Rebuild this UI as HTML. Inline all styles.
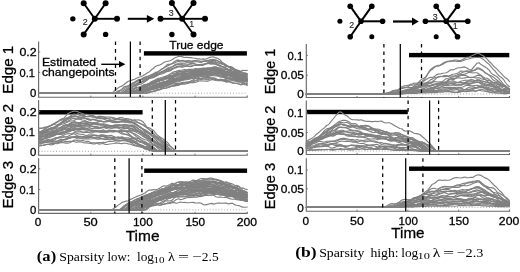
<!DOCTYPE html><html><head><meta charset="utf-8"><title>Changepoint figure</title><style>html,body{margin:0;padding:0;background:#fff;overflow:hidden}svg{display:block}</style></head><body>
<svg width="520" height="272" viewBox="0 0 520 272" font-family='"Liberation Sans", Arial, Helvetica, sans-serif' fill="#000">
<style>text{stroke:#000;stroke-width:0.28px}text.sf{stroke-width:0}</style>
<rect x="143.9" y="51.20" width="103.0" height="4.4" fill="#000"/>
<rect x="38.9" y="110.10" width="103.7" height="4.4" fill="#000"/>
<rect x="144.2" y="168.50" width="102.9" height="4.4" fill="#000"/>
<rect x="409.0" y="52.90" width="100.3" height="4.4" fill="#000"/>
<rect x="306.9" y="109.80" width="100.9" height="4.4" fill="#000"/>
<rect x="409.0" y="166.50" width="100.4" height="4.4" fill="#000"/>
<line x1="38.6" y1="93.20" x2="247.2" y2="93.20" stroke="#999" stroke-width="0.9" stroke-dasharray="1 1.9"/>
<path d="M38.60 41.5 V97.20 H247.20 v-1.6" fill="none" stroke="#6a6a6a" stroke-width="1.15"/>
<line x1="90.8" y1="97.2" x2="90.8" y2="95.6" stroke="#6a6a6a" stroke-width="0.9"/>
<line x1="142.9" y1="97.2" x2="142.9" y2="95.6" stroke="#6a6a6a" stroke-width="0.9"/>
<line x1="195.0" y1="97.2" x2="195.0" y2="95.6" stroke="#6a6a6a" stroke-width="0.9"/>
<line x1="38.6" y1="52.0" x2="40.2" y2="52.0" stroke="#6a6a6a" stroke-width="0.9"/>
<line x1="38.6" y1="72.4" x2="40.2" y2="72.4" stroke="#6a6a6a" stroke-width="0.9"/>
<line x1="38.6" y1="151.30" x2="247.2" y2="151.30" stroke="#999" stroke-width="0.9" stroke-dasharray="1 1.9"/>
<path d="M38.60 100.0 V155.20 H247.20 v-1.6" fill="none" stroke="#6a6a6a" stroke-width="1.15"/>
<line x1="90.8" y1="155.2" x2="90.8" y2="153.6" stroke="#6a6a6a" stroke-width="0.9"/>
<line x1="142.9" y1="155.2" x2="142.9" y2="153.6" stroke="#6a6a6a" stroke-width="0.9"/>
<line x1="195.0" y1="155.2" x2="195.0" y2="153.6" stroke="#6a6a6a" stroke-width="0.9"/>
<line x1="38.6" y1="111.5" x2="40.2" y2="111.5" stroke="#6a6a6a" stroke-width="0.9"/>
<line x1="38.6" y1="131.4" x2="40.2" y2="131.4" stroke="#6a6a6a" stroke-width="0.9"/>
<line x1="38.6" y1="209.90" x2="247.2" y2="209.90" stroke="#999" stroke-width="0.9" stroke-dasharray="1 1.9"/>
<path d="M38.60 158.3 V213.40 H247.20 v-1.6" fill="none" stroke="#6a6a6a" stroke-width="1.15"/>
<line x1="90.8" y1="213.4" x2="90.8" y2="211.8" stroke="#6a6a6a" stroke-width="0.9"/>
<line x1="142.9" y1="213.4" x2="142.9" y2="211.8" stroke="#6a6a6a" stroke-width="0.9"/>
<line x1="195.0" y1="213.4" x2="195.0" y2="211.8" stroke="#6a6a6a" stroke-width="0.9"/>
<line x1="38.6" y1="168.8" x2="40.2" y2="168.8" stroke="#6a6a6a" stroke-width="0.9"/>
<line x1="38.6" y1="189.5" x2="40.2" y2="189.5" stroke="#6a6a6a" stroke-width="0.9"/>
<line x1="306.3" y1="94.00" x2="509.5" y2="94.00" stroke="#999" stroke-width="0.9" stroke-dasharray="1 1.9"/>
<path d="M306.30 43.9 V97.50 H509.50 v-1.6" fill="none" stroke="#6a6a6a" stroke-width="1.15"/>
<line x1="357.1" y1="97.5" x2="357.1" y2="95.9" stroke="#6a6a6a" stroke-width="0.9"/>
<line x1="407.9" y1="97.5" x2="407.9" y2="95.9" stroke="#6a6a6a" stroke-width="0.9"/>
<line x1="458.7" y1="97.5" x2="458.7" y2="95.9" stroke="#6a6a6a" stroke-width="0.9"/>
<line x1="306.3" y1="55.4" x2="307.9" y2="55.4" stroke="#6a6a6a" stroke-width="0.9"/>
<line x1="306.3" y1="75.2" x2="307.9" y2="75.2" stroke="#6a6a6a" stroke-width="0.9"/>
<line x1="306.3" y1="151.00" x2="509.5" y2="151.00" stroke="#999" stroke-width="0.9" stroke-dasharray="1 1.9"/>
<path d="M306.30 100.5 V154.50 H509.50 v-1.6" fill="none" stroke="#6a6a6a" stroke-width="1.15"/>
<line x1="357.1" y1="154.5" x2="357.1" y2="152.9" stroke="#6a6a6a" stroke-width="0.9"/>
<line x1="407.9" y1="154.5" x2="407.9" y2="152.9" stroke="#6a6a6a" stroke-width="0.9"/>
<line x1="458.7" y1="154.5" x2="458.7" y2="152.9" stroke="#6a6a6a" stroke-width="0.9"/>
<line x1="306.3" y1="113.2" x2="307.9" y2="113.2" stroke="#6a6a6a" stroke-width="0.9"/>
<line x1="306.3" y1="132.4" x2="307.9" y2="132.4" stroke="#6a6a6a" stroke-width="0.9"/>
<line x1="306.3" y1="207.30" x2="509.5" y2="207.30" stroke="#999" stroke-width="0.9" stroke-dasharray="1 1.9"/>
<path d="M306.30 158.2 V211.20 H509.50 v-1.6" fill="none" stroke="#6a6a6a" stroke-width="1.15"/>
<line x1="357.1" y1="211.2" x2="357.1" y2="209.6" stroke="#6a6a6a" stroke-width="0.9"/>
<line x1="407.9" y1="211.2" x2="407.9" y2="209.6" stroke="#6a6a6a" stroke-width="0.9"/>
<line x1="458.7" y1="211.2" x2="458.7" y2="209.6" stroke="#6a6a6a" stroke-width="0.9"/>
<line x1="306.3" y1="170.0" x2="307.9" y2="170.0" stroke="#6a6a6a" stroke-width="0.9"/>
<line x1="306.3" y1="188.8" x2="307.9" y2="188.8" stroke="#6a6a6a" stroke-width="0.9"/>
<g fill="none" stroke="#808080" stroke-width="1.15" stroke-linejoin="round" stroke-linecap="round">
<path d="M38.6 93.2 40.7 93.2 42.8 93.2 44.9 93.2 46.9 93.2 49.0 93.2 51.1 93.2 53.2 93.2 55.3 93.2 57.4 93.2 59.5 93.2 61.5 93.2 63.6 93.2 65.7 93.2 67.8 93.2 69.9 93.2 72.0 93.2 74.1 93.2 76.1 93.2 78.2 93.2 80.3 93.2 82.4 93.2 84.5 93.2 86.6 93.2 88.7 93.2 90.8 93.2 92.8 93.2 94.9 93.2 97.0 93.2 99.1 93.2 101.2 93.2 103.3 93.2 105.4 93.2 107.4 93.2 109.5 93.2 111.6 93.2 113.7 93.2 115.8 93.2 117.9 93.2 120.0 93.2 122.0 93.2 124.1 93.0 126.2 91.8 128.3 91.0 130.4 90.1 132.5 88.5 134.6 87.8 136.6 86.0 138.7 84.6 140.8 84.2 142.9 83.0 145.0 81.8 147.1 80.0 149.2 78.1 151.2 77.2 153.3 77.6 155.4 76.5 157.5 74.6 159.6 73.3 161.7 73.0 163.8 72.6 165.8 71.6 167.9 70.8 170.0 70.2 172.1 69.5 174.2 68.3 176.3 67.4 178.4 66.8 180.4 67.0 182.5 67.3 184.6 66.7 186.7 66.0 188.8 66.5 190.9 66.7 193.0 65.7 195.0 65.2 197.1 64.7 199.2 65.1 201.3 65.4 203.4 65.2 205.5 63.6 207.6 63.0 209.7 64.0 211.7 64.1 213.8 63.7 215.9 64.5 218.0 65.4 220.1 66.2 222.2 66.8 224.3 67.4 226.3 68.5 228.4 69.5 230.5 70.8 232.6 72.1 234.7 73.9 236.8 74.5 238.9 74.4 240.9 75.3 243.0 75.7 245.1 76.2 247.2 76.6"/>
<path d="M38.6 93.2 40.7 93.2 42.8 93.2 44.9 93.2 46.9 93.2 49.0 93.2 51.1 93.2 53.2 93.2 55.3 93.2 57.4 93.2 59.5 93.2 61.5 93.2 63.6 93.2 65.7 93.2 67.8 93.2 69.9 93.2 72.0 93.2 74.1 93.2 76.1 93.2 78.2 93.2 80.3 93.2 82.4 93.2 84.5 93.2 86.6 93.2 88.7 93.2 90.8 93.2 92.8 93.2 94.9 93.2 97.0 93.2 99.1 93.2 101.2 93.2 103.3 93.2 105.4 93.2 107.4 93.2 109.5 93.2 111.6 93.2 113.7 93.2 115.8 93.2 117.9 93.2 120.0 93.1 122.0 92.6 124.1 91.8 126.2 90.6 128.3 89.0 130.4 87.9 132.5 86.6 134.6 84.7 136.6 83.4 138.7 82.5 140.8 82.0 142.9 81.7 145.0 81.0 147.1 79.9 149.2 78.5 151.2 78.0 153.3 77.6 155.4 76.4 157.5 75.6 159.6 74.4 161.7 74.0 163.8 73.2 165.8 71.9 167.9 71.4 170.0 71.0 172.1 69.2 174.2 67.9 176.3 67.8 178.4 66.1 180.4 66.4 182.5 66.3 184.6 66.0 186.7 65.8 188.8 64.7 190.9 64.7 193.0 65.2 195.0 65.3 197.1 65.5 199.2 64.9 201.3 64.3 203.4 64.7 205.5 64.0 207.6 62.9 209.7 61.9 211.7 61.6 213.8 62.0 215.9 62.4 218.0 62.8 220.1 63.7 222.2 64.3 224.3 64.4 226.3 65.1 228.4 66.7 230.5 68.0 232.6 69.1 234.7 70.8 236.8 71.5 238.9 72.1 240.9 71.9 243.0 73.1 245.1 74.5 247.2 76.0"/>
<path d="M38.6 93.2 40.7 93.2 42.8 93.2 44.9 93.2 46.9 93.2 49.0 93.2 51.1 93.2 53.2 93.2 55.3 93.2 57.4 93.2 59.5 93.2 61.5 93.2 63.6 93.2 65.7 93.2 67.8 93.2 69.9 93.2 72.0 93.2 74.1 93.2 76.1 93.2 78.2 93.2 80.3 93.2 82.4 93.2 84.5 93.2 86.6 93.2 88.7 93.2 90.8 93.2 92.8 93.2 94.9 93.2 97.0 93.2 99.1 93.2 101.2 93.2 103.3 93.2 105.4 93.2 107.4 93.2 109.5 93.2 111.6 93.2 113.7 93.2 115.8 92.2 117.9 91.1 120.0 90.4 122.0 88.9 124.1 86.9 126.2 86.2 128.3 85.9 130.4 84.4 132.5 83.2 134.6 82.3 136.6 81.7 138.7 81.0 140.8 79.8 142.9 79.4 145.0 78.8 147.1 78.2 149.2 77.3 151.2 76.0 153.3 75.2 155.4 74.9 157.5 74.2 159.6 73.0 161.7 71.6 163.8 71.0 165.8 70.4 167.9 69.9 170.0 69.1 172.1 68.5 174.2 68.1 176.3 66.6 178.4 66.2 180.4 66.2 182.5 65.6 184.6 65.7 186.7 66.0 188.8 66.4 190.9 66.4 193.0 65.5 195.0 64.9 197.1 65.0 199.2 64.6 201.3 64.9 203.4 64.6 205.5 63.9 207.6 63.6 209.7 63.3 211.7 63.5 213.8 63.6 215.9 64.1 218.0 64.8 220.1 65.6 222.2 66.4 224.3 66.9 226.3 68.4 228.4 69.6 230.5 69.5 232.6 71.4 234.7 72.7 236.8 72.1 238.9 72.4 240.9 73.7 243.0 74.4 245.1 74.2 247.2 73.9"/>
<path d="M38.6 93.2 40.7 93.2 42.8 93.2 44.9 93.2 46.9 93.2 49.0 93.2 51.1 93.2 53.2 93.2 55.3 93.2 57.4 93.2 59.5 93.2 61.5 93.2 63.6 93.2 65.7 93.2 67.8 93.2 69.9 93.2 72.0 93.2 74.1 93.2 76.1 93.2 78.2 93.2 80.3 93.2 82.4 93.2 84.5 93.2 86.6 93.2 88.7 93.2 90.8 93.2 92.8 93.2 94.9 93.2 97.0 93.2 99.1 93.2 101.2 93.2 103.3 93.2 105.4 93.2 107.4 93.2 109.5 93.2 111.6 93.2 113.7 93.2 115.8 93.2 117.9 93.2 120.0 93.2 122.0 92.9 124.1 91.9 126.2 90.2 128.3 89.9 130.4 88.7 132.5 87.1 134.6 86.0 136.6 84.8 138.7 83.4 140.8 82.1 142.9 80.8 145.0 79.1 147.1 78.9 149.2 77.8 151.2 76.8 153.3 75.7 155.4 74.2 157.5 73.0 159.6 72.9 161.7 72.1 163.8 70.6 165.8 69.4 167.9 68.0 170.0 67.3 172.1 66.9 174.2 66.1 176.3 64.9 178.4 64.1 180.4 64.6 182.5 64.3 184.6 64.2 186.7 64.3 188.8 64.1 190.9 63.3 193.0 63.4 195.0 63.8 197.1 64.6 199.2 65.1 201.3 64.7 203.4 64.1 205.5 63.8 207.6 63.4 209.7 62.6 211.7 62.6 213.8 62.8 215.9 63.3 218.0 64.5 220.1 65.6 222.2 67.0 224.3 67.7 226.3 68.4 228.4 69.7 230.5 71.3 232.6 72.4 234.7 73.2 236.8 73.5 238.9 74.1 240.9 75.2 243.0 76.0 245.1 75.6 247.2 76.0"/>
<path d="M38.6 93.2 40.7 93.2 42.8 93.2 44.9 93.2 46.9 93.2 49.0 93.2 51.1 93.2 53.2 93.2 55.3 93.2 57.4 93.2 59.5 93.2 61.5 93.2 63.6 93.2 65.7 93.2 67.8 93.2 69.9 93.2 72.0 93.2 74.1 93.2 76.1 93.2 78.2 93.2 80.3 93.2 82.4 93.2 84.5 93.2 86.6 93.2 88.7 93.2 90.8 93.2 92.8 93.2 94.9 93.2 97.0 93.2 99.1 93.2 101.2 93.2 103.3 93.2 105.4 93.2 107.4 93.2 109.5 93.2 111.6 93.2 113.7 93.2 115.8 93.2 117.9 93.2 120.0 93.2 122.0 93.2 124.1 92.3 126.2 90.8 128.3 89.0 130.4 87.9 132.5 86.5 134.6 85.0 136.6 84.3 138.7 83.3 140.8 82.6 142.9 81.3 145.0 80.1 147.1 79.1 149.2 78.4 151.2 77.7 153.3 76.5 155.4 75.4 157.5 73.9 159.6 73.0 161.7 72.6 163.8 71.2 165.8 70.1 167.9 68.8 170.0 68.0 172.1 67.0 174.2 65.1 176.3 64.1 178.4 63.7 180.4 63.8 182.5 63.3 184.6 63.2 186.7 62.8 188.8 62.2 190.9 61.9 193.0 62.2 195.0 61.7 197.1 61.7 199.2 62.3 201.3 62.4 203.4 61.5 205.5 60.8 207.6 60.2 209.7 60.3 211.7 60.5 213.8 60.5 215.9 61.8 218.0 62.7 220.1 63.3 222.2 63.6 224.3 65.0 226.3 66.7 228.4 66.5 230.5 67.4 232.6 68.0 234.7 69.0 236.8 69.9 238.9 70.7 240.9 72.0 243.0 73.2 245.1 73.5 247.2 74.5"/>
<path d="M38.6 93.2 40.7 93.2 42.8 93.2 44.9 93.2 46.9 93.2 49.0 93.2 51.1 93.2 53.2 93.2 55.3 93.2 57.4 93.2 59.5 93.2 61.5 93.2 63.6 93.2 65.7 93.2 67.8 93.2 69.9 93.2 72.0 93.2 74.1 93.2 76.1 93.2 78.2 93.2 80.3 93.2 82.4 93.2 84.5 93.2 86.6 93.2 88.7 93.2 90.8 93.2 92.8 93.2 94.9 93.2 97.0 93.2 99.1 93.2 101.2 93.2 103.3 93.2 105.4 93.2 107.4 93.2 109.5 93.2 111.6 93.2 113.7 93.2 115.8 93.2 117.9 93.2 120.0 92.9 122.0 91.7 124.1 90.1 126.2 88.9 128.3 87.6 130.4 86.1 132.5 84.8 134.6 83.0 136.6 81.0 138.7 79.4 140.8 79.6 142.9 78.7 145.0 77.9 147.1 77.2 149.2 76.0 151.2 75.1 153.3 73.7 155.4 72.4 157.5 72.1 159.6 70.4 161.7 69.1 163.8 68.3 165.8 66.9 167.9 65.8 170.0 64.8 172.1 63.7 174.2 63.3 176.3 62.0 178.4 61.4 180.4 61.9 182.5 61.7 184.6 61.6 186.7 61.4 188.8 62.0 190.9 61.7 193.0 61.1 195.0 60.5 197.1 61.0 199.2 61.0 201.3 61.7 203.4 61.2 205.5 61.0 207.6 61.0 209.7 61.4 211.7 61.8 213.8 60.9 215.9 59.9 218.0 60.9 220.1 62.0 222.2 62.5 224.3 63.9 226.3 65.3 228.4 66.3 230.5 66.5 232.6 67.4 234.7 69.5 236.8 70.3 238.9 70.7 240.9 71.7 243.0 73.9 245.1 74.2 247.2 74.8"/>
<path d="M38.6 93.2 40.7 93.2 42.8 93.2 44.9 93.2 46.9 93.2 49.0 93.2 51.1 93.2 53.2 93.2 55.3 93.2 57.4 93.2 59.5 93.2 61.5 93.2 63.6 93.2 65.7 93.2 67.8 93.2 69.9 93.2 72.0 93.2 74.1 93.2 76.1 93.2 78.2 93.2 80.3 93.2 82.4 93.2 84.5 93.2 86.6 93.2 88.7 93.2 90.8 93.2 92.8 93.2 94.9 93.2 97.0 93.2 99.1 93.2 101.2 93.2 103.3 93.2 105.4 93.2 107.4 93.2 109.5 93.2 111.6 93.2 113.7 93.2 115.8 93.1 117.9 91.9 120.0 91.1 122.0 90.1 124.1 88.4 126.2 87.3 128.3 86.0 130.4 84.4 132.5 83.2 134.6 82.2 136.6 80.7 138.7 80.4 140.8 79.5 142.9 78.0 145.0 77.0 147.1 76.3 149.2 75.7 151.2 74.9 153.3 74.4 155.4 73.7 157.5 72.0 159.6 71.0 161.7 69.4 163.8 67.6 165.8 66.0 167.9 64.3 170.0 64.4 172.1 63.5 174.2 61.8 176.3 60.4 178.4 60.1 180.4 60.7 182.5 60.2 184.6 60.8 186.7 60.8 188.8 60.5 190.9 61.1 193.0 61.1 195.0 60.7 197.1 60.8 199.2 61.0 201.3 61.3 203.4 61.1 205.5 61.4 207.6 61.2 209.7 59.9 211.7 59.6 213.8 59.4 215.9 60.2 218.0 61.0 220.1 62.0 222.2 63.2 224.3 63.8 226.3 65.3 228.4 66.8 230.5 68.4 232.6 68.9 234.7 70.0 236.8 70.7 238.9 71.3 240.9 71.1 243.0 70.4 245.1 70.5 247.2 70.4"/>
<path d="M38.6 93.2 40.7 93.2 42.8 93.2 44.9 93.2 46.9 93.2 49.0 93.2 51.1 93.2 53.2 93.2 55.3 93.2 57.4 93.2 59.5 93.2 61.5 93.2 63.6 93.2 65.7 93.2 67.8 93.2 69.9 93.2 72.0 93.2 74.1 93.2 76.1 93.2 78.2 93.2 80.3 93.2 82.4 93.2 84.5 93.2 86.6 93.2 88.7 93.2 90.8 93.2 92.8 93.2 94.9 93.2 97.0 93.2 99.1 93.2 101.2 93.2 103.3 93.2 105.4 93.2 107.4 93.2 109.5 93.2 111.6 93.1 113.7 91.6 115.8 89.7 117.9 88.1 120.0 86.8 122.0 86.1 124.1 84.5 126.2 82.8 128.3 81.3 130.4 80.7 132.5 79.9 134.6 79.3 136.6 78.2 138.7 77.3 140.8 76.8 142.9 75.8 145.0 74.4 147.1 73.0 149.2 71.9 151.2 70.0 153.3 68.5 155.4 66.4 157.5 65.4 159.6 65.1 161.7 64.1 163.8 62.3 165.8 61.8 167.9 61.3 170.0 60.8 172.1 59.7 174.2 58.2 176.3 57.3 178.4 56.5 180.4 56.3 182.5 56.9 184.6 57.5 186.7 57.3 188.8 57.6 190.9 57.6 193.0 58.0 195.0 58.3 197.1 58.9 199.2 58.9 201.3 59.2 203.4 58.9 205.5 59.2 207.6 58.2 209.7 57.4 211.7 57.0 213.8 56.9 215.9 57.9 218.0 58.5 220.1 59.9 222.2 62.4 224.3 64.1 226.3 65.4 228.4 66.5 230.5 68.0 232.6 69.7 234.7 70.1 236.8 70.9 238.9 71.7 240.9 71.9 243.0 72.5 245.1 72.9 247.2 73.8"/>
<path d="M38.6 93.2 40.7 93.2 42.8 93.2 44.9 93.2 46.9 93.2 49.0 93.2 51.1 93.2 53.2 93.2 55.3 93.2 57.4 93.2 59.5 93.2 61.5 93.2 63.6 93.2 65.7 93.2 67.8 93.2 69.9 93.2 72.0 93.2 74.1 93.2 76.1 93.2 78.2 93.2 80.3 93.2 82.4 93.2 84.5 93.2 86.6 93.2 88.7 93.2 90.8 93.2 92.8 93.2 94.9 93.2 97.0 93.2 99.1 93.2 101.2 93.2 103.3 93.2 105.4 93.2 107.4 93.2 109.5 93.2 111.6 93.2 113.7 93.2 115.8 93.2 117.9 93.2 120.0 93.2 122.0 93.2 124.1 93.2 126.2 93.2 128.3 93.2 130.4 93.2 132.5 93.2 134.6 93.2 136.6 93.2 138.7 93.2 140.8 92.5 142.9 91.9 145.0 90.5 147.1 88.7 149.2 89.1 151.2 89.0 153.3 88.9 155.4 87.9 157.5 87.2 159.6 86.3 161.7 86.0 163.8 85.6 165.8 84.3 167.9 84.0 170.0 83.6 172.1 82.7 174.2 82.0 176.3 80.8 178.4 80.1 180.4 79.5 182.5 78.8 184.6 78.6 186.7 77.7 188.8 77.6 190.9 76.1 193.0 75.7 195.0 75.7 197.1 75.3 199.2 74.4 201.3 74.3 203.4 74.3 205.5 74.1 207.6 74.7 209.7 74.8 211.7 74.4 213.8 74.2 215.9 74.8 218.0 75.4 220.1 75.8 222.2 75.9 224.3 76.4 226.3 77.9 228.4 78.5 230.5 78.7 232.6 78.7 234.7 78.8 236.8 79.3 238.9 79.2 240.9 79.2 243.0 80.1 245.1 80.4 247.2 80.4"/>
<path d="M38.6 93.2 40.7 93.2 42.8 93.2 44.9 93.2 46.9 93.2 49.0 93.2 51.1 93.2 53.2 93.2 55.3 93.2 57.4 93.2 59.5 93.2 61.5 93.2 63.6 93.2 65.7 93.2 67.8 93.2 69.9 93.2 72.0 93.2 74.1 93.2 76.1 93.2 78.2 93.2 80.3 93.2 82.4 93.2 84.5 93.2 86.6 93.2 88.7 93.2 90.8 93.2 92.8 93.2 94.9 93.2 97.0 93.2 99.1 93.2 101.2 93.2 103.3 93.2 105.4 93.2 107.4 93.2 109.5 93.2 111.6 93.2 113.7 93.2 115.8 93.2 117.9 93.2 120.0 93.2 122.0 93.2 124.1 93.2 126.2 93.2 128.3 93.2 130.4 93.2 132.5 93.2 134.6 93.2 136.6 93.2 138.7 93.2 140.8 92.7 142.9 92.0 145.0 91.0 147.1 89.8 149.2 89.4 151.2 89.4 153.3 88.7 155.4 87.9 157.5 87.5 159.6 87.5 161.7 86.5 163.8 85.8 165.8 84.8 167.9 83.9 170.0 83.6 172.1 82.8 174.2 81.6 176.3 80.6 178.4 80.6 180.4 80.7 182.5 80.1 184.6 79.1 186.7 78.7 188.8 79.0 190.9 78.8 193.0 78.5 195.0 78.2 197.1 78.0 199.2 77.3 201.3 76.5 203.4 76.1 205.5 76.1 207.6 76.2 209.7 76.0 211.7 75.5 213.8 74.5 215.9 74.4 218.0 75.0 220.1 75.5 222.2 76.6 224.3 77.7 226.3 78.6 228.4 78.9 230.5 79.5 232.6 79.9 234.7 80.2 236.8 80.8 238.9 81.2 240.9 81.0 243.0 81.0 245.1 81.1 247.2 81.2"/>
<path d="M38.6 93.2 40.7 93.2 42.8 93.2 44.9 93.2 46.9 93.2 49.0 93.2 51.1 93.2 53.2 93.2 55.3 93.2 57.4 93.2 59.5 93.2 61.5 93.2 63.6 93.2 65.7 93.2 67.8 93.2 69.9 93.2 72.0 93.2 74.1 93.2 76.1 93.2 78.2 93.2 80.3 93.2 82.4 93.2 84.5 93.2 86.6 93.2 88.7 93.2 90.8 93.2 92.8 93.2 94.9 93.2 97.0 93.2 99.1 93.2 101.2 93.2 103.3 93.2 105.4 93.2 107.4 93.2 109.5 93.2 111.6 93.2 113.7 93.2 115.8 93.2 117.9 93.2 120.0 93.2 122.0 93.2 124.1 93.2 126.2 93.2 128.3 93.2 130.4 93.2 132.5 93.2 134.6 93.2 136.6 93.2 138.7 93.1 140.8 92.8 142.9 92.4 145.0 91.4 147.1 90.3 149.2 89.6 151.2 89.2 153.3 88.7 155.4 87.5 157.5 87.0 159.6 86.5 161.7 86.0 163.8 85.7 165.8 85.2 167.9 84.7 170.0 84.2 172.1 83.2 174.2 82.4 176.3 81.9 178.4 81.9 180.4 80.8 182.5 80.3 184.6 80.0 186.7 79.7 188.8 79.2 190.9 78.6 193.0 77.5 195.0 77.0 197.1 76.3 199.2 75.9 201.3 76.1 203.4 76.1 205.5 75.9 207.6 75.6 209.7 75.7 211.7 75.8 213.8 75.7 215.9 75.9 218.0 76.1 220.1 77.1 222.2 77.1 224.3 77.6 226.3 78.7 228.4 78.7 230.5 78.8 232.6 79.0 234.7 79.6 236.8 79.5 238.9 79.9 240.9 79.9 243.0 79.8 245.1 81.1 247.2 82.8"/>
<path d="M38.6 93.2 40.7 93.2 42.8 93.2 44.9 93.2 46.9 93.2 49.0 93.2 51.1 93.2 53.2 93.2 55.3 93.2 57.4 93.2 59.5 93.2 61.5 93.2 63.6 93.2 65.7 93.2 67.8 93.2 69.9 93.2 72.0 93.2 74.1 93.2 76.1 93.2 78.2 93.2 80.3 93.2 82.4 93.2 84.5 93.2 86.6 93.2 88.7 93.2 90.8 93.2 92.8 93.2 94.9 93.2 97.0 93.2 99.1 93.2 101.2 93.2 103.3 93.2 105.4 93.2 107.4 93.2 109.5 93.2 111.6 93.2 113.7 93.2 115.8 93.2 117.9 93.2 120.0 93.2 122.0 93.2 124.1 93.2 126.2 93.2 128.3 93.2 130.4 93.2 132.5 93.2 134.6 93.2 136.6 93.2 138.7 93.2 140.8 92.6 142.9 91.6 145.0 91.3 147.1 90.8 149.2 89.7 151.2 89.0 153.3 88.8 155.4 88.9 157.5 87.9 159.6 86.4 161.7 85.5 163.8 85.1 165.8 84.0 167.9 83.0 170.0 82.3 172.1 82.1 174.2 81.2 176.3 80.8 178.4 79.9 180.4 79.7 182.5 79.9 184.6 79.3 186.7 78.3 188.8 77.7 190.9 77.8 193.0 77.1 195.0 76.0 197.1 75.5 199.2 75.5 201.3 75.0 203.4 74.4 205.5 74.3 207.6 73.7 209.7 73.2 211.7 73.7 213.8 74.2 215.9 73.2 218.0 73.0 220.1 73.2 222.2 74.0 224.3 74.8 226.3 74.3 228.4 74.5 230.5 74.8 232.6 75.6 234.7 76.2 236.8 76.7 238.9 76.9 240.9 78.0 243.0 79.2 245.1 80.2 247.2 80.3"/>
<path d="M38.6 93.2 40.7 93.2 42.8 93.2 44.9 93.2 46.9 93.2 49.0 93.2 51.1 93.2 53.2 93.2 55.3 93.2 57.4 93.2 59.5 93.2 61.5 93.2 63.6 93.2 65.7 93.2 67.8 93.2 69.9 93.2 72.0 93.2 74.1 93.2 76.1 93.2 78.2 93.2 80.3 93.2 82.4 93.2 84.5 93.2 86.6 93.2 88.7 93.2 90.8 93.2 92.8 93.2 94.9 93.2 97.0 93.2 99.1 93.2 101.2 93.2 103.3 93.2 105.4 93.2 107.4 93.2 109.5 93.2 111.6 93.2 113.7 93.2 115.8 93.2 117.9 93.2 120.0 93.2 122.0 93.2 124.1 93.2 126.2 93.2 128.3 93.2 130.4 93.2 132.5 93.2 134.6 93.2 136.6 93.2 138.7 93.2 140.8 92.5 142.9 91.4 145.0 90.4 147.1 89.2 149.2 88.5 151.2 88.3 153.3 87.2 155.4 86.4 157.5 86.0 159.6 85.4 161.7 85.0 163.8 84.0 165.8 83.7 167.9 82.9 170.0 81.6 172.1 81.0 174.2 81.2 176.3 80.8 178.4 80.2 180.4 80.9 182.5 79.2 184.6 78.6 186.7 79.0 188.8 78.0 190.9 77.4 193.0 77.3 195.0 77.7 197.1 76.7 199.2 75.9 201.3 75.7 203.4 75.8 205.5 76.1 207.6 76.8 209.7 75.8 211.7 75.1 213.8 74.6 215.9 74.7 218.0 74.9 220.1 74.9 222.2 75.0 224.3 76.1 226.3 76.2 228.4 77.3 230.5 78.6 232.6 79.1 234.7 79.0 236.8 79.8 238.9 79.5 240.9 79.8 243.0 80.6 245.1 80.8 247.2 80.4"/>
<path d="M38.6 93.2 40.7 93.2 42.8 93.2 44.9 93.2 46.9 93.2 49.0 93.2 51.1 93.2 53.2 93.2 55.3 93.2 57.4 93.2 59.5 93.2 61.5 93.2 63.6 93.2 65.7 93.2 67.8 93.2 69.9 93.2 72.0 93.2 74.1 93.2 76.1 93.2 78.2 93.2 80.3 93.2 82.4 93.2 84.5 93.2 86.6 93.2 88.7 93.2 90.8 93.2 92.8 93.2 94.9 93.2 97.0 93.2 99.1 93.2 101.2 93.2 103.3 93.2 105.4 93.2 107.4 93.2 109.5 93.2 111.6 93.2 113.7 93.2 115.8 93.2 117.9 93.2 120.0 93.2 122.0 93.2 124.1 93.2 126.2 93.2 128.3 93.2 130.4 93.2 132.5 93.2 134.6 93.2 136.6 93.2 138.7 92.9 140.8 92.0 142.9 91.6 145.0 91.2 147.1 90.8 149.2 89.7 151.2 88.7 153.3 87.8 155.4 87.2 157.5 86.2 159.6 85.6 161.7 84.9 163.8 83.8 165.8 83.5 167.9 82.5 170.0 81.1 172.1 81.0 174.2 81.1 176.3 80.3 178.4 79.6 180.4 79.2 182.5 78.9 184.6 78.0 186.7 77.6 188.8 76.4 190.9 75.5 193.0 74.6 195.0 74.1 197.1 75.1 199.2 75.2 201.3 74.9 203.4 74.4 205.5 73.9 207.6 74.2 209.7 74.5 211.7 74.6 213.8 74.3 215.9 74.3 218.0 74.8 220.1 75.7 222.2 75.7 224.3 75.9 226.3 76.7 228.4 77.7 230.5 77.7 232.6 78.1 234.7 79.1 236.8 80.2 238.9 80.7 240.9 80.6 243.0 81.2 245.1 81.4 247.2 80.8"/>
<path d="M38.6 93.2 40.7 93.2 42.8 93.2 44.9 93.2 46.9 93.2 49.0 93.2 51.1 93.2 53.2 93.2 55.3 93.2 57.4 93.2 59.5 93.2 61.5 93.2 63.6 93.2 65.7 93.2 67.8 93.2 69.9 93.2 72.0 93.2 74.1 93.2 76.1 93.2 78.2 93.2 80.3 93.2 82.4 93.2 84.5 93.2 86.6 93.2 88.7 93.2 90.8 93.2 92.8 93.2 94.9 93.2 97.0 93.2 99.1 93.2 101.2 93.2 103.3 93.2 105.4 93.2 107.4 93.2 109.5 93.2 111.6 93.2 113.7 93.2 115.8 93.2 117.9 93.2 120.0 93.2 122.0 93.2 124.1 93.2 126.2 93.2 128.3 93.2 130.4 93.2 132.5 93.2 134.6 93.2 136.6 93.2 138.7 92.8 140.8 91.7 142.9 90.7 145.0 90.5 147.1 89.6 149.2 89.2 151.2 88.6 153.3 88.0 155.4 86.9 157.5 85.2 159.6 84.4 161.7 84.0 163.8 83.4 165.8 83.3 167.9 83.1 170.0 82.5 172.1 81.0 174.2 79.9 176.3 79.2 178.4 79.2 180.4 78.9 182.5 78.6 184.6 77.5 186.7 77.1 188.8 77.0 190.9 77.0 193.0 76.7 195.0 76.0 197.1 74.9 199.2 74.4 201.3 73.5 203.4 73.3 205.5 73.7 207.6 73.6 209.7 73.1 211.7 72.6 213.8 72.5 215.9 71.9 218.0 72.1 220.1 73.2 222.2 75.1 224.3 76.0 226.3 75.4 228.4 75.6 230.5 76.7 232.6 77.1 234.7 77.7 236.8 78.2 238.9 78.4 240.9 79.2 243.0 79.5 245.1 79.9 247.2 80.9"/>
<path d="M38.6 93.2 40.7 93.2 42.8 93.2 44.9 93.2 46.9 93.2 49.0 93.2 51.1 93.2 53.2 93.2 55.3 93.2 57.4 93.2 59.5 93.2 61.5 93.2 63.6 93.2 65.7 93.2 67.8 93.2 69.9 93.2 72.0 93.2 74.1 93.2 76.1 93.2 78.2 93.2 80.3 93.2 82.4 93.2 84.5 93.2 86.6 93.2 88.7 93.2 90.8 93.2 92.8 93.2 94.9 93.2 97.0 93.2 99.1 93.2 101.2 93.2 103.3 93.2 105.4 93.2 107.4 93.2 109.5 93.2 111.6 93.2 113.7 93.2 115.8 93.2 117.9 93.2 120.0 93.2 122.0 93.2 124.1 93.2 126.2 93.2 128.3 93.2 130.4 93.2 132.5 93.2 134.6 92.4 136.6 91.4 138.7 89.9 140.8 88.4 142.9 87.6 145.0 87.4 147.1 86.6 149.2 85.6 151.2 85.0 153.3 84.4 155.4 83.8 157.5 83.3 159.6 82.9 161.7 82.6 163.8 82.7 165.8 82.3 167.9 81.9 170.0 81.2 172.1 80.6 174.2 79.5 176.3 78.8 178.4 78.9 180.4 78.4 182.5 77.2 184.6 76.2 186.7 75.9 188.8 75.8 190.9 75.6 193.0 75.2 195.0 74.4 197.1 73.7 199.2 73.3 201.3 73.3 203.4 73.4 205.5 73.1 207.6 72.8 209.7 72.9 211.7 72.8 213.8 73.2 215.9 73.2 218.0 73.4 220.1 73.7 222.2 74.1 224.3 74.4 226.3 75.2 228.4 75.5 230.5 75.2 232.6 75.8 234.7 76.3 236.8 76.8 238.9 76.6 240.9 77.2 243.0 78.7 245.1 79.7 247.2 79.6"/>
<path d="M38.6 93.2 40.7 93.2 42.8 93.2 44.9 93.2 46.9 93.2 49.0 93.2 51.1 93.2 53.2 93.2 55.3 93.2 57.4 93.2 59.5 93.2 61.5 93.2 63.6 93.2 65.7 93.2 67.8 93.2 69.9 93.2 72.0 93.2 74.1 93.2 76.1 93.2 78.2 93.2 80.3 93.2 82.4 93.2 84.5 93.2 86.6 93.2 88.7 93.2 90.8 93.2 92.8 93.2 94.9 93.2 97.0 93.2 99.1 93.2 101.2 93.2 103.3 93.2 105.4 93.2 107.4 93.2 109.5 93.2 111.6 93.2 113.7 93.2 115.8 93.2 117.9 93.2 120.0 93.2 122.0 93.2 124.1 93.2 126.2 93.2 128.3 93.2 130.4 93.2 132.5 93.2 134.6 93.1 136.6 92.0 138.7 91.4 140.8 91.4 142.9 90.7 145.0 90.0 147.1 89.5 149.2 88.2 151.2 86.9 153.3 85.7 155.4 85.0 157.5 84.4 159.6 83.4 161.7 82.3 163.8 81.5 165.8 81.4 167.9 80.7 170.0 78.4 172.1 77.7 174.2 77.1 176.3 76.0 178.4 76.1 180.4 76.0 182.5 75.3 184.6 74.6 186.7 74.2 188.8 73.6 190.9 73.1 193.0 72.4 195.0 72.3 197.1 72.7 199.2 72.3 201.3 72.2 203.4 72.0 205.5 71.5 207.6 71.0 209.7 71.8 211.7 72.3 213.8 71.8 215.9 71.8 218.0 71.4 220.1 71.8 222.2 72.3 224.3 73.5 226.3 74.3 228.4 74.6 230.5 75.5 232.6 76.1 234.7 76.5 236.8 77.2 238.9 78.4 240.9 79.1 243.0 78.8 245.1 79.7 247.2 80.3"/>
<path d="M38.6 93.2 40.7 93.2 42.8 93.2 44.9 93.2 46.9 93.2 49.0 93.2 51.1 93.2 53.2 93.2 55.3 93.2 57.4 93.2 59.5 93.2 61.5 93.2 63.6 93.2 65.7 93.2 67.8 93.2 69.9 93.2 72.0 93.2 74.1 93.2 76.1 93.2 78.2 93.2 80.3 93.2 82.4 93.2 84.5 93.2 86.6 93.2 88.7 93.2 90.8 93.2 92.8 93.2 94.9 93.2 97.0 93.2 99.1 93.2 101.2 93.2 103.3 93.2 105.4 93.2 107.4 93.2 109.5 93.2 111.6 93.2 113.7 93.2 115.8 93.2 117.9 93.2 120.0 93.2 122.0 93.2 124.1 93.2 126.2 93.2 128.3 93.2 130.4 93.2 132.5 93.2 134.6 93.2 136.6 92.8 138.7 91.6 140.8 90.6 142.9 89.8 145.0 89.4 147.1 89.3 149.2 88.8 151.2 86.8 153.3 85.6 155.4 84.9 157.5 84.1 159.6 83.1 161.7 82.4 163.8 82.1 165.8 81.5 167.9 80.4 170.0 79.2 172.1 78.2 174.2 78.4 176.3 77.7 178.4 77.3 180.4 76.7 182.5 75.6 184.6 76.1 186.7 76.2 188.8 75.9 190.9 75.2 193.0 75.3 195.0 75.3 197.1 74.3 199.2 73.5 201.3 73.5 203.4 73.5 205.5 73.8 207.6 73.7 209.7 73.3 211.7 73.2 213.8 72.7 215.9 72.7 218.0 72.8 220.1 72.7 222.2 73.2 224.3 73.4 226.3 74.1 228.4 75.2 230.5 76.1 232.6 76.6 234.7 77.3 236.8 77.4 238.9 78.3 240.9 79.0 243.0 79.3 245.1 79.8 247.2 79.8"/>
<path d="M38.6 93.2 40.7 93.2 42.8 93.2 44.9 93.2 46.9 93.2 49.0 93.2 51.1 93.2 53.2 93.2 55.3 93.2 57.4 93.2 59.5 93.2 61.5 93.2 63.6 93.2 65.7 93.2 67.8 93.2 69.9 93.2 72.0 93.2 74.1 93.2 76.1 93.2 78.2 93.2 80.3 93.2 82.4 93.2 84.5 93.2 86.6 93.2 88.7 93.2 90.8 93.2 92.8 93.2 94.9 93.2 97.0 93.2 99.1 93.2 101.2 93.2 103.3 93.2 105.4 93.2 107.4 93.2 109.5 93.2 111.6 93.2 113.7 93.2 115.8 93.2 117.9 93.2 120.0 93.2 122.0 93.2 124.1 93.2 126.2 93.2 128.3 93.2 130.4 93.2 132.5 93.2 134.6 93.0 136.6 92.2 138.7 91.7 140.8 91.3 142.9 90.2 145.0 89.1 147.1 88.2 149.2 86.8 151.2 86.2 153.3 86.0 155.4 85.3 157.5 84.9 159.6 84.4 161.7 83.7 163.8 82.7 165.8 83.1 167.9 82.4 170.0 81.2 172.1 80.7 174.2 80.9 176.3 80.1 178.4 79.0 180.4 78.5 182.5 77.8 184.6 77.0 186.7 76.2 188.8 75.5 190.9 75.3 193.0 74.1 195.0 73.4 197.1 72.6 199.2 71.9 201.3 71.2 203.4 71.9 205.5 71.5 207.6 71.6 209.7 71.5 211.7 70.9 213.8 70.9 215.9 70.7 218.0 71.2 220.1 72.1 222.2 72.0 224.3 72.8 226.3 74.1 228.4 75.0 230.5 75.9 232.6 76.3 234.7 76.6 236.8 77.0 238.9 77.7 240.9 78.4 243.0 78.8 245.1 79.2 247.2 79.2"/>
<path d="M38.6 93.2 40.7 93.2 42.8 93.2 44.9 93.2 46.9 93.2 49.0 93.2 51.1 93.2 53.2 93.2 55.3 93.2 57.4 93.2 59.5 93.2 61.5 93.2 63.6 93.2 65.7 93.2 67.8 93.2 69.9 93.2 72.0 93.2 74.1 93.2 76.1 93.2 78.2 93.2 80.3 93.2 82.4 93.2 84.5 93.2 86.6 93.2 88.7 93.2 90.8 93.2 92.8 93.2 94.9 93.2 97.0 93.2 99.1 93.2 101.2 93.2 103.3 93.2 105.4 93.2 107.4 93.2 109.5 93.2 111.6 93.2 113.7 93.2 115.8 93.2 117.9 93.2 120.0 93.2 122.0 93.2 124.1 93.2 126.2 93.2 128.3 93.2 130.4 93.2 132.5 93.2 134.6 93.0 136.6 92.4 138.7 91.4 140.8 90.1 142.9 88.9 145.0 87.9 147.1 87.5 149.2 87.3 151.2 86.5 153.3 86.0 155.4 85.2 157.5 84.8 159.6 84.2 161.7 83.7 163.8 83.5 165.8 82.5 167.9 81.6 170.0 79.9 172.1 79.0 174.2 79.2 176.3 78.7 178.4 77.2 180.4 76.7 182.5 76.1 184.6 74.9 186.7 75.3 188.8 75.4 190.9 74.8 193.0 74.0 195.0 73.3 197.1 73.6 199.2 74.0 201.3 73.5 203.4 72.8 205.5 73.3 207.6 72.5 209.7 71.4 211.7 71.1 213.8 70.8 215.9 70.9 218.0 70.9 220.1 71.1 222.2 71.5 224.3 72.0 226.3 72.7 228.4 73.2 230.5 74.2 232.6 75.1 234.7 76.2 236.8 76.5 238.9 77.4 240.9 78.6 243.0 79.8 245.1 80.5 247.2 81.5"/>
<path d="M38.6 93.2 40.7 93.2 42.8 93.2 44.9 93.2 46.9 93.2 49.0 93.2 51.1 93.2 53.2 93.2 55.3 93.2 57.4 93.2 59.5 93.2 61.5 93.2 63.6 93.2 65.7 93.2 67.8 93.2 69.9 93.2 72.0 93.2 74.1 93.2 76.1 93.2 78.2 93.2 80.3 93.2 82.4 93.2 84.5 93.2 86.6 93.2 88.7 93.2 90.8 93.2 92.8 93.2 94.9 93.2 97.0 93.2 99.1 93.2 101.2 93.2 103.3 93.2 105.4 93.2 107.4 93.2 109.5 93.2 111.6 93.2 113.7 93.2 115.8 93.2 117.9 93.2 120.0 93.2 122.0 93.2 124.1 93.2 126.2 93.2 128.3 93.2 130.4 92.9 132.5 92.0 134.6 91.2 136.6 90.7 138.7 90.6 140.8 89.5 142.9 87.9 145.0 87.0 147.1 86.2 149.2 84.5 151.2 83.5 153.3 83.4 155.4 82.8 157.5 81.3 159.6 80.4 161.7 79.3 163.8 78.6 165.8 78.5 167.9 78.0 170.0 77.1 172.1 76.9 174.2 76.6 176.3 75.1 178.4 74.4 180.4 74.4 182.5 74.1 184.6 74.2 186.7 74.1 188.8 73.9 190.9 74.4 193.0 74.4 195.0 73.7 197.1 73.3 199.2 72.5 201.3 72.6 203.4 72.7 205.5 72.2 207.6 71.9 209.7 70.6 211.7 70.3 213.8 69.9 215.9 70.1 218.0 71.0 220.1 71.9 222.2 72.0 224.3 72.7 226.3 73.5 228.4 74.0 230.5 73.6 232.6 74.3 234.7 75.3 236.8 76.1 238.9 75.9 240.9 76.4 243.0 76.8 245.1 77.8 247.2 78.8"/>
<path d="M38.6 93.2 40.7 93.2 42.8 93.2 44.9 93.2 46.9 93.2 49.0 93.2 51.1 93.2 53.2 93.2 55.3 93.2 57.4 93.2 59.5 93.2 61.5 93.2 63.6 93.2 65.7 93.2 67.8 93.2 69.9 93.2 72.0 93.2 74.1 93.2 76.1 93.2 78.2 93.2 80.3 93.2 82.4 93.2 84.5 93.2 86.6 93.2 88.7 93.2 90.8 93.2 92.8 93.2 94.9 93.2 97.0 93.2 99.1 93.2 101.2 93.2 103.3 93.2 105.4 93.2 107.4 93.2 109.5 93.2 111.6 93.2 113.7 93.2 115.8 93.2 117.9 93.2 120.0 93.2 122.0 93.2 124.1 93.2 126.2 93.2 128.3 93.2 130.4 93.2 132.5 93.2 134.6 93.2 136.6 92.5 138.7 91.8 140.8 91.6 142.9 90.7 145.0 89.2 147.1 88.6 149.2 88.2 151.2 87.2 153.3 86.4 155.4 85.7 157.5 84.6 159.6 83.4 161.7 82.8 163.8 82.7 165.8 82.0 167.9 81.1 170.0 80.6 172.1 79.6 174.2 79.0 176.3 79.0 178.4 78.8 180.4 77.8 182.5 76.9 184.6 76.2 186.7 75.5 188.8 75.5 190.9 75.2 193.0 74.7 195.0 74.1 197.1 73.1 199.2 73.2 201.3 73.2 203.4 72.5 205.5 71.7 207.6 71.9 209.7 71.7 211.7 70.7 213.8 70.1 215.9 70.6 218.0 71.2 220.1 72.0 222.2 72.4 224.3 73.8 226.3 74.6 228.4 75.3 230.5 76.1 232.6 76.3 234.7 76.6 236.8 77.3 238.9 77.1 240.9 77.9 243.0 78.9 245.1 79.8 247.2 80.2"/>
<path d="M38.6 93.2 40.7 93.2 42.8 93.2 44.9 93.2 46.9 93.2 49.0 93.2 51.1 93.2 53.2 93.2 55.3 93.2 57.4 93.2 59.5 93.2 61.5 93.2 63.6 93.2 65.7 93.2 67.8 93.2 69.9 93.2 72.0 93.2 74.1 93.2 76.1 93.2 78.2 93.2 80.3 93.2 82.4 93.2 84.5 93.2 86.6 93.2 88.7 93.2 90.8 93.2 92.8 93.2 94.9 93.2 97.0 93.2 99.1 93.2 101.2 93.2 103.3 93.2 105.4 93.2 107.4 93.2 109.5 93.2 111.6 93.2 113.7 93.2 115.8 93.2 117.9 93.2 120.0 93.2 122.0 93.2 124.1 93.2 126.2 93.2 128.3 93.2 130.4 93.2 132.5 93.2 134.6 92.3 136.6 91.2 138.7 90.2 140.8 89.5 142.9 88.1 145.0 86.4 147.1 85.7 149.2 85.3 151.2 84.2 153.3 82.8 155.4 81.5 157.5 81.2 159.6 80.5 161.7 79.4 163.8 78.4 165.8 78.5 167.9 78.6 170.0 77.6 172.1 75.8 174.2 75.4 176.3 75.6 178.4 74.7 180.4 74.3 182.5 74.1 184.6 73.6 186.7 73.2 188.8 73.2 190.9 73.8 193.0 73.1 195.0 72.6 197.1 72.2 199.2 71.3 201.3 71.4 203.4 70.9 205.5 69.4 207.6 69.0 209.7 68.5 211.7 68.3 213.8 68.7 215.9 68.3 218.0 69.1 220.1 69.7 222.2 70.2 224.3 71.0 226.3 71.9 228.4 72.4 230.5 72.7 232.6 73.3 234.7 74.5 236.8 74.5 238.9 75.3 240.9 75.4 243.0 76.4 245.1 77.3 247.2 78.6"/>
<path d="M38.6 93.2 40.7 93.2 42.8 93.2 44.9 93.2 46.9 93.2 49.0 93.2 51.1 93.2 53.2 93.2 55.3 93.2 57.4 93.2 59.5 93.2 61.5 93.2 63.6 93.2 65.7 93.2 67.8 93.2 69.9 93.2 72.0 93.2 74.1 93.2 76.1 93.2 78.2 93.2 80.3 93.2 82.4 93.2 84.5 93.2 86.6 93.2 88.7 93.2 90.8 93.2 92.8 93.2 94.9 93.2 97.0 93.2 99.1 93.2 101.2 93.2 103.3 93.2 105.4 93.2 107.4 93.2 109.5 93.2 111.6 93.2 113.7 93.2 115.8 93.2 117.9 93.2 120.0 93.2 122.0 93.2 124.1 93.2 126.2 93.2 128.3 93.1 130.4 92.0 132.5 91.1 134.6 90.8 136.6 90.3 138.7 89.5 140.8 88.2 142.9 87.0 145.0 86.4 147.1 85.8 149.2 84.5 151.2 83.5 153.3 82.5 155.4 81.7 157.5 81.0 159.6 80.6 161.7 80.4 163.8 80.2 165.8 79.1 167.9 78.6 170.0 78.3 172.1 77.1 174.2 76.2 176.3 75.5 178.4 75.2 180.4 74.6 182.5 73.5 184.6 72.3 186.7 71.7 188.8 72.0 190.9 71.8 193.0 71.8 195.0 70.9 197.1 70.0 199.2 69.4 201.3 68.9 203.4 69.5 205.5 70.2 207.6 70.3 209.7 69.8 211.7 69.4 213.8 70.0 215.9 70.3 218.0 70.6 220.1 71.2 222.2 71.7 224.3 72.8 226.3 73.7 228.4 74.5 230.5 75.2 232.6 75.9 234.7 77.6 236.8 78.3 238.9 78.3 240.9 78.0 243.0 77.9 245.1 78.0 247.2 78.3"/>
<path d="M38.6 93.2 40.7 93.2 42.8 93.2 44.9 93.2 46.9 93.2 49.0 93.2 51.1 93.2 53.2 93.2 55.3 93.2 57.4 93.2 59.5 93.2 61.5 93.2 63.6 93.2 65.7 93.2 67.8 93.2 69.9 93.2 72.0 93.2 74.1 93.2 76.1 93.2 78.2 93.2 80.3 93.2 82.4 93.2 84.5 93.2 86.6 93.2 88.7 93.2 90.8 93.2 92.8 93.2 94.9 93.2 97.0 93.2 99.1 93.2 101.2 93.2 103.3 93.2 105.4 93.2 107.4 93.2 109.5 93.2 111.6 93.2 113.7 93.2 115.8 93.2 117.9 93.2 120.0 93.2 122.0 93.2 124.1 93.2 126.2 93.2 128.3 93.1 130.4 92.4 132.5 91.7 134.6 91.3 136.6 90.6 138.7 89.0 140.8 87.8 142.9 87.4 145.0 86.0 147.1 84.9 149.2 83.7 151.2 82.4 153.3 81.6 155.4 81.2 157.5 80.3 159.6 80.3 161.7 80.1 163.8 78.3 165.8 77.9 167.9 77.4 170.0 76.3 172.1 75.9 174.2 75.7 176.3 75.0 178.4 74.4 180.4 74.6 182.5 75.0 184.6 74.2 186.7 73.9 188.8 73.5 190.9 72.3 193.0 71.3 195.0 71.6 197.1 71.3 199.2 71.4 201.3 71.2 203.4 70.4 205.5 69.7 207.6 69.5 209.7 69.2 211.7 68.7 213.8 68.7 215.9 69.3 218.0 70.1 220.1 70.4 222.2 70.8 224.3 71.6 226.3 72.4 228.4 73.1 230.5 73.8 232.6 74.4 234.7 74.5 236.8 74.0 238.9 74.5 240.9 75.3 243.0 76.5 245.1 77.4 247.2 78.0"/>
<path d="M38.6 93.2 40.7 93.2 42.8 93.2 44.9 93.2 46.9 93.2 49.0 93.2 51.1 93.2 53.2 93.2 55.3 93.2 57.4 93.2 59.5 93.2 61.5 93.2 63.6 93.2 65.7 93.2 67.8 93.2 69.9 93.2 72.0 93.2 74.1 93.2 76.1 93.2 78.2 93.2 80.3 93.2 82.4 93.2 84.5 93.2 86.6 93.2 88.7 93.2 90.8 93.2 92.8 93.2 94.9 93.2 97.0 93.2 99.1 93.2 101.2 93.2 103.3 93.2 105.4 93.2 107.4 93.2 109.5 93.2 111.6 93.2 113.7 93.2 115.8 93.2 117.9 93.2 120.0 93.2 122.0 93.2 124.1 93.1 126.2 92.6 128.3 91.9 130.4 91.5 132.5 90.6 134.6 89.0 136.6 88.3 138.7 87.3 140.8 86.4 142.9 85.4 145.0 84.5 147.1 84.0 149.2 83.3 151.2 83.0 153.3 82.3 155.4 81.4 157.5 81.4 159.6 81.4 161.7 79.9 163.8 78.7 165.8 78.5 167.9 77.7 170.0 77.3 172.1 77.0 174.2 76.2 176.3 75.6 178.4 74.1 180.4 73.8 182.5 73.5 184.6 73.5 186.7 73.6 188.8 72.7 190.9 71.5 193.0 71.1 195.0 71.1 197.1 70.9 199.2 70.5 201.3 70.4 203.4 69.9 205.5 70.1 207.6 69.7 209.7 68.8 211.7 68.8 213.8 68.8 215.9 68.9 218.0 69.5 220.1 69.9 222.2 70.3 224.3 71.5 226.3 72.6 228.4 72.8 230.5 73.5 232.6 73.7 234.7 74.5 236.8 75.6 238.9 76.6 240.9 78.1 243.0 79.0 245.1 79.1 247.2 79.2"/>
<path d="M38.6 93.2 40.7 93.2 42.8 93.2 44.9 93.2 46.9 93.2 49.0 93.2 51.1 93.2 53.2 93.2 55.3 93.2 57.4 93.2 59.5 93.2 61.5 93.2 63.6 93.2 65.7 93.2 67.8 93.2 69.9 93.2 72.0 93.2 74.1 93.2 76.1 93.2 78.2 93.2 80.3 93.2 82.4 93.2 84.5 93.2 86.6 93.2 88.7 93.2 90.8 93.2 92.8 93.2 94.9 93.2 97.0 93.2 99.1 93.2 101.2 93.2 103.3 93.2 105.4 93.2 107.4 93.2 109.5 93.2 111.6 93.2 113.7 93.2 115.8 93.2 117.9 93.2 120.0 93.2 122.0 93.2 124.1 93.2 126.2 93.2 128.3 93.2 130.4 93.2 132.5 92.6 134.6 91.6 136.6 90.2 138.7 89.2 140.8 88.1 142.9 87.4 145.0 86.8 147.1 86.3 149.2 85.0 151.2 83.2 153.3 82.2 155.4 81.0 157.5 79.9 159.6 79.2 161.7 78.4 163.8 78.1 165.8 77.4 167.9 77.1 170.0 77.1 172.1 76.7 174.2 75.3 176.3 73.8 178.4 73.1 180.4 72.9 182.5 72.5 184.6 72.1 186.7 71.7 188.8 71.0 190.9 70.7 193.0 70.1 195.0 68.6 197.1 68.7 199.2 68.9 201.3 68.6 203.4 69.0 205.5 68.7 207.6 67.8 209.7 67.9 211.7 68.6 213.8 68.6 215.9 68.5 218.0 69.2 220.1 69.6 222.2 70.9 224.3 71.3 226.3 72.6 228.4 73.6 230.5 74.2 232.6 75.1 234.7 75.8 236.8 76.5 238.9 77.6 240.9 77.9 243.0 78.2 245.1 79.5 247.2 80.4"/>
<path d="M38.6 93.2 40.7 93.2 42.8 93.2 44.9 93.2 46.9 93.2 49.0 93.2 51.1 93.2 53.2 93.2 55.3 93.2 57.4 93.2 59.5 93.2 61.5 93.2 63.6 93.2 65.7 93.2 67.8 93.2 69.9 93.2 72.0 93.2 74.1 93.2 76.1 93.2 78.2 93.2 80.3 93.2 82.4 93.2 84.5 93.2 86.6 93.2 88.7 93.2 90.8 93.2 92.8 93.2 94.9 93.2 97.0 93.2 99.1 93.2 101.2 93.2 103.3 93.2 105.4 93.2 107.4 93.2 109.5 93.2 111.6 93.2 113.7 93.2 115.8 93.2 117.9 93.2 120.0 93.2 122.0 93.2 124.1 93.2 126.2 93.2 128.3 93.2 130.4 93.2 132.5 92.6 134.6 91.0 136.6 89.8 138.7 89.2 140.8 88.0 142.9 86.6 145.0 85.9 147.1 85.3 149.2 84.1 151.2 84.1 153.3 83.7 155.4 82.6 157.5 81.8 159.6 80.4 161.7 79.3 163.8 78.7 165.8 78.1 167.9 77.2 170.0 76.0 172.1 75.6 174.2 74.0 176.3 72.9 178.4 72.1 180.4 71.8 182.5 71.8 184.6 70.7 186.7 70.2 188.8 70.3 190.9 71.2 193.0 70.7 195.0 70.9 197.1 71.6 199.2 71.0 201.3 70.5 203.4 70.3 205.5 69.5 207.6 69.0 209.7 69.0 211.7 68.5 213.8 67.8 215.9 68.1 218.0 67.9 220.1 67.9 222.2 68.7 224.3 69.2 226.3 69.8 228.4 70.6 230.5 72.4 232.6 73.6 234.7 74.2 236.8 75.1 238.9 75.6 240.9 76.6 243.0 77.9 245.1 79.1 247.2 80.6"/>
<path d="M38.6 93.2 40.7 93.2 42.8 93.2 44.9 93.2 46.9 93.2 49.0 93.2 51.1 93.2 53.2 93.2 55.3 93.2 57.4 93.2 59.5 93.2 61.5 93.2 63.6 93.2 65.7 93.2 67.8 93.2 69.9 93.2 72.0 93.2 74.1 93.2 76.1 93.2 78.2 93.2 80.3 93.2 82.4 93.2 84.5 93.2 86.6 93.2 88.7 93.2 90.8 93.2 92.8 93.2 94.9 93.2 97.0 93.2 99.1 93.2 101.2 93.2 103.3 93.2 105.4 93.2 107.4 93.2 109.5 93.2 111.6 93.2 113.7 93.2 115.8 93.2 117.9 93.2 120.0 93.2 122.0 93.2 124.1 93.2 126.2 93.2 128.3 93.0 130.4 91.4 132.5 89.9 134.6 88.6 136.6 87.5 138.7 87.3 140.8 86.7 142.9 85.5 145.0 84.5 147.1 84.4 149.2 83.5 151.2 81.7 153.3 80.7 155.4 80.2 157.5 79.8 159.6 79.2 161.7 79.0 163.8 77.9 165.8 76.2 167.9 75.4 170.0 74.1 172.1 72.6 174.2 71.8 176.3 71.4 178.4 70.6 180.4 70.2 182.5 70.1 184.6 69.6 186.7 69.7 188.8 69.3 190.9 69.4 193.0 69.2 195.0 69.3 197.1 69.5 199.2 69.6 201.3 69.0 203.4 68.6 205.5 68.4 207.6 68.4 209.7 68.2 211.7 67.8 213.8 67.0 215.9 66.8 218.0 67.9 220.1 69.0 222.2 69.8 224.3 70.6 226.3 71.4 228.4 71.8 230.5 72.4 232.6 72.8 234.7 72.9 236.8 73.6 238.9 74.4 240.9 75.6 243.0 76.6 245.1 77.7 247.2 78.6"/>
<path d="M38.6 93.2 40.7 93.2 42.8 93.2 44.9 93.2 46.9 93.2 49.0 93.2 51.1 93.2 53.2 93.2 55.3 93.2 57.4 93.2 59.5 93.2 61.5 93.2 63.6 93.2 65.7 93.2 67.8 93.2 69.9 93.2 72.0 93.2 74.1 93.2 76.1 93.2 78.2 93.2 80.3 93.2 82.4 93.2 84.5 93.2 86.6 93.2 88.7 93.2 90.8 93.2 92.8 93.2 94.9 93.2 97.0 93.2 99.1 93.2 101.2 93.2 103.3 93.2 105.4 93.2 107.4 93.2 109.5 93.2 111.6 93.2 113.7 93.2 115.8 93.2 117.9 93.2 120.0 93.2 122.0 93.2 124.1 93.2 126.2 93.2 128.3 93.2 130.4 92.3 132.5 91.3 134.6 90.3 136.6 90.0 138.7 88.9 140.8 87.7 142.9 86.7 145.0 85.6 147.1 85.0 149.2 83.9 151.2 82.7 153.3 81.7 155.4 79.7 157.5 78.6 159.6 78.1 161.7 77.5 163.8 76.8 165.8 76.4 167.9 75.8 170.0 75.1 172.1 73.6 174.2 73.0 176.3 72.8 178.4 71.7 180.4 71.3 182.5 71.6 184.6 71.6 186.7 71.6 188.8 71.0 190.9 70.6 193.0 70.9 195.0 70.1 197.1 69.4 199.2 69.1 201.3 68.4 203.4 68.1 205.5 68.2 207.6 68.7 209.7 68.3 211.7 67.5 213.8 67.0 215.9 67.3 218.0 68.0 220.1 68.7 222.2 69.0 224.3 69.1 226.3 69.2 228.4 69.9 230.5 70.5 232.6 71.2 234.7 71.6 236.8 72.4 238.9 73.6 240.9 74.1 243.0 74.9 245.1 75.9 247.2 77.2"/>
<path d="M38.6 93.2 40.7 93.2 42.8 93.2 44.9 93.2 46.9 93.2 49.0 93.2 51.1 93.2 53.2 93.2 55.3 93.2 57.4 93.2 59.5 93.2 61.5 93.2 63.6 93.2 65.7 93.2 67.8 93.2 69.9 93.2 72.0 93.2 74.1 93.2 76.1 93.2 78.2 93.2 80.3 93.2 82.4 93.2 84.5 93.2 86.6 93.2 88.7 93.2 90.8 93.2 92.8 93.2 94.9 93.2 97.0 93.2 99.1 93.2 101.2 93.2 103.3 93.2 105.4 93.2 107.4 93.2 109.5 93.2 111.6 93.2 113.7 93.2 115.8 93.2 117.9 93.2 120.0 93.2 122.0 93.2 124.1 93.2 126.2 93.2 128.3 93.2 130.4 93.2 132.5 93.2 134.6 93.2 136.6 93.2 138.7 93.2 140.8 93.2 142.9 93.2 145.0 93.2 147.1 93.2 149.2 92.6 151.2 91.8 153.3 91.5 155.4 91.1 157.5 90.2 159.6 90.0 161.7 88.9 163.8 88.3 165.8 88.1 167.9 87.7 170.0 87.0 172.1 86.0 174.2 85.2 176.3 85.4 178.4 85.4 180.4 84.4 182.5 84.1 184.6 84.1 186.7 83.6 188.8 83.2 190.9 82.5 193.0 82.6 195.0 82.5 197.1 81.8 199.2 81.0 201.3 80.8 203.4 81.0 205.5 81.1 207.6 81.2 209.7 80.5 211.7 79.6 213.8 79.9 215.9 80.5 218.0 80.7 220.1 80.7 222.2 80.6 224.3 80.6 226.3 80.2 228.4 80.8 230.5 80.8 232.6 80.5 234.7 81.1 236.8 81.4 238.9 82.1 240.9 82.1 243.0 82.3 245.1 83.5 247.2 84.1"/>
<path d="M38.6 93.2 40.7 93.2 42.8 93.2 44.9 93.2 46.9 93.2 49.0 93.2 51.1 93.2 53.2 93.2 55.3 93.2 57.4 93.2 59.5 93.2 61.5 93.2 63.6 93.2 65.7 93.2 67.8 93.2 69.9 93.2 72.0 93.2 74.1 93.2 76.1 93.2 78.2 93.2 80.3 93.2 82.4 93.2 84.5 93.2 86.6 93.2 88.7 93.2 90.8 93.2 92.8 93.2 94.9 93.2 97.0 93.2 99.1 93.2 101.2 93.2 103.3 93.2 105.4 93.2 107.4 93.2 109.5 93.2 111.6 93.2 113.7 93.2 115.8 93.2 117.9 93.2 120.0 93.2 122.0 93.2 124.1 93.2 126.2 93.2 128.3 93.2 130.4 93.2 132.5 93.2 134.6 93.2 136.6 93.2 138.7 93.2 140.8 93.2 142.9 93.2 145.0 93.2 147.1 92.6 149.2 92.1 151.2 91.7 153.3 91.6 155.4 90.8 157.5 90.1 159.6 89.2 161.7 88.8 163.8 88.4 165.8 88.0 167.9 87.5 170.0 86.8 172.1 86.0 174.2 86.2 176.3 85.7 178.4 84.3 180.4 83.3 182.5 83.2 184.6 82.9 186.7 82.0 188.8 82.3 190.9 82.5 193.0 81.8 195.0 81.0 197.1 80.7 199.2 79.8 201.3 79.5 203.4 79.2 205.5 79.3 207.6 79.9 209.7 79.0 211.7 78.9 213.8 79.3 215.9 79.8 218.0 80.3 220.1 80.2 222.2 80.7 224.3 81.2 226.3 81.9 228.4 81.3 230.5 81.8 232.6 82.5 234.7 83.2 236.8 83.5 238.9 83.8 240.9 84.9 243.0 84.2 245.1 84.8 247.2 85.3"/>
<path d="M38.6 93.2 40.7 93.2 42.8 93.2 44.9 93.2 46.9 93.2 49.0 93.2 51.1 93.2 53.2 93.2 55.3 93.2 57.4 93.2 59.5 93.2 61.5 93.2 63.6 93.2 65.7 93.2 67.8 93.2 69.9 93.2 72.0 93.2 74.1 93.2 76.1 93.2 78.2 93.2 80.3 93.2 82.4 93.2 84.5 93.2 86.6 93.2 88.7 93.2 90.8 93.2 92.8 93.2 94.9 93.2 97.0 93.2 99.1 93.2 101.2 93.2 103.3 93.2 105.4 93.2 107.4 93.2 109.5 93.2 111.6 93.2 113.7 93.2 115.8 93.2 117.9 93.2 120.0 93.2 122.0 93.2 124.1 93.2 126.2 93.2 128.3 93.2 130.4 93.2 132.5 93.2 134.6 93.2 136.6 93.2 138.7 93.2 140.8 93.2 142.9 93.2 145.0 93.2 147.1 92.8 149.2 92.1 151.2 91.7 153.3 91.0 155.4 90.5 157.5 89.6 159.6 89.2 161.7 88.4 163.8 87.3 165.8 86.7 167.9 86.0 170.0 86.1 172.1 85.8 174.2 84.7 176.3 84.3 178.4 84.3 180.4 84.1 182.5 83.4 184.6 82.6 186.7 82.2 188.8 81.9 190.9 81.2 193.0 79.9 195.0 78.8 197.1 78.3 199.2 78.6 201.3 78.4 203.4 77.8 205.5 77.8 207.6 77.5 209.7 77.6 211.7 78.2 213.8 78.6 215.9 79.5 218.0 79.9 220.1 79.3 222.2 79.4 224.3 81.1 226.3 82.0 228.4 82.0 230.5 82.3 232.6 83.3 234.7 83.2 236.8 83.1 238.9 84.2 240.9 84.1 243.0 83.3 245.1 83.2 247.2 83.9"/>
<path d="M38.6 93.2 40.7 93.2 42.8 93.2 44.9 93.2 46.9 93.2 49.0 93.2 51.1 93.2 53.2 93.2 55.3 93.2 57.4 93.2 59.5 93.2 61.5 93.2 63.6 93.2 65.7 93.2 67.8 93.2 69.9 93.2 72.0 93.2 74.1 93.2 76.1 93.2 78.2 93.2 80.3 93.2 82.4 93.2 84.5 93.2 86.6 93.2 88.7 93.2 90.8 93.2 92.8 93.2 94.9 93.2 97.0 93.2 99.1 93.2 101.2 93.2 103.3 93.2 105.4 93.2 107.4 93.2 109.5 93.2 111.6 93.2 113.7 93.2 115.8 93.2 117.9 93.2 120.0 93.2 122.0 93.2 124.1 93.2 126.2 93.2 128.3 93.2 130.4 93.2 132.5 93.2 134.6 93.2 136.6 93.2 138.7 92.9 140.8 92.4 142.9 92.2 145.0 91.9 147.1 91.5 149.2 91.0 151.2 90.1 153.3 89.2 155.4 88.7 157.5 88.4 159.6 87.5 161.7 87.6 163.8 86.8 165.8 86.0 167.9 85.3 170.0 84.6 172.1 83.9 174.2 83.8 176.3 83.4 178.4 83.5 180.4 83.0 182.5 82.4 184.6 82.2 186.7 82.7 188.8 82.4 190.9 81.0 193.0 80.9 195.0 80.5 197.1 79.7 199.2 78.7 201.3 78.4 203.4 78.1 205.5 77.9 207.6 78.2 209.7 78.3 211.7 77.8 213.8 77.8 215.9 78.6 218.0 79.7 220.1 79.7 222.2 79.6 224.3 79.7 226.3 79.1 228.4 78.5 230.5 79.1 232.6 79.2 234.7 78.9 236.8 79.5 238.9 81.3 240.9 81.8 243.0 82.1 245.1 83.6 247.2 85.1"/>
<path d="M38.6 140.4 40.7 139.2 42.8 139.1 44.9 137.6 46.9 136.2 49.0 136.1 51.1 135.3 53.2 134.6 55.3 134.2 57.4 134.0 59.5 134.2 61.5 133.2 63.6 132.0 65.7 130.9 67.8 129.8 69.9 129.2 72.0 129.7 74.1 130.8 76.1 131.9 78.2 131.9 80.3 131.7 82.4 132.1 84.5 132.0 86.6 131.6 88.7 132.1 90.8 131.7 92.8 130.7 94.9 130.7 97.0 131.0 99.1 131.6 101.2 132.2 103.3 131.9 105.4 132.2 107.4 132.0 109.5 131.7 111.6 131.8 113.7 131.9 115.8 131.5 117.9 131.6 120.0 131.1 122.0 131.0 124.1 130.8 126.2 131.8 128.3 133.3 130.4 135.1 132.5 137.3 134.6 138.4 136.6 139.5 138.7 140.8 140.8 141.8 142.9 142.7 145.0 143.9 147.1 145.2 149.2 146.4 151.2 148.1 153.3 150.1 155.4 151.3 157.5 151.3 159.6 151.3 161.7 151.3 163.8 151.3 165.8 151.3 167.9 151.3 170.0 151.3 172.1 151.3 174.2 151.3 176.3 151.3 178.4 151.3 180.4 151.3 182.5 151.3 184.6 151.3 186.7 151.3 188.8 151.3 190.9 151.3 193.0 151.3 195.0 151.3 197.1 151.3 199.2 151.3 201.3 151.3 203.4 151.3 205.5 151.3 207.6 151.3 209.7 151.3 211.7 151.3 213.8 151.3 215.9 151.3 218.0 151.3 220.1 151.3 222.2 151.3 224.3 151.3 226.3 151.3 228.4 151.3 230.5 151.3 232.6 151.3 234.7 151.3 236.8 151.3 238.9 151.3 240.9 151.3 243.0 151.3 245.1 151.3 247.2 151.3"/>
<path d="M38.6 136.0 40.7 136.3 42.8 136.5 44.9 136.1 46.9 136.4 49.0 136.0 51.1 135.9 53.2 135.9 55.3 135.1 57.4 134.2 59.5 134.0 61.5 134.5 63.6 133.9 65.7 132.6 67.8 132.0 69.9 131.6 72.0 130.3 74.1 129.8 76.1 130.0 78.2 130.5 80.3 130.9 82.4 132.2 84.5 132.6 86.6 132.3 88.7 132.5 90.8 133.1 92.8 132.6 94.9 131.8 97.0 131.8 99.1 132.2 101.2 132.1 103.3 131.9 105.4 131.7 107.4 131.2 109.5 131.1 111.6 131.2 113.7 130.6 115.8 131.3 117.9 131.8 120.0 131.6 122.0 132.7 124.1 133.7 126.2 134.2 128.3 134.8 130.4 135.7 132.5 137.0 134.6 137.7 136.6 138.3 138.7 138.6 140.8 140.1 142.9 141.8 145.0 142.7 147.1 144.5 149.2 146.4 151.2 146.7 153.3 147.0 155.4 148.8 157.5 150.5 159.6 151.3 161.7 151.3 163.8 151.3 165.8 151.3 167.9 151.3 170.0 151.3 172.1 151.3 174.2 151.3 176.3 151.3 178.4 151.3 180.4 151.3 182.5 151.3 184.6 151.3 186.7 151.3 188.8 151.3 190.9 151.3 193.0 151.3 195.0 151.3 197.1 151.3 199.2 151.3 201.3 151.3 203.4 151.3 205.5 151.3 207.6 151.3 209.7 151.3 211.7 151.3 213.8 151.3 215.9 151.3 218.0 151.3 220.1 151.3 222.2 151.3 224.3 151.3 226.3 151.3 228.4 151.3 230.5 151.3 232.6 151.3 234.7 151.3 236.8 151.3 238.9 151.3 240.9 151.3 243.0 151.3 245.1 151.3 247.2 151.3"/>
<path d="M38.6 138.9 40.7 139.0 42.8 138.5 44.9 137.8 46.9 138.1 49.0 137.5 51.1 137.0 53.2 136.1 55.3 134.8 57.4 134.2 59.5 133.8 61.5 133.4 63.6 133.0 65.7 132.3 67.8 131.6 69.9 131.3 72.0 130.4 74.1 129.8 76.1 129.2 78.2 128.9 80.3 129.1 82.4 129.3 84.5 130.0 86.6 130.2 88.7 130.1 90.8 130.2 92.8 130.1 94.9 130.7 97.0 131.4 99.1 131.4 101.2 130.6 103.3 129.8 105.4 130.7 107.4 131.5 109.5 131.2 111.6 131.6 113.7 131.7 115.8 130.7 117.9 131.3 120.0 133.0 122.0 133.9 124.1 134.2 126.2 134.6 128.3 135.2 130.4 136.4 132.5 138.4 134.6 139.3 136.6 139.8 138.7 141.0 140.8 142.3 142.9 142.3 145.0 142.7 147.1 143.9 149.2 143.7 151.2 144.5 153.3 145.0 155.4 146.1 157.5 147.8 159.6 149.8 161.7 151.3 163.8 151.3 165.8 151.3 167.9 151.3 170.0 151.3 172.1 151.3 174.2 151.3 176.3 151.3 178.4 151.3 180.4 151.3 182.5 151.3 184.6 151.3 186.7 151.3 188.8 151.3 190.9 151.3 193.0 151.3 195.0 151.3 197.1 151.3 199.2 151.3 201.3 151.3 203.4 151.3 205.5 151.3 207.6 151.3 209.7 151.3 211.7 151.3 213.8 151.3 215.9 151.3 218.0 151.3 220.1 151.3 222.2 151.3 224.3 151.3 226.3 151.3 228.4 151.3 230.5 151.3 232.6 151.3 234.7 151.3 236.8 151.3 238.9 151.3 240.9 151.3 243.0 151.3 245.1 151.3 247.2 151.3"/>
<path d="M38.6 139.3 40.7 139.9 42.8 139.6 44.9 138.6 46.9 137.9 49.0 137.2 51.1 136.2 53.2 135.2 55.3 133.9 57.4 133.6 59.5 133.6 61.5 132.6 63.6 131.9 65.7 131.3 67.8 130.3 69.9 130.3 72.0 130.2 74.1 129.3 76.1 128.6 78.2 128.8 80.3 128.6 82.4 128.6 84.5 128.4 86.6 128.7 88.7 129.5 90.8 130.9 92.8 131.3 94.9 131.4 97.0 131.3 99.1 131.0 101.2 131.1 103.3 131.6 105.4 132.3 107.4 132.1 109.5 131.4 111.6 130.9 113.7 130.9 115.8 131.2 117.9 131.1 120.0 130.6 122.0 131.1 124.1 131.3 126.2 131.3 128.3 131.6 130.4 132.2 132.5 133.1 134.6 133.8 136.6 135.0 138.7 136.2 140.8 137.8 142.9 138.9 145.0 139.7 147.1 140.0 149.2 141.9 151.2 142.9 153.3 143.9 155.4 145.4 157.5 146.9 159.6 148.0 161.7 148.5 163.8 149.3 165.8 151.2 167.9 151.3 170.0 151.3 172.1 151.3 174.2 151.3 176.3 151.3 178.4 151.3 180.4 151.3 182.5 151.3 184.6 151.3 186.7 151.3 188.8 151.3 190.9 151.3 193.0 151.3 195.0 151.3 197.1 151.3 199.2 151.3 201.3 151.3 203.4 151.3 205.5 151.3 207.6 151.3 209.7 151.3 211.7 151.3 213.8 151.3 215.9 151.3 218.0 151.3 220.1 151.3 222.2 151.3 224.3 151.3 226.3 151.3 228.4 151.3 230.5 151.3 232.6 151.3 234.7 151.3 236.8 151.3 238.9 151.3 240.9 151.3 243.0 151.3 245.1 151.3 247.2 151.3"/>
<path d="M38.6 137.4 40.7 136.9 42.8 137.0 44.9 136.5 46.9 135.8 49.0 134.5 51.1 133.4 53.2 132.6 55.3 131.5 57.4 130.8 59.5 130.0 61.5 129.0 63.6 129.0 65.7 129.4 67.8 129.0 69.9 128.2 72.0 128.3 74.1 128.6 76.1 128.8 78.2 129.4 80.3 129.4 82.4 129.7 84.5 129.4 86.6 128.9 88.7 129.8 90.8 130.8 92.8 131.0 94.9 130.4 97.0 130.6 99.1 131.1 101.2 131.0 103.3 130.9 105.4 131.2 107.4 130.8 109.5 130.5 111.6 130.6 113.7 130.3 115.8 131.1 117.9 131.2 120.0 130.5 122.0 130.9 124.1 131.3 126.2 131.3 128.3 131.0 130.4 131.4 132.5 133.0 134.6 135.0 136.6 136.7 138.7 138.0 140.8 139.7 142.9 140.7 145.0 141.5 147.1 142.9 149.2 144.5 151.2 146.5 153.3 147.9 155.4 150.0 157.5 151.3 159.6 151.3 161.7 151.3 163.8 151.3 165.8 151.3 167.9 151.3 170.0 151.3 172.1 151.3 174.2 151.3 176.3 151.3 178.4 151.3 180.4 151.3 182.5 151.3 184.6 151.3 186.7 151.3 188.8 151.3 190.9 151.3 193.0 151.3 195.0 151.3 197.1 151.3 199.2 151.3 201.3 151.3 203.4 151.3 205.5 151.3 207.6 151.3 209.7 151.3 211.7 151.3 213.8 151.3 215.9 151.3 218.0 151.3 220.1 151.3 222.2 151.3 224.3 151.3 226.3 151.3 228.4 151.3 230.5 151.3 232.6 151.3 234.7 151.3 236.8 151.3 238.9 151.3 240.9 151.3 243.0 151.3 245.1 151.3 247.2 151.3"/>
<path d="M38.6 139.0 40.7 138.1 42.8 136.8 44.9 135.8 46.9 135.5 49.0 134.7 51.1 133.8 53.2 133.1 55.3 131.9 57.4 131.0 59.5 130.9 61.5 130.9 63.6 129.8 65.7 129.1 67.8 128.6 69.9 128.0 72.0 126.8 74.1 126.2 76.1 126.3 78.2 126.3 80.3 126.4 82.4 126.9 84.5 126.7 86.6 126.8 88.7 127.1 90.8 128.3 92.8 128.3 94.9 127.9 97.0 127.8 99.1 127.9 101.2 127.5 103.3 127.7 105.4 127.4 107.4 127.5 109.5 127.6 111.6 127.8 113.7 127.8 115.8 127.8 117.9 128.0 120.0 129.0 122.0 129.8 124.1 130.0 126.2 130.5 128.3 130.8 130.4 130.9 132.5 130.4 134.6 131.4 136.6 132.4 138.7 133.6 140.8 134.8 142.9 136.2 145.0 137.6 147.1 139.0 149.2 140.1 151.2 142.5 153.3 144.9 155.4 145.2 157.5 146.2 159.6 147.5 161.7 149.0 163.8 150.9 165.8 151.3 167.9 151.3 170.0 151.3 172.1 151.3 174.2 151.3 176.3 151.3 178.4 151.3 180.4 151.3 182.5 151.3 184.6 151.3 186.7 151.3 188.8 151.3 190.9 151.3 193.0 151.3 195.0 151.3 197.1 151.3 199.2 151.3 201.3 151.3 203.4 151.3 205.5 151.3 207.6 151.3 209.7 151.3 211.7 151.3 213.8 151.3 215.9 151.3 218.0 151.3 220.1 151.3 222.2 151.3 224.3 151.3 226.3 151.3 228.4 151.3 230.5 151.3 232.6 151.3 234.7 151.3 236.8 151.3 238.9 151.3 240.9 151.3 243.0 151.3 245.1 151.3 247.2 151.3"/>
<path d="M38.6 135.9 40.7 135.1 42.8 134.1 44.9 133.7 46.9 133.9 49.0 133.3 51.1 133.4 53.2 133.4 55.3 133.2 57.4 132.7 59.5 132.5 61.5 132.0 63.6 131.8 65.7 131.3 67.8 130.0 69.9 128.4 72.0 127.3 74.1 127.2 76.1 127.9 78.2 128.1 80.3 127.8 82.4 127.6 84.5 127.8 86.6 128.3 88.7 128.7 90.8 129.0 92.8 128.5 94.9 127.9 97.0 128.4 99.1 128.7 101.2 128.0 103.3 127.1 105.4 128.1 107.4 128.7 109.5 129.0 111.6 128.6 113.7 127.5 115.8 127.3 117.9 127.7 120.0 127.5 122.0 127.7 124.1 128.4 126.2 128.3 128.3 128.5 130.4 129.3 132.5 129.2 134.6 130.1 136.6 131.2 138.7 131.3 140.8 132.5 142.9 134.3 145.0 136.9 147.1 138.1 149.2 139.2 151.2 140.8 153.3 141.9 155.4 144.1 157.5 145.6 159.6 147.3 161.7 149.5 163.8 151.3 165.8 151.3 167.9 151.3 170.0 151.3 172.1 151.3 174.2 151.3 176.3 151.3 178.4 151.3 180.4 151.3 182.5 151.3 184.6 151.3 186.7 151.3 188.8 151.3 190.9 151.3 193.0 151.3 195.0 151.3 197.1 151.3 199.2 151.3 201.3 151.3 203.4 151.3 205.5 151.3 207.6 151.3 209.7 151.3 211.7 151.3 213.8 151.3 215.9 151.3 218.0 151.3 220.1 151.3 222.2 151.3 224.3 151.3 226.3 151.3 228.4 151.3 230.5 151.3 232.6 151.3 234.7 151.3 236.8 151.3 238.9 151.3 240.9 151.3 243.0 151.3 245.1 151.3 247.2 151.3"/>
<path d="M38.6 137.4 40.7 136.8 42.8 135.2 44.9 134.6 46.9 134.3 49.0 134.5 51.1 134.5 53.2 133.9 55.3 132.7 57.4 132.1 59.5 130.7 61.5 128.7 63.6 127.8 65.7 127.6 67.8 126.9 69.9 126.4 72.0 126.0 74.1 126.1 76.1 125.7 78.2 125.4 80.3 125.4 82.4 125.5 84.5 125.6 86.6 125.7 88.7 126.1 90.8 125.9 92.8 126.2 94.9 126.2 97.0 126.7 99.1 127.2 101.2 127.6 103.3 127.5 105.4 127.2 107.4 127.3 109.5 126.8 111.6 126.0 113.7 125.2 115.8 125.7 117.9 126.9 120.0 127.3 122.0 127.2 124.1 127.5 126.2 128.3 128.3 128.8 130.4 130.4 132.5 131.0 134.6 130.9 136.6 130.9 138.7 131.7 140.8 133.0 142.9 133.7 145.0 135.0 147.1 136.4 149.2 137.2 151.2 139.1 153.3 141.1 155.4 142.6 157.5 144.3 159.6 145.3 161.7 147.3 163.8 149.4 165.8 151.0 167.9 151.3 170.0 151.3 172.1 151.3 174.2 151.3 176.3 151.3 178.4 151.3 180.4 151.3 182.5 151.3 184.6 151.3 186.7 151.3 188.8 151.3 190.9 151.3 193.0 151.3 195.0 151.3 197.1 151.3 199.2 151.3 201.3 151.3 203.4 151.3 205.5 151.3 207.6 151.3 209.7 151.3 211.7 151.3 213.8 151.3 215.9 151.3 218.0 151.3 220.1 151.3 222.2 151.3 224.3 151.3 226.3 151.3 228.4 151.3 230.5 151.3 232.6 151.3 234.7 151.3 236.8 151.3 238.9 151.3 240.9 151.3 243.0 151.3 245.1 151.3 247.2 151.3"/>
<path d="M38.6 137.8 40.7 137.0 42.8 136.2 44.9 135.8 46.9 135.0 49.0 134.1 51.1 133.0 53.2 132.2 55.3 131.7 57.4 130.8 59.5 130.7 61.5 130.3 63.6 129.3 65.7 127.9 67.8 126.1 69.9 125.1 72.0 124.5 74.1 124.3 76.1 124.6 78.2 124.7 80.3 123.6 82.4 123.9 84.5 124.1 86.6 124.4 88.7 125.2 90.8 125.9 92.8 126.5 94.9 126.5 97.0 127.0 99.1 127.5 101.2 127.1 103.3 127.2 105.4 126.4 107.4 125.1 109.5 125.3 111.6 126.5 113.7 126.2 115.8 125.7 117.9 125.1 120.0 125.0 122.0 126.0 124.1 126.6 126.2 126.7 128.3 127.3 130.4 128.5 132.5 128.5 134.6 129.3 136.6 129.7 138.7 131.1 140.8 132.6 142.9 133.7 145.0 135.2 147.1 136.4 149.2 138.0 151.2 140.0 153.3 140.8 155.4 142.1 157.5 143.7 159.6 145.5 161.7 147.7 163.8 148.9 165.8 150.1 167.9 151.2 170.0 151.3 172.1 151.3 174.2 151.3 176.3 151.3 178.4 151.3 180.4 151.3 182.5 151.3 184.6 151.3 186.7 151.3 188.8 151.3 190.9 151.3 193.0 151.3 195.0 151.3 197.1 151.3 199.2 151.3 201.3 151.3 203.4 151.3 205.5 151.3 207.6 151.3 209.7 151.3 211.7 151.3 213.8 151.3 215.9 151.3 218.0 151.3 220.1 151.3 222.2 151.3 224.3 151.3 226.3 151.3 228.4 151.3 230.5 151.3 232.6 151.3 234.7 151.3 236.8 151.3 238.9 151.3 240.9 151.3 243.0 151.3 245.1 151.3 247.2 151.3"/>
<path d="M38.6 133.0 40.7 132.2 42.8 132.1 44.9 132.2 46.9 132.9 49.0 132.8 51.1 132.4 53.2 131.6 55.3 131.8 57.4 131.6 59.5 130.2 61.5 129.0 63.6 128.7 65.7 127.4 67.8 126.7 69.9 126.0 72.0 125.1 74.1 125.2 76.1 125.6 78.2 125.7 80.3 125.2 82.4 125.5 84.5 125.3 86.6 124.8 88.7 124.3 90.8 124.9 92.8 124.2 94.9 123.5 97.0 123.5 99.1 123.8 101.2 124.0 103.3 124.9 105.4 125.6 107.4 125.7 109.5 125.7 111.6 125.7 113.7 125.4 115.8 124.9 117.9 125.0 120.0 125.8 122.0 125.5 124.1 124.4 126.2 125.2 128.3 126.2 130.4 126.0 132.5 126.7 134.6 127.9 136.6 129.9 138.7 131.8 140.8 133.4 142.9 134.8 145.0 137.0 147.1 138.0 149.2 139.1 151.2 140.3 153.3 141.5 155.4 143.0 157.5 143.3 159.6 144.2 161.7 145.8 163.8 146.7 165.8 148.7 167.9 151.2 170.0 151.3 172.1 151.3 174.2 151.3 176.3 151.3 178.4 151.3 180.4 151.3 182.5 151.3 184.6 151.3 186.7 151.3 188.8 151.3 190.9 151.3 193.0 151.3 195.0 151.3 197.1 151.3 199.2 151.3 201.3 151.3 203.4 151.3 205.5 151.3 207.6 151.3 209.7 151.3 211.7 151.3 213.8 151.3 215.9 151.3 218.0 151.3 220.1 151.3 222.2 151.3 224.3 151.3 226.3 151.3 228.4 151.3 230.5 151.3 232.6 151.3 234.7 151.3 236.8 151.3 238.9 151.3 240.9 151.3 243.0 151.3 245.1 151.3 247.2 151.3"/>
<path d="M38.6 135.9 40.7 135.6 42.8 134.0 44.9 132.9 46.9 131.4 49.0 129.9 51.1 129.2 53.2 129.0 55.3 128.6 57.4 127.9 59.5 128.0 61.5 127.0 63.6 125.7 65.7 125.0 67.8 125.2 69.9 124.0 72.0 123.2 74.1 122.8 76.1 122.5 78.2 123.3 80.3 124.4 82.4 123.5 84.5 123.6 86.6 123.3 88.7 123.7 90.8 124.1 92.8 123.9 94.9 124.1 97.0 124.8 99.1 124.8 101.2 125.8 103.3 125.9 105.4 125.9 107.4 126.9 109.5 126.9 111.6 126.2 113.7 125.6 115.8 125.2 117.9 125.3 120.0 125.3 122.0 125.2 124.1 125.7 126.2 126.2 128.3 125.4 130.4 125.3 132.5 125.4 134.6 127.8 136.6 130.0 138.7 131.3 140.8 132.3 142.9 133.4 145.0 134.9 147.1 136.3 149.2 138.1 151.2 139.6 153.3 140.8 155.4 142.5 157.5 144.4 159.6 145.4 161.7 146.5 163.8 147.3 165.8 149.4 167.9 151.1 170.0 151.3 172.1 151.3 174.2 151.3 176.3 151.3 178.4 151.3 180.4 151.3 182.5 151.3 184.6 151.3 186.7 151.3 188.8 151.3 190.9 151.3 193.0 151.3 195.0 151.3 197.1 151.3 199.2 151.3 201.3 151.3 203.4 151.3 205.5 151.3 207.6 151.3 209.7 151.3 211.7 151.3 213.8 151.3 215.9 151.3 218.0 151.3 220.1 151.3 222.2 151.3 224.3 151.3 226.3 151.3 228.4 151.3 230.5 151.3 232.6 151.3 234.7 151.3 236.8 151.3 238.9 151.3 240.9 151.3 243.0 151.3 245.1 151.3 247.2 151.3"/>
<path d="M38.6 134.3 40.7 133.0 42.8 132.1 44.9 131.6 46.9 132.1 49.0 131.3 51.1 130.7 53.2 130.1 55.3 130.3 57.4 129.3 59.5 128.0 61.5 126.8 63.6 125.6 65.7 124.8 67.8 124.8 69.9 124.5 72.0 122.7 74.1 121.5 76.1 122.0 78.2 123.2 80.3 122.9 82.4 122.0 84.5 121.8 86.6 122.1 88.7 122.5 90.8 123.0 92.8 122.7 94.9 122.5 97.0 123.5 99.1 124.5 101.2 124.2 103.3 123.7 105.4 124.0 107.4 125.0 109.5 125.6 111.6 125.8 113.7 126.3 115.8 126.8 117.9 127.1 120.0 127.4 122.0 127.9 124.1 128.4 126.2 128.0 128.3 127.3 130.4 126.8 132.5 126.8 134.6 126.0 136.6 127.7 138.7 129.2 140.8 130.2 142.9 131.6 145.0 133.3 147.1 135.2 149.2 137.2 151.2 139.1 153.3 140.2 155.4 141.4 157.5 142.7 159.6 143.8 161.7 145.5 163.8 146.6 165.8 147.6 167.9 149.2 170.0 151.3 172.1 151.3 174.2 151.3 176.3 151.3 178.4 151.3 180.4 151.3 182.5 151.3 184.6 151.3 186.7 151.3 188.8 151.3 190.9 151.3 193.0 151.3 195.0 151.3 197.1 151.3 199.2 151.3 201.3 151.3 203.4 151.3 205.5 151.3 207.6 151.3 209.7 151.3 211.7 151.3 213.8 151.3 215.9 151.3 218.0 151.3 220.1 151.3 222.2 151.3 224.3 151.3 226.3 151.3 228.4 151.3 230.5 151.3 232.6 151.3 234.7 151.3 236.8 151.3 238.9 151.3 240.9 151.3 243.0 151.3 245.1 151.3 247.2 151.3"/>
<path d="M38.6 132.9 40.7 132.1 42.8 132.5 44.9 132.1 46.9 131.6 49.0 131.5 51.1 131.8 53.2 131.3 55.3 130.4 57.4 129.4 59.5 128.3 61.5 127.9 63.6 126.9 65.7 125.7 67.8 124.9 69.9 123.3 72.0 122.3 74.1 123.0 76.1 123.3 78.2 122.9 80.3 122.4 82.4 121.8 84.5 121.7 86.6 122.7 88.7 122.8 90.8 122.6 92.8 123.1 94.9 123.4 97.0 124.1 99.1 124.0 101.2 124.2 103.3 124.5 105.4 125.3 107.4 125.5 109.5 125.5 111.6 126.0 113.7 126.4 115.8 125.9 117.9 125.2 120.0 125.1 122.0 125.1 124.1 124.9 126.2 124.5 128.3 125.1 130.4 125.3 132.5 125.1 134.6 126.0 136.6 127.2 138.7 128.8 140.8 131.1 142.9 133.0 145.0 134.1 147.1 134.7 149.2 135.9 151.2 138.4 153.3 140.2 155.4 142.2 157.5 143.2 159.6 144.3 161.7 146.2 163.8 148.4 165.8 149.7 167.9 151.3 170.0 151.3 172.1 151.3 174.2 151.3 176.3 151.3 178.4 151.3 180.4 151.3 182.5 151.3 184.6 151.3 186.7 151.3 188.8 151.3 190.9 151.3 193.0 151.3 195.0 151.3 197.1 151.3 199.2 151.3 201.3 151.3 203.4 151.3 205.5 151.3 207.6 151.3 209.7 151.3 211.7 151.3 213.8 151.3 215.9 151.3 218.0 151.3 220.1 151.3 222.2 151.3 224.3 151.3 226.3 151.3 228.4 151.3 230.5 151.3 232.6 151.3 234.7 151.3 236.8 151.3 238.9 151.3 240.9 151.3 243.0 151.3 245.1 151.3 247.2 151.3"/>
<path d="M38.6 133.6 40.7 134.3 42.8 133.0 44.9 132.0 46.9 130.6 49.0 129.5 51.1 129.3 53.2 128.9 55.3 127.7 57.4 126.3 59.5 125.1 61.5 124.3 63.6 123.9 65.7 123.0 67.8 121.9 69.9 120.9 72.0 121.0 74.1 120.5 76.1 119.2 78.2 118.9 80.3 119.4 82.4 120.0 84.5 120.2 86.6 121.2 88.7 122.1 90.8 122.4 92.8 123.0 94.9 122.7 97.0 122.5 99.1 121.8 101.2 121.2 103.3 121.9 105.4 121.3 107.4 120.7 109.5 120.8 111.6 121.5 113.7 121.9 115.8 121.4 117.9 121.7 120.0 121.2 122.0 121.6 124.1 121.5 126.2 121.8 128.3 122.7 130.4 122.9 132.5 122.9 134.6 124.4 136.6 125.3 138.7 126.7 140.8 127.8 142.9 128.9 145.0 129.8 147.1 130.8 149.2 133.0 151.2 135.1 153.3 136.4 155.4 136.5 157.5 139.0 159.6 140.8 161.7 143.0 163.8 145.0 165.8 146.2 167.9 147.3 170.0 150.4 172.1 151.3 174.2 151.3 176.3 151.3 178.4 151.3 180.4 151.3 182.5 151.3 184.6 151.3 186.7 151.3 188.8 151.3 190.9 151.3 193.0 151.3 195.0 151.3 197.1 151.3 199.2 151.3 201.3 151.3 203.4 151.3 205.5 151.3 207.6 151.3 209.7 151.3 211.7 151.3 213.8 151.3 215.9 151.3 218.0 151.3 220.1 151.3 222.2 151.3 224.3 151.3 226.3 151.3 228.4 151.3 230.5 151.3 232.6 151.3 234.7 151.3 236.8 151.3 238.9 151.3 240.9 151.3 243.0 151.3 245.1 151.3 247.2 151.3"/>
<path d="M38.6 133.1 40.7 133.1 42.8 132.4 44.9 130.9 46.9 130.4 49.0 128.9 51.1 127.7 53.2 127.8 55.3 127.0 57.4 125.1 59.5 123.7 61.5 122.7 63.6 122.4 65.7 121.8 67.8 121.3 69.9 120.1 72.0 118.8 74.1 118.4 76.1 118.9 78.2 118.7 80.3 118.2 82.4 118.0 84.5 118.4 86.6 118.5 88.7 118.7 90.8 119.6 92.8 119.2 94.9 120.0 97.0 121.1 99.1 120.9 101.2 121.1 103.3 121.7 105.4 121.5 107.4 121.4 109.5 121.3 111.6 122.1 113.7 122.5 115.8 122.6 117.9 122.4 120.0 121.5 122.0 120.8 124.1 121.7 126.2 122.2 128.3 122.1 130.4 122.3 132.5 122.2 134.6 123.0 136.6 124.5 138.7 125.9 140.8 127.3 142.9 128.9 145.0 131.2 147.1 132.0 149.2 133.6 151.2 135.1 153.3 137.0 155.4 139.2 157.5 141.6 159.6 143.3 161.7 144.4 163.8 145.8 165.8 147.9 167.9 150.7 170.0 151.3 172.1 151.3 174.2 151.3 176.3 151.3 178.4 151.3 180.4 151.3 182.5 151.3 184.6 151.3 186.7 151.3 188.8 151.3 190.9 151.3 193.0 151.3 195.0 151.3 197.1 151.3 199.2 151.3 201.3 151.3 203.4 151.3 205.5 151.3 207.6 151.3 209.7 151.3 211.7 151.3 213.8 151.3 215.9 151.3 218.0 151.3 220.1 151.3 222.2 151.3 224.3 151.3 226.3 151.3 228.4 151.3 230.5 151.3 232.6 151.3 234.7 151.3 236.8 151.3 238.9 151.3 240.9 151.3 243.0 151.3 245.1 151.3 247.2 151.3"/>
<path d="M38.6 128.0 40.7 128.1 42.8 127.7 44.9 127.1 46.9 127.1 49.0 126.9 51.1 125.2 53.2 123.9 55.3 124.7 57.4 125.4 59.5 124.2 61.5 122.8 63.6 121.3 65.7 120.4 67.8 119.6 69.9 118.6 72.0 117.2 74.1 116.7 76.1 116.7 78.2 116.9 80.3 117.3 82.4 117.8 84.5 118.2 86.6 118.7 88.7 119.6 90.8 120.2 92.8 119.7 94.9 119.6 97.0 120.4 99.1 120.9 101.2 121.1 103.3 121.7 105.4 121.9 107.4 121.7 109.5 121.5 111.6 121.3 113.7 121.0 115.8 121.7 117.9 122.2 120.0 122.2 122.0 121.9 124.1 121.9 126.2 122.1 128.3 121.6 130.4 121.6 132.5 122.2 134.6 122.9 136.6 124.4 138.7 126.4 140.8 128.0 142.9 129.2 145.0 130.1 147.1 131.6 149.2 132.5 151.2 134.0 153.3 135.6 155.4 137.0 157.5 138.7 159.6 140.6 161.7 142.2 163.8 142.8 165.8 144.1 167.9 146.9 170.0 148.7 172.1 150.3 174.2 151.3 176.3 151.3 178.4 151.3 180.4 151.3 182.5 151.3 184.6 151.3 186.7 151.3 188.8 151.3 190.9 151.3 193.0 151.3 195.0 151.3 197.1 151.3 199.2 151.3 201.3 151.3 203.4 151.3 205.5 151.3 207.6 151.3 209.7 151.3 211.7 151.3 213.8 151.3 215.9 151.3 218.0 151.3 220.1 151.3 222.2 151.3 224.3 151.3 226.3 151.3 228.4 151.3 230.5 151.3 232.6 151.3 234.7 151.3 236.8 151.3 238.9 151.3 240.9 151.3 243.0 151.3 245.1 151.3 247.2 151.3"/>
<path d="M38.6 133.9 40.7 133.5 42.8 132.8 44.9 131.3 46.9 129.5 49.0 128.7 51.1 128.4 53.2 128.2 55.3 126.9 57.4 126.2 59.5 124.8 61.5 122.9 63.6 121.7 65.7 120.2 67.8 119.0 69.9 118.1 72.0 116.6 74.1 115.8 76.1 116.1 78.2 116.2 80.3 115.6 82.4 116.1 84.5 116.6 86.6 116.6 88.7 116.3 90.8 116.2 92.8 116.2 94.9 117.1 97.0 116.8 99.1 116.3 101.2 116.4 103.3 116.9 105.4 117.0 107.4 117.0 109.5 117.1 111.6 117.3 113.7 117.7 115.8 118.3 117.9 118.5 120.0 117.5 122.0 117.5 124.1 118.3 126.2 118.5 128.3 118.8 130.4 119.4 132.5 120.1 134.6 120.2 136.6 121.5 138.7 123.0 140.8 124.1 142.9 125.1 145.0 126.6 147.1 128.0 149.2 129.6 151.2 131.3 153.3 133.1 155.4 135.4 157.5 136.9 159.6 137.7 161.7 139.7 163.8 141.5 165.8 143.6 167.9 144.9 170.0 145.9 172.1 147.7 174.2 149.4 176.3 151.1 178.4 151.3 180.4 151.3 182.5 151.3 184.6 151.3 186.7 151.3 188.8 151.3 190.9 151.3 193.0 151.3 195.0 151.3 197.1 151.3 199.2 151.3 201.3 151.3 203.4 151.3 205.5 151.3 207.6 151.3 209.7 151.3 211.7 151.3 213.8 151.3 215.9 151.3 218.0 151.3 220.1 151.3 222.2 151.3 224.3 151.3 226.3 151.3 228.4 151.3 230.5 151.3 232.6 151.3 234.7 151.3 236.8 151.3 238.9 151.3 240.9 151.3 243.0 151.3 245.1 151.3 247.2 151.3"/>
<path d="M38.6 128.9 40.7 128.5 42.8 128.2 44.9 128.1 46.9 127.1 49.0 126.0 51.1 125.7 53.2 124.1 55.3 123.2 57.4 122.4 59.5 120.9 61.5 119.9 63.6 119.3 65.7 118.4 67.8 117.6 69.9 116.8 72.0 116.4 74.1 116.3 76.1 116.2 78.2 117.5 80.3 118.3 82.4 118.1 84.5 117.6 86.6 119.2 88.7 119.8 90.8 119.8 92.8 119.3 94.9 119.3 97.0 118.7 99.1 118.7 101.2 118.4 103.3 118.9 105.4 119.7 107.4 120.5 109.5 120.5 111.6 120.3 113.7 120.0 115.8 119.6 117.9 119.7 120.0 119.6 122.0 120.2 124.1 120.5 126.2 120.5 128.3 121.0 130.4 121.5 132.5 122.4 134.6 123.5 136.6 124.8 138.7 126.0 140.8 127.7 142.9 129.4 145.0 132.0 147.1 132.9 149.2 134.0 151.2 135.4 153.3 137.5 155.4 139.2 157.5 141.5 159.6 143.8 161.7 145.1 163.8 146.2 165.8 148.7 167.9 150.4 170.0 151.2 172.1 151.3 174.2 151.3 176.3 151.3 178.4 151.3 180.4 151.3 182.5 151.3 184.6 151.3 186.7 151.3 188.8 151.3 190.9 151.3 193.0 151.3 195.0 151.3 197.1 151.3 199.2 151.3 201.3 151.3 203.4 151.3 205.5 151.3 207.6 151.3 209.7 151.3 211.7 151.3 213.8 151.3 215.9 151.3 218.0 151.3 220.1 151.3 222.2 151.3 224.3 151.3 226.3 151.3 228.4 151.3 230.5 151.3 232.6 151.3 234.7 151.3 236.8 151.3 238.9 151.3 240.9 151.3 243.0 151.3 245.1 151.3 247.2 151.3"/>
<path d="M38.6 132.1 40.7 131.5 42.8 130.6 44.9 130.0 46.9 129.6 49.0 129.1 51.1 128.2 53.2 127.3 55.3 126.5 57.4 125.3 59.5 123.6 61.5 122.1 63.6 120.2 65.7 118.8 67.8 118.1 69.9 116.5 72.0 114.8 74.1 114.1 76.1 114.2 78.2 113.8 80.3 115.4 82.4 115.6 84.5 115.6 86.6 116.7 88.7 116.7 90.8 116.7 92.8 117.1 94.9 117.1 97.0 118.1 99.1 117.8 101.2 116.6 103.3 116.9 105.4 117.6 107.4 118.5 109.5 118.2 111.6 117.8 113.7 118.6 115.8 118.7 117.9 118.3 120.0 119.1 122.0 119.2 124.1 119.6 126.2 120.2 128.3 119.8 130.4 120.0 132.5 120.5 134.6 119.7 136.6 120.0 138.7 119.9 140.8 120.5 142.9 121.7 145.0 124.3 147.1 127.6 149.2 129.4 151.2 131.1 153.3 133.9 155.4 136.2 157.5 137.7 159.6 139.0 161.7 140.8 163.8 143.1 165.8 145.9 167.9 150.2 170.0 151.3 172.1 151.3 174.2 151.3 176.3 151.3 178.4 151.3 180.4 151.3 182.5 151.3 184.6 151.3 186.7 151.3 188.8 151.3 190.9 151.3 193.0 151.3 195.0 151.3 197.1 151.3 199.2 151.3 201.3 151.3 203.4 151.3 205.5 151.3 207.6 151.3 209.7 151.3 211.7 151.3 213.8 151.3 215.9 151.3 218.0 151.3 220.1 151.3 222.2 151.3 224.3 151.3 226.3 151.3 228.4 151.3 230.5 151.3 232.6 151.3 234.7 151.3 236.8 151.3 238.9 151.3 240.9 151.3 243.0 151.3 245.1 151.3 247.2 151.3"/>
<path d="M38.6 146.4 40.7 145.7 42.8 145.4 44.9 144.9 46.9 144.5 49.0 144.1 51.1 143.6 53.2 143.5 55.3 143.5 57.4 143.8 59.5 143.0 61.5 142.5 63.6 142.8 65.7 143.1 67.8 143.1 69.9 142.8 72.0 141.4 74.1 140.1 76.1 140.1 78.2 140.8 80.3 140.7 82.4 140.2 84.5 141.0 86.6 141.4 88.7 141.4 90.8 142.7 92.8 142.9 94.9 142.8 97.0 143.2 99.1 144.1 101.2 143.8 103.3 143.5 105.4 144.5 107.4 144.5 109.5 144.0 111.6 143.8 113.7 143.5 115.8 142.9 117.9 143.1 120.0 143.4 122.0 143.6 124.1 143.0 126.2 143.2 128.3 143.9 130.4 144.1 132.5 145.1 134.6 145.7 136.6 146.3 138.7 146.8 140.8 147.0 142.9 146.9 145.0 148.1 147.1 148.6 149.2 148.8 151.2 149.7 153.3 150.9 155.4 151.3 157.5 151.3 159.6 151.3 161.7 151.3 163.8 151.3 165.8 151.3 167.9 151.3 170.0 151.3 172.1 151.3 174.2 151.3 176.3 151.3 178.4 151.3 180.4 151.3 182.5 151.3 184.6 151.3 186.7 151.3 188.8 151.3 190.9 151.3 193.0 151.3 195.0 151.3 197.1 151.3 199.2 151.3 201.3 151.3 203.4 151.3 205.5 151.3 207.6 151.3 209.7 151.3 211.7 151.3 213.8 151.3 215.9 151.3 218.0 151.3 220.1 151.3 222.2 151.3 224.3 151.3 226.3 151.3 228.4 151.3 230.5 151.3 232.6 151.3 234.7 151.3 236.8 151.3 238.9 151.3 240.9 151.3 243.0 151.3 245.1 151.3 247.2 151.3"/>
<path d="M38.6 145.2 40.7 144.9 42.8 145.5 44.9 144.9 46.9 144.2 49.0 144.4 51.1 145.0 53.2 144.4 55.3 143.4 57.4 142.7 59.5 142.4 61.5 142.2 63.6 141.9 65.7 141.5 67.8 141.6 69.9 141.3 72.0 141.3 74.1 141.5 76.1 142.3 78.2 141.9 80.3 141.9 82.4 142.1 84.5 143.0 86.6 142.9 88.7 143.3 90.8 143.4 92.8 143.9 94.9 144.0 97.0 142.7 99.1 142.6 101.2 142.6 103.3 142.2 105.4 142.6 107.4 141.8 109.5 141.1 111.6 141.4 113.7 141.1 115.8 140.6 117.9 140.9 120.0 140.9 122.0 140.7 124.1 140.6 126.2 140.9 128.3 141.7 130.4 142.0 132.5 143.5 134.6 144.9 136.6 145.5 138.7 145.8 140.8 146.7 142.9 147.7 145.0 149.1 147.1 149.1 149.2 149.8 151.2 150.8 153.3 151.3 155.4 151.3 157.5 151.3 159.6 151.3 161.7 151.3 163.8 151.3 165.8 151.3 167.9 151.3 170.0 151.3 172.1 151.3 174.2 151.3 176.3 151.3 178.4 151.3 180.4 151.3 182.5 151.3 184.6 151.3 186.7 151.3 188.8 151.3 190.9 151.3 193.0 151.3 195.0 151.3 197.1 151.3 199.2 151.3 201.3 151.3 203.4 151.3 205.5 151.3 207.6 151.3 209.7 151.3 211.7 151.3 213.8 151.3 215.9 151.3 218.0 151.3 220.1 151.3 222.2 151.3 224.3 151.3 226.3 151.3 228.4 151.3 230.5 151.3 232.6 151.3 234.7 151.3 236.8 151.3 238.9 151.3 240.9 151.3 243.0 151.3 245.1 151.3 247.2 151.3"/>
<path d="M38.6 143.3 40.7 142.9 42.8 142.8 44.9 142.3 46.9 142.1 49.0 141.9 51.1 142.3 53.2 142.1 55.3 142.0 57.4 140.9 59.5 139.8 61.5 139.4 63.6 140.0 65.7 139.9 67.8 138.5 69.9 137.9 72.0 137.8 74.1 137.0 76.1 137.0 78.2 137.1 80.3 138.1 82.4 138.8 84.5 138.8 86.6 138.9 88.7 138.8 90.8 139.0 92.8 138.8 94.9 138.6 97.0 139.1 99.1 139.2 101.2 138.7 103.3 139.3 105.4 139.6 107.4 139.4 109.5 139.2 111.6 139.0 113.7 139.9 115.8 139.7 117.9 139.8 120.0 140.4 122.0 140.2 124.1 139.9 126.2 140.3 128.3 141.3 130.4 142.2 132.5 142.1 134.6 142.8 136.6 143.4 138.7 144.1 140.8 144.8 142.9 145.6 145.0 146.7 147.1 146.6 149.2 147.4 151.2 149.0 153.3 150.6 155.4 151.3 157.5 151.3 159.6 151.3 161.7 151.3 163.8 151.3 165.8 151.3 167.9 151.3 170.0 151.3 172.1 151.3 174.2 151.3 176.3 151.3 178.4 151.3 180.4 151.3 182.5 151.3 184.6 151.3 186.7 151.3 188.8 151.3 190.9 151.3 193.0 151.3 195.0 151.3 197.1 151.3 199.2 151.3 201.3 151.3 203.4 151.3 205.5 151.3 207.6 151.3 209.7 151.3 211.7 151.3 213.8 151.3 215.9 151.3 218.0 151.3 220.1 151.3 222.2 151.3 224.3 151.3 226.3 151.3 228.4 151.3 230.5 151.3 232.6 151.3 234.7 151.3 236.8 151.3 238.9 151.3 240.9 151.3 243.0 151.3 245.1 151.3 247.2 151.3"/>
<path d="M38.6 143.8 40.7 143.1 42.8 142.5 44.9 141.9 46.9 142.0 49.0 141.5 51.1 140.9 53.2 140.3 55.3 139.5 57.4 137.8 59.5 136.8 61.5 137.3 63.6 137.0 65.7 137.0 67.8 137.1 69.9 137.5 72.0 137.3 74.1 137.4 76.1 138.0 78.2 139.0 80.3 138.6 82.4 137.8 84.5 137.6 86.6 138.0 88.7 137.8 90.8 137.0 92.8 137.5 94.9 137.7 97.0 137.7 99.1 138.3 101.2 138.6 103.3 138.2 105.4 138.1 107.4 137.9 109.5 137.4 111.6 137.2 113.7 136.9 115.8 137.4 117.9 138.3 120.0 138.3 122.0 138.7 124.1 138.7 126.2 140.0 128.3 140.8 130.4 141.6 132.5 141.8 134.6 142.8 136.6 144.1 138.7 145.4 140.8 146.6 142.9 147.5 145.0 148.2 147.1 148.6 149.2 149.1 151.2 149.7 153.3 150.9 155.4 151.3 157.5 151.3 159.6 151.3 161.7 151.3 163.8 151.3 165.8 151.3 167.9 151.3 170.0 151.3 172.1 151.3 174.2 151.3 176.3 151.3 178.4 151.3 180.4 151.3 182.5 151.3 184.6 151.3 186.7 151.3 188.8 151.3 190.9 151.3 193.0 151.3 195.0 151.3 197.1 151.3 199.2 151.3 201.3 151.3 203.4 151.3 205.5 151.3 207.6 151.3 209.7 151.3 211.7 151.3 213.8 151.3 215.9 151.3 218.0 151.3 220.1 151.3 222.2 151.3 224.3 151.3 226.3 151.3 228.4 151.3 230.5 151.3 232.6 151.3 234.7 151.3 236.8 151.3 238.9 151.3 240.9 151.3 243.0 151.3 245.1 151.3 247.2 151.3"/>
<path d="M38.6 142.5 40.7 142.0 42.8 141.5 44.9 141.3 46.9 140.6 49.0 140.7 51.1 140.8 53.2 140.7 55.3 141.0 57.4 141.3 59.5 140.7 61.5 140.0 63.6 139.8 65.7 139.5 67.8 138.9 69.9 138.3 72.0 137.2 74.1 136.8 76.1 136.4 78.2 136.3 80.3 136.3 82.4 136.5 84.5 136.9 86.6 137.5 88.7 137.1 90.8 137.4 92.8 137.8 94.9 137.7 97.0 137.4 99.1 137.8 101.2 136.8 103.3 136.3 105.4 137.5 107.4 138.6 109.5 139.2 111.6 138.7 113.7 139.2 115.8 140.2 117.9 140.7 120.0 140.9 122.0 140.1 124.1 140.3 126.2 139.7 128.3 139.0 130.4 139.3 132.5 140.5 134.6 142.0 136.6 143.0 138.7 144.6 140.8 146.0 142.9 147.1 145.0 147.5 147.1 148.2 149.2 148.3 151.2 148.8 153.3 149.8 155.4 150.4 157.5 151.2 159.6 151.3 161.7 151.3 163.8 151.3 165.8 151.3 167.9 151.3 170.0 151.3 172.1 151.3 174.2 151.3 176.3 151.3 178.4 151.3 180.4 151.3 182.5 151.3 184.6 151.3 186.7 151.3 188.8 151.3 190.9 151.3 193.0 151.3 195.0 151.3 197.1 151.3 199.2 151.3 201.3 151.3 203.4 151.3 205.5 151.3 207.6 151.3 209.7 151.3 211.7 151.3 213.8 151.3 215.9 151.3 218.0 151.3 220.1 151.3 222.2 151.3 224.3 151.3 226.3 151.3 228.4 151.3 230.5 151.3 232.6 151.3 234.7 151.3 236.8 151.3 238.9 151.3 240.9 151.3 243.0 151.3 245.1 151.3 247.2 151.3"/>
<path d="M38.6 140.9 40.7 140.6 42.8 139.9 44.9 140.3 46.9 139.9 49.0 140.2 51.1 141.1 53.2 141.7 55.3 141.9 57.4 141.9 59.5 141.8 61.5 141.4 63.6 139.7 65.7 138.9 67.8 138.1 69.9 136.9 72.0 136.8 74.1 137.0 76.1 137.4 78.2 137.1 80.3 136.6 82.4 136.6 84.5 136.9 86.6 136.8 88.7 137.0 90.8 136.4 92.8 135.6 94.9 135.6 97.0 135.9 99.1 135.9 101.2 135.6 103.3 135.9 105.4 136.4 107.4 137.2 109.5 137.3 111.6 137.8 113.7 137.6 115.8 137.6 117.9 137.1 120.0 137.5 122.0 138.3 124.1 138.5 126.2 138.8 128.3 139.6 130.4 140.5 132.5 141.4 134.6 141.9 136.6 143.5 138.7 144.3 140.8 145.3 142.9 145.9 145.0 146.9 147.1 147.5 149.2 147.9 151.2 149.0 153.3 149.9 155.4 151.1 157.5 151.3 159.6 151.3 161.7 151.3 163.8 151.3 165.8 151.3 167.9 151.3 170.0 151.3 172.1 151.3 174.2 151.3 176.3 151.3 178.4 151.3 180.4 151.3 182.5 151.3 184.6 151.3 186.7 151.3 188.8 151.3 190.9 151.3 193.0 151.3 195.0 151.3 197.1 151.3 199.2 151.3 201.3 151.3 203.4 151.3 205.5 151.3 207.6 151.3 209.7 151.3 211.7 151.3 213.8 151.3 215.9 151.3 218.0 151.3 220.1 151.3 222.2 151.3 224.3 151.3 226.3 151.3 228.4 151.3 230.5 151.3 232.6 151.3 234.7 151.3 236.8 151.3 238.9 151.3 240.9 151.3 243.0 151.3 245.1 151.3 247.2 151.3"/>
<path d="M38.6 141.5 40.7 141.9 42.8 142.1 44.9 141.2 46.9 140.0 49.0 139.2 51.1 139.2 53.2 139.0 55.3 138.7 57.4 138.3 59.5 138.0 61.5 137.7 63.6 136.9 65.7 136.8 67.8 136.5 69.9 135.2 72.0 134.2 74.1 133.8 76.1 134.9 78.2 136.3 80.3 136.6 82.4 136.7 84.5 137.2 86.6 137.1 88.7 136.4 90.8 136.3 92.8 135.6 94.9 135.3 97.0 135.4 99.1 136.0 101.2 136.4 103.3 136.4 105.4 137.0 107.4 137.1 109.5 137.4 111.6 138.1 113.7 138.6 115.8 137.8 117.9 137.4 120.0 137.5 122.0 137.1 124.1 137.6 126.2 137.7 128.3 137.7 130.4 138.6 132.5 138.6 134.6 138.8 136.6 140.2 138.7 141.6 140.8 142.1 142.9 142.9 145.0 144.2 147.1 145.0 149.2 145.5 151.2 146.3 153.3 147.7 155.4 149.1 157.5 150.8 159.6 151.3 161.7 151.3 163.8 151.3 165.8 151.3 167.9 151.3 170.0 151.3 172.1 151.3 174.2 151.3 176.3 151.3 178.4 151.3 180.4 151.3 182.5 151.3 184.6 151.3 186.7 151.3 188.8 151.3 190.9 151.3 193.0 151.3 195.0 151.3 197.1 151.3 199.2 151.3 201.3 151.3 203.4 151.3 205.5 151.3 207.6 151.3 209.7 151.3 211.7 151.3 213.8 151.3 215.9 151.3 218.0 151.3 220.1 151.3 222.2 151.3 224.3 151.3 226.3 151.3 228.4 151.3 230.5 151.3 232.6 151.3 234.7 151.3 236.8 151.3 238.9 151.3 240.9 151.3 243.0 151.3 245.1 151.3 247.2 151.3"/>
<path d="M38.6 143.7 40.7 143.0 42.8 143.1 44.9 142.6 46.9 142.1 49.0 141.5 51.1 140.3 53.2 138.7 55.3 137.7 57.4 137.8 59.5 137.2 61.5 136.3 63.6 135.3 65.7 134.3 67.8 133.6 69.9 133.7 72.0 133.7 74.1 132.6 76.1 133.0 78.2 133.9 80.3 134.2 82.4 134.4 84.5 135.0 86.6 135.7 88.7 134.9 90.8 135.1 92.8 134.9 94.9 135.1 97.0 135.6 99.1 135.3 101.2 134.9 103.3 134.9 105.4 135.4 107.4 135.9 109.5 135.6 111.6 135.4 113.7 136.4 115.8 137.7 117.9 137.4 120.0 137.3 122.0 137.1 124.1 138.2 126.2 139.4 128.3 139.4 130.4 139.3 132.5 140.2 134.6 141.1 136.6 141.9 138.7 144.3 140.8 146.2 142.9 147.4 145.0 148.2 147.1 149.6 149.2 150.6 151.2 150.6 153.3 151.3 155.4 151.3 157.5 151.3 159.6 151.3 161.7 151.3 163.8 151.3 165.8 151.3 167.9 151.3 170.0 151.3 172.1 151.3 174.2 151.3 176.3 151.3 178.4 151.3 180.4 151.3 182.5 151.3 184.6 151.3 186.7 151.3 188.8 151.3 190.9 151.3 193.0 151.3 195.0 151.3 197.1 151.3 199.2 151.3 201.3 151.3 203.4 151.3 205.5 151.3 207.6 151.3 209.7 151.3 211.7 151.3 213.8 151.3 215.9 151.3 218.0 151.3 220.1 151.3 222.2 151.3 224.3 151.3 226.3 151.3 228.4 151.3 230.5 151.3 232.6 151.3 234.7 151.3 236.8 151.3 238.9 151.3 240.9 151.3 243.0 151.3 245.1 151.3 247.2 151.3"/>
<path d="M38.6 133.1 40.7 132.0 42.8 130.2 44.9 128.9 46.9 127.9 49.0 126.2 51.1 125.4 53.2 124.7 55.3 122.8 57.4 121.6 59.5 120.1 61.5 118.9 63.6 118.3 65.7 116.2 67.8 113.7 69.9 112.5 72.0 111.7 74.1 111.1 76.1 111.3 78.2 111.9 80.3 112.9 82.4 113.5 84.5 114.3 86.6 114.2 88.7 115.0 90.8 115.6 92.8 115.5 94.9 116.4 97.0 117.5 99.1 117.5 101.2 117.8 103.3 118.6 105.4 118.3 107.4 118.7 109.5 119.3 111.6 120.3 113.7 120.1 115.8 119.0 117.9 119.0 120.0 119.2 122.0 119.2 124.1 119.3 126.2 119.6 128.3 120.8 130.4 121.7 132.5 122.4 134.6 121.8 136.6 122.2 138.7 122.6 140.8 123.7 142.9 124.5 145.0 125.7 147.1 127.4 149.2 127.7 151.2 128.9 153.3 130.2 155.4 132.8 157.5 135.2 159.6 136.7 161.7 137.9 163.8 139.5 165.8 141.2 167.9 142.8 170.0 145.8 172.1 148.4 174.2 149.9 176.3 151.2 178.4 151.3 180.4 151.3 182.5 151.3 184.6 151.3 186.7 151.3 188.8 151.3 190.9 151.3 193.0 151.3 195.0 151.3 197.1 151.3 199.2 151.3 201.3 151.3 203.4 151.3 205.5 151.3 207.6 151.3 209.7 151.3 211.7 151.3 213.8 151.3 215.9 151.3 218.0 151.3 220.1 151.3 222.2 151.3 224.3 151.3 226.3 151.3 228.4 151.3 230.5 151.3 232.6 151.3 234.7 151.3 236.8 151.3 238.9 151.3 240.9 151.3 243.0 151.3 245.1 151.3 247.2 151.3"/>
<path d="M38.6 209.9 40.7 209.9 42.8 209.9 44.9 209.9 46.9 209.9 49.0 209.9 51.1 209.9 53.2 209.9 55.3 209.9 57.4 209.9 59.5 209.9 61.5 209.9 63.6 209.9 65.7 209.9 67.8 209.9 69.9 209.9 72.0 209.9 74.1 209.9 76.1 209.9 78.2 209.9 80.3 209.9 82.4 209.9 84.5 209.9 86.6 209.9 88.7 209.9 90.8 209.9 92.8 209.9 94.9 209.9 97.0 209.9 99.1 209.9 101.2 209.9 103.3 209.9 105.4 209.9 107.4 209.9 109.5 209.9 111.6 209.9 113.7 209.9 115.8 209.9 117.9 209.9 120.0 209.9 122.0 209.9 124.1 209.9 126.2 209.9 128.3 209.9 130.4 209.9 132.5 209.9 134.6 209.9 136.6 209.9 138.7 209.9 140.8 209.9 142.9 209.9 145.0 209.7 147.1 207.7 149.2 206.5 151.2 205.6 153.3 204.2 155.4 204.0 157.5 203.7 159.6 203.5 161.7 203.8 163.8 202.1 165.8 200.8 167.9 200.8 170.0 201.0 172.1 200.1 174.2 198.1 176.3 196.5 178.4 196.4 180.4 196.1 182.5 196.2 184.6 196.7 186.7 196.8 188.8 197.6 190.9 197.5 193.0 197.2 195.0 197.2 197.1 197.3 199.2 196.1 201.3 195.2 203.4 195.0 205.5 194.4 207.6 194.7 209.7 195.0 211.7 195.3 213.8 194.4 215.9 194.3 218.0 194.5 220.1 195.3 222.2 195.2 224.3 194.9 226.3 195.5 228.4 196.1 230.5 196.4 232.6 195.9 234.7 196.4 236.8 197.6 238.9 197.5 240.9 197.7 243.0 198.5 245.1 199.5 247.2 200.6"/>
<path d="M38.6 209.9 40.7 209.9 42.8 209.9 44.9 209.9 46.9 209.9 49.0 209.9 51.1 209.9 53.2 209.9 55.3 209.9 57.4 209.9 59.5 209.9 61.5 209.9 63.6 209.9 65.7 209.9 67.8 209.9 69.9 209.9 72.0 209.9 74.1 209.9 76.1 209.9 78.2 209.9 80.3 209.9 82.4 209.9 84.5 209.9 86.6 209.9 88.7 209.9 90.8 209.9 92.8 209.9 94.9 209.9 97.0 209.9 99.1 209.9 101.2 209.9 103.3 209.9 105.4 209.9 107.4 209.9 109.5 209.9 111.6 209.9 113.7 209.9 115.8 209.9 117.9 209.9 120.0 209.9 122.0 209.9 124.1 209.9 126.2 209.9 128.3 209.9 130.4 209.9 132.5 209.9 134.6 209.9 136.6 209.9 138.7 209.9 140.8 209.9 142.9 209.7 145.0 207.7 147.1 205.8 149.2 205.0 151.2 203.8 153.3 202.5 155.4 202.0 157.5 201.1 159.6 199.7 161.7 198.9 163.8 198.4 165.8 198.0 167.9 198.1 170.0 197.4 172.1 196.9 174.2 196.6 176.3 197.0 178.4 197.3 180.4 196.7 182.5 197.0 184.6 196.8 186.7 196.3 188.8 195.4 190.9 195.2 193.0 195.6 195.0 195.2 197.1 195.1 199.2 195.0 201.3 194.2 203.4 193.8 205.5 193.2 207.6 193.2 209.7 193.3 211.7 193.3 213.8 193.4 215.9 193.7 218.0 194.1 220.1 194.3 222.2 194.7 224.3 195.6 226.3 196.6 228.4 196.9 230.5 196.8 232.6 196.7 234.7 197.9 236.8 199.3 238.9 199.9 240.9 200.3 243.0 200.4 245.1 201.1 247.2 201.5"/>
<path d="M38.6 209.9 40.7 209.9 42.8 209.9 44.9 209.9 46.9 209.9 49.0 209.9 51.1 209.9 53.2 209.9 55.3 209.9 57.4 209.9 59.5 209.9 61.5 209.9 63.6 209.9 65.7 209.9 67.8 209.9 69.9 209.9 72.0 209.9 74.1 209.9 76.1 209.9 78.2 209.9 80.3 209.9 82.4 209.9 84.5 209.9 86.6 209.9 88.7 209.9 90.8 209.9 92.8 209.9 94.9 209.9 97.0 209.9 99.1 209.9 101.2 209.9 103.3 209.9 105.4 209.9 107.4 209.9 109.5 209.9 111.6 209.9 113.7 209.9 115.8 209.9 117.9 209.9 120.0 209.9 122.0 209.9 124.1 209.9 126.2 209.9 128.3 209.9 130.4 209.9 132.5 209.9 134.6 209.9 136.6 209.9 138.7 209.9 140.8 209.9 142.9 209.9 145.0 209.9 147.1 208.7 149.2 206.9 151.2 206.0 153.3 204.7 155.4 203.7 157.5 203.4 159.6 203.3 161.7 202.1 163.8 200.9 165.8 200.0 167.9 199.0 170.0 198.3 172.1 197.4 174.2 195.8 176.3 196.3 178.4 195.9 180.4 194.4 182.5 193.9 184.6 193.8 186.7 194.5 188.8 195.8 190.9 195.7 193.0 194.6 195.0 194.7 197.1 195.3 199.2 195.3 201.3 195.4 203.4 195.0 205.5 193.9 207.6 192.9 209.7 192.7 211.7 193.4 213.8 192.3 215.9 192.1 218.0 192.6 220.1 192.7 222.2 193.0 224.3 193.7 226.3 194.6 228.4 194.3 230.5 195.1 232.6 196.1 234.7 196.7 236.8 197.0 238.9 198.1 240.9 199.4 243.0 200.4 245.1 200.8 247.2 201.2"/>
<path d="M38.6 209.9 40.7 209.9 42.8 209.9 44.9 209.9 46.9 209.9 49.0 209.9 51.1 209.9 53.2 209.9 55.3 209.9 57.4 209.9 59.5 209.9 61.5 209.9 63.6 209.9 65.7 209.9 67.8 209.9 69.9 209.9 72.0 209.9 74.1 209.9 76.1 209.9 78.2 209.9 80.3 209.9 82.4 209.9 84.5 209.9 86.6 209.9 88.7 209.9 90.8 209.9 92.8 209.9 94.9 209.9 97.0 209.9 99.1 209.9 101.2 209.9 103.3 209.9 105.4 209.9 107.4 209.9 109.5 209.9 111.6 209.9 113.7 209.9 115.8 209.9 117.9 209.9 120.0 209.9 122.0 209.9 124.1 209.9 126.2 209.9 128.3 209.9 130.4 209.9 132.5 209.9 134.6 209.9 136.6 209.9 138.7 209.9 140.8 209.6 142.9 208.2 145.0 207.0 147.1 207.0 149.2 206.4 151.2 204.5 153.3 203.0 155.4 201.5 157.5 200.6 159.6 200.0 161.7 199.9 163.8 198.8 165.8 198.1 167.9 197.4 170.0 197.4 172.1 197.5 174.2 197.3 176.3 195.8 178.4 194.6 180.4 194.7 182.5 195.1 184.6 194.8 186.7 195.1 188.8 194.8 190.9 194.8 193.0 194.3 195.0 194.0 197.1 193.9 199.2 193.5 201.3 193.5 203.4 192.8 205.5 192.5 207.6 191.9 209.7 191.4 211.7 191.9 213.8 191.7 215.9 192.2 218.0 192.9 220.1 193.9 222.2 194.2 224.3 194.8 226.3 196.1 228.4 196.6 230.5 196.3 232.6 196.3 234.7 197.2 236.8 198.0 238.9 199.3 240.9 200.1 243.0 200.1 245.1 199.2 247.2 199.4"/>
<path d="M38.6 209.9 40.7 209.9 42.8 209.9 44.9 209.9 46.9 209.9 49.0 209.9 51.1 209.9 53.2 209.9 55.3 209.9 57.4 209.9 59.5 209.9 61.5 209.9 63.6 209.9 65.7 209.9 67.8 209.9 69.9 209.9 72.0 209.9 74.1 209.9 76.1 209.9 78.2 209.9 80.3 209.9 82.4 209.9 84.5 209.9 86.6 209.9 88.7 209.9 90.8 209.9 92.8 209.9 94.9 209.9 97.0 209.9 99.1 209.9 101.2 209.9 103.3 209.9 105.4 209.9 107.4 209.9 109.5 209.9 111.6 209.9 113.7 209.9 115.8 209.9 117.9 209.9 120.0 209.9 122.0 209.9 124.1 209.9 126.2 209.9 128.3 209.9 130.4 209.9 132.5 209.9 134.6 209.9 136.6 209.9 138.7 209.8 140.8 208.2 142.9 206.4 145.0 205.7 147.1 204.6 149.2 203.8 151.2 202.7 153.3 202.0 155.4 202.0 157.5 201.0 159.6 199.7 161.7 199.2 163.8 198.4 165.8 197.3 167.9 195.7 170.0 194.9 172.1 194.5 174.2 194.0 176.3 194.5 178.4 194.7 180.4 194.1 182.5 194.4 184.6 194.4 186.7 194.3 188.8 193.7 190.9 193.8 193.0 195.0 195.0 194.3 197.1 193.1 199.2 192.6 201.3 193.1 203.4 193.1 205.5 192.2 207.6 192.4 209.7 192.4 211.7 192.4 213.8 192.9 215.9 192.6 218.0 193.0 220.1 192.9 222.2 193.9 224.3 194.2 226.3 194.8 228.4 194.6 230.5 194.8 232.6 193.9 234.7 194.6 236.8 196.1 238.9 197.0 240.9 198.3 243.0 199.5 245.1 200.9 247.2 200.9"/>
<path d="M38.6 209.9 40.7 209.9 42.8 209.9 44.9 209.9 46.9 209.9 49.0 209.9 51.1 209.9 53.2 209.9 55.3 209.9 57.4 209.9 59.5 209.9 61.5 209.9 63.6 209.9 65.7 209.9 67.8 209.9 69.9 209.9 72.0 209.9 74.1 209.9 76.1 209.9 78.2 209.9 80.3 209.9 82.4 209.9 84.5 209.9 86.6 209.9 88.7 209.9 90.8 209.9 92.8 209.9 94.9 209.9 97.0 209.9 99.1 209.9 101.2 209.9 103.3 209.9 105.4 209.9 107.4 209.9 109.5 209.9 111.6 209.9 113.7 209.9 115.8 209.9 117.9 209.9 120.0 209.9 122.0 209.9 124.1 209.9 126.2 209.9 128.3 209.9 130.4 209.9 132.5 209.9 134.6 209.9 136.6 209.9 138.7 209.9 140.8 209.5 142.9 206.7 145.0 204.7 147.1 203.9 149.2 203.0 151.2 201.1 153.3 199.8 155.4 199.2 157.5 198.9 159.6 198.4 161.7 197.9 163.8 197.3 165.8 196.0 167.9 196.1 170.0 196.1 172.1 195.4 174.2 194.9 176.3 193.7 178.4 193.2 180.4 194.1 182.5 194.4 184.6 193.6 186.7 194.2 188.8 194.4 190.9 193.7 193.0 193.8 195.0 194.2 197.1 193.9 199.2 193.5 201.3 193.3 203.4 192.4 205.5 191.5 207.6 191.2 209.7 190.9 211.7 190.8 213.8 190.9 215.9 191.3 218.0 192.1 220.1 192.1 222.2 192.8 224.3 193.7 226.3 194.4 228.4 195.4 230.5 195.5 232.6 195.6 234.7 196.0 236.8 196.8 238.9 197.6 240.9 197.6 243.0 197.9 245.1 198.7 247.2 200.1"/>
<path d="M38.6 209.9 40.7 209.9 42.8 209.9 44.9 209.9 46.9 209.9 49.0 209.9 51.1 209.9 53.2 209.9 55.3 209.9 57.4 209.9 59.5 209.9 61.5 209.9 63.6 209.9 65.7 209.9 67.8 209.9 69.9 209.9 72.0 209.9 74.1 209.9 76.1 209.9 78.2 209.9 80.3 209.9 82.4 209.9 84.5 209.9 86.6 209.9 88.7 209.9 90.8 209.9 92.8 209.9 94.9 209.9 97.0 209.9 99.1 209.9 101.2 209.9 103.3 209.9 105.4 209.9 107.4 209.9 109.5 209.9 111.6 209.9 113.7 209.9 115.8 209.9 117.9 209.9 120.0 209.9 122.0 209.9 124.1 209.9 126.2 209.9 128.3 209.9 130.4 209.9 132.5 209.9 134.6 209.9 136.6 209.9 138.7 209.9 140.8 209.9 142.9 208.9 145.0 206.0 147.1 204.6 149.2 204.5 151.2 203.8 153.3 203.0 155.4 202.1 157.5 201.3 159.6 200.5 161.7 200.1 163.8 199.3 165.8 198.2 167.9 197.9 170.0 198.0 172.1 197.3 174.2 195.8 176.3 194.4 178.4 194.3 180.4 193.9 182.5 194.3 184.6 193.1 186.7 191.6 188.8 190.5 190.9 190.3 193.0 190.3 195.0 189.4 197.1 189.6 199.2 189.5 201.3 189.6 203.4 189.0 205.5 189.2 207.6 189.5 209.7 189.6 211.7 189.9 213.8 189.5 215.9 190.3 218.0 190.6 220.1 190.6 222.2 191.8 224.3 193.1 226.3 193.7 228.4 193.8 230.5 194.6 232.6 195.1 234.7 195.4 236.8 196.2 238.9 196.8 240.9 197.5 243.0 198.3 245.1 199.9 247.2 200.9"/>
<path d="M38.6 209.9 40.7 209.9 42.8 209.9 44.9 209.9 46.9 209.9 49.0 209.9 51.1 209.9 53.2 209.9 55.3 209.9 57.4 209.9 59.5 209.9 61.5 209.9 63.6 209.9 65.7 209.9 67.8 209.9 69.9 209.9 72.0 209.9 74.1 209.9 76.1 209.9 78.2 209.9 80.3 209.9 82.4 209.9 84.5 209.9 86.6 209.9 88.7 209.9 90.8 209.9 92.8 209.9 94.9 209.9 97.0 209.9 99.1 209.9 101.2 209.9 103.3 209.9 105.4 209.9 107.4 209.9 109.5 209.9 111.6 209.9 113.7 209.9 115.8 209.9 117.9 209.9 120.0 209.9 122.0 209.9 124.1 209.9 126.2 209.9 128.3 209.9 130.4 209.9 132.5 209.9 134.6 209.9 136.6 209.9 138.7 209.9 140.8 209.9 142.9 208.3 145.0 206.5 147.1 205.4 149.2 204.1 151.2 202.7 153.3 201.1 155.4 201.0 157.5 200.4 159.6 199.2 161.7 199.0 163.8 198.1 165.8 197.5 167.9 196.8 170.0 196.3 172.1 196.7 174.2 196.6 176.3 195.7 178.4 194.6 180.4 194.3 182.5 194.6 184.6 194.4 186.7 193.6 188.8 193.0 190.9 192.4 193.0 192.3 195.0 192.8 197.1 191.6 199.2 190.7 201.3 191.1 203.4 191.4 205.5 191.0 207.6 191.5 209.7 190.3 211.7 189.8 213.8 190.5 215.9 191.2 218.0 191.7 220.1 192.8 222.2 192.9 224.3 193.4 226.3 193.4 228.4 194.8 230.5 194.5 232.6 194.5 234.7 195.0 236.8 196.0 238.9 197.5 240.9 198.8 243.0 199.1 245.1 199.9 247.2 200.3"/>
<path d="M38.6 209.9 40.7 209.9 42.8 209.9 44.9 209.9 46.9 209.9 49.0 209.9 51.1 209.9 53.2 209.9 55.3 209.9 57.4 209.9 59.5 209.9 61.5 209.9 63.6 209.9 65.7 209.9 67.8 209.9 69.9 209.9 72.0 209.9 74.1 209.9 76.1 209.9 78.2 209.9 80.3 209.9 82.4 209.9 84.5 209.9 86.6 209.9 88.7 209.9 90.8 209.9 92.8 209.9 94.9 209.9 97.0 209.9 99.1 209.9 101.2 209.9 103.3 209.9 105.4 209.9 107.4 209.9 109.5 209.9 111.6 209.9 113.7 209.9 115.8 209.9 117.9 209.9 120.0 209.9 122.0 209.9 124.1 209.9 126.2 209.9 128.3 209.9 130.4 209.9 132.5 209.9 134.6 209.9 136.6 209.9 138.7 209.9 140.8 209.9 142.9 209.9 145.0 209.9 147.1 209.5 149.2 207.0 151.2 205.5 153.3 203.5 155.4 202.2 157.5 201.4 159.6 200.1 161.7 199.5 163.8 198.4 165.8 197.6 167.9 196.7 170.0 195.9 172.1 194.4 174.2 194.1 176.3 193.1 178.4 192.3 180.4 192.3 182.5 192.2 184.6 191.7 186.7 191.8 188.8 191.8 190.9 191.8 193.0 191.3 195.0 190.9 197.1 190.4 199.2 190.4 201.3 191.0 203.4 191.1 205.5 190.9 207.6 190.7 209.7 190.7 211.7 190.5 213.8 189.6 215.9 189.7 218.0 190.4 220.1 191.1 222.2 191.5 224.3 192.0 226.3 193.1 228.4 194.1 230.5 194.8 232.6 194.6 234.7 194.5 236.8 194.7 238.9 196.1 240.9 197.1 243.0 198.0 245.1 199.4 247.2 200.8"/>
<path d="M38.6 209.9 40.7 209.9 42.8 209.9 44.9 209.9 46.9 209.9 49.0 209.9 51.1 209.9 53.2 209.9 55.3 209.9 57.4 209.9 59.5 209.9 61.5 209.9 63.6 209.9 65.7 209.9 67.8 209.9 69.9 209.9 72.0 209.9 74.1 209.9 76.1 209.9 78.2 209.9 80.3 209.9 82.4 209.9 84.5 209.9 86.6 209.9 88.7 209.9 90.8 209.9 92.8 209.9 94.9 209.9 97.0 209.9 99.1 209.9 101.2 209.9 103.3 209.9 105.4 209.9 107.4 209.9 109.5 209.9 111.6 209.9 113.7 209.9 115.8 209.9 117.9 209.9 120.0 209.9 122.0 209.9 124.1 209.9 126.2 209.9 128.3 209.9 130.4 209.9 132.5 209.9 134.6 208.9 136.6 207.5 138.7 206.2 140.8 205.5 142.9 204.5 145.0 203.7 147.1 202.9 149.2 202.3 151.2 201.2 153.3 200.4 155.4 199.6 157.5 199.1 159.6 198.0 161.7 197.3 163.8 197.6 165.8 197.1 167.9 196.5 170.0 195.6 172.1 194.5 174.2 194.0 176.3 194.0 178.4 194.1 180.4 192.9 182.5 192.8 184.6 192.1 186.7 191.2 188.8 190.9 190.9 190.6 193.0 190.7 195.0 191.3 197.1 191.1 199.2 191.1 201.3 190.9 203.4 190.8 205.5 190.9 207.6 190.8 209.7 190.7 211.7 190.2 213.8 190.2 215.9 190.0 218.0 190.1 220.1 191.5 222.2 192.8 224.3 193.2 226.3 193.2 228.4 193.6 230.5 193.6 232.6 194.4 234.7 195.3 236.8 195.7 238.9 196.1 240.9 197.8 243.0 197.9 245.1 197.7 247.2 197.9"/>
<path d="M38.6 209.9 40.7 209.9 42.8 209.9 44.9 209.9 46.9 209.9 49.0 209.9 51.1 209.9 53.2 209.9 55.3 209.9 57.4 209.9 59.5 209.9 61.5 209.9 63.6 209.9 65.7 209.9 67.8 209.9 69.9 209.9 72.0 209.9 74.1 209.9 76.1 209.9 78.2 209.9 80.3 209.9 82.4 209.9 84.5 209.9 86.6 209.9 88.7 209.9 90.8 209.9 92.8 209.9 94.9 209.9 97.0 209.9 99.1 209.9 101.2 209.9 103.3 209.9 105.4 209.9 107.4 209.9 109.5 209.9 111.6 209.9 113.7 209.9 115.8 209.9 117.9 209.9 120.0 209.9 122.0 209.9 124.1 209.9 126.2 209.9 128.3 209.9 130.4 209.9 132.5 209.9 134.6 209.9 136.6 209.9 138.7 208.9 140.8 207.2 142.9 205.4 145.0 205.4 147.1 204.6 149.2 203.6 151.2 202.5 153.3 201.5 155.4 201.7 157.5 200.8 159.6 200.0 161.7 199.0 163.8 198.2 165.8 197.2 167.9 196.2 170.0 195.5 172.1 195.3 174.2 194.8 176.3 194.0 178.4 193.3 180.4 193.3 182.5 192.3 184.6 191.2 186.7 192.2 188.8 192.7 190.9 191.5 193.0 190.9 195.0 191.9 197.1 191.3 199.2 191.0 201.3 191.7 203.4 192.1 205.5 192.3 207.6 192.2 209.7 191.8 211.7 191.7 213.8 191.4 215.9 191.9 218.0 192.1 220.1 193.0 222.2 193.2 224.3 193.2 226.3 193.7 228.4 194.0 230.5 194.5 232.6 195.2 234.7 196.8 236.8 197.4 238.9 197.4 240.9 197.5 243.0 198.1 245.1 198.3 247.2 199.5"/>
<path d="M38.6 209.9 40.7 209.9 42.8 209.9 44.9 209.9 46.9 209.9 49.0 209.9 51.1 209.9 53.2 209.9 55.3 209.9 57.4 209.9 59.5 209.9 61.5 209.9 63.6 209.9 65.7 209.9 67.8 209.9 69.9 209.9 72.0 209.9 74.1 209.9 76.1 209.9 78.2 209.9 80.3 209.9 82.4 209.9 84.5 209.9 86.6 209.9 88.7 209.9 90.8 209.9 92.8 209.9 94.9 209.9 97.0 209.9 99.1 209.9 101.2 209.9 103.3 209.9 105.4 209.9 107.4 209.9 109.5 209.9 111.6 209.9 113.7 209.9 115.8 209.9 117.9 209.9 120.0 209.9 122.0 209.9 124.1 209.9 126.2 209.9 128.3 209.9 130.4 209.9 132.5 208.9 134.6 207.7 136.6 205.2 138.7 204.4 140.8 203.9 142.9 203.8 145.0 203.8 147.1 202.8 149.2 202.0 151.2 200.4 153.3 200.1 155.4 200.0 157.5 199.8 159.6 198.4 161.7 197.5 163.8 197.5 165.8 197.2 167.9 196.9 170.0 196.2 172.1 195.6 174.2 194.9 176.3 194.2 178.4 193.1 180.4 192.3 182.5 192.6 184.6 192.5 186.7 191.1 188.8 190.2 190.9 190.3 193.0 190.4 195.0 190.6 197.1 189.9 199.2 190.1 201.3 190.9 203.4 190.9 205.5 190.8 207.6 190.0 209.7 189.2 211.7 188.4 213.8 188.1 215.9 188.3 218.0 188.6 220.1 189.3 222.2 189.8 224.3 190.4 226.3 190.6 228.4 191.5 230.5 192.5 232.6 192.6 234.7 192.8 236.8 193.5 238.9 194.6 240.9 195.3 243.0 195.7 245.1 196.3 247.2 196.9"/>
<path d="M38.6 209.9 40.7 209.9 42.8 209.9 44.9 209.9 46.9 209.9 49.0 209.9 51.1 209.9 53.2 209.9 55.3 209.9 57.4 209.9 59.5 209.9 61.5 209.9 63.6 209.9 65.7 209.9 67.8 209.9 69.9 209.9 72.0 209.9 74.1 209.9 76.1 209.9 78.2 209.9 80.3 209.9 82.4 209.9 84.5 209.9 86.6 209.9 88.7 209.9 90.8 209.9 92.8 209.9 94.9 209.9 97.0 209.9 99.1 209.9 101.2 209.9 103.3 209.9 105.4 209.9 107.4 209.9 109.5 209.9 111.6 209.9 113.7 209.9 115.8 209.9 117.9 209.9 120.0 209.9 122.0 209.9 124.1 209.9 126.2 209.9 128.3 209.9 130.4 209.9 132.5 209.9 134.6 209.9 136.6 209.5 138.7 207.8 140.8 207.0 142.9 205.9 145.0 204.3 147.1 203.8 149.2 203.4 151.2 202.1 153.3 199.8 155.4 198.4 157.5 197.7 159.6 196.6 161.7 196.1 163.8 195.8 165.8 195.2 167.9 194.3 170.0 194.1 172.1 193.7 174.2 192.8 176.3 192.5 178.4 192.9 180.4 191.8 182.5 191.1 184.6 191.0 186.7 191.3 188.8 190.2 190.9 189.5 193.0 188.4 195.0 187.7 197.1 187.9 199.2 187.7 201.3 187.9 203.4 187.5 205.5 187.6 207.6 188.1 209.7 188.4 211.7 188.9 213.8 188.9 215.9 189.7 218.0 189.2 220.1 189.8 222.2 191.2 224.3 191.5 226.3 191.4 228.4 191.2 230.5 192.1 232.6 192.8 234.7 193.8 236.8 195.2 238.9 195.5 240.9 195.9 243.0 197.3 245.1 199.3 247.2 200.1"/>
<path d="M38.6 209.9 40.7 209.9 42.8 209.9 44.9 209.9 46.9 209.9 49.0 209.9 51.1 209.9 53.2 209.9 55.3 209.9 57.4 209.9 59.5 209.9 61.5 209.9 63.6 209.9 65.7 209.9 67.8 209.9 69.9 209.9 72.0 209.9 74.1 209.9 76.1 209.9 78.2 209.9 80.3 209.9 82.4 209.9 84.5 209.9 86.6 209.9 88.7 209.9 90.8 209.9 92.8 209.9 94.9 209.9 97.0 209.9 99.1 209.9 101.2 209.9 103.3 209.9 105.4 209.9 107.4 209.9 109.5 209.9 111.6 209.9 113.7 209.9 115.8 209.9 117.9 209.9 120.0 209.9 122.0 209.9 124.1 209.9 126.2 209.9 128.3 209.9 130.4 209.0 132.5 207.1 134.6 205.3 136.6 204.2 138.7 203.6 140.8 203.1 142.9 202.8 145.0 202.0 147.1 201.6 149.2 201.1 151.2 200.7 153.3 200.4 155.4 200.0 157.5 198.8 159.6 197.7 161.7 196.9 163.8 196.2 165.8 195.5 167.9 194.9 170.0 194.6 172.1 193.7 174.2 192.7 176.3 192.3 178.4 192.1 180.4 190.7 182.5 190.4 184.6 190.8 186.7 190.1 188.8 189.4 190.9 189.4 193.0 189.0 195.0 189.0 197.1 188.8 199.2 189.0 201.3 189.4 203.4 189.4 205.5 189.0 207.6 189.1 209.7 188.7 211.7 188.5 213.8 187.6 215.9 187.4 218.0 188.1 220.1 188.1 222.2 189.3 224.3 190.6 226.3 191.8 228.4 192.8 230.5 193.4 232.6 193.6 234.7 194.4 236.8 195.4 238.9 195.8 240.9 195.5 243.0 195.3 245.1 195.7 247.2 197.7"/>
<path d="M38.6 209.9 40.7 209.9 42.8 209.9 44.9 209.9 46.9 209.9 49.0 209.9 51.1 209.9 53.2 209.9 55.3 209.9 57.4 209.9 59.5 209.9 61.5 209.9 63.6 209.9 65.7 209.9 67.8 209.9 69.9 209.9 72.0 209.9 74.1 209.9 76.1 209.9 78.2 209.9 80.3 209.9 82.4 209.9 84.5 209.9 86.6 209.9 88.7 209.9 90.8 209.9 92.8 209.9 94.9 209.9 97.0 209.9 99.1 209.9 101.2 209.9 103.3 209.9 105.4 209.9 107.4 209.9 109.5 209.9 111.6 209.9 113.7 209.9 115.8 209.9 117.9 209.9 120.0 209.9 122.0 209.9 124.1 209.9 126.2 209.9 128.3 209.9 130.4 209.9 132.5 209.9 134.6 209.9 136.6 208.8 138.7 206.2 140.8 203.6 142.9 201.9 145.0 200.6 147.1 200.3 149.2 199.6 151.2 199.1 153.3 198.2 155.4 197.1 157.5 197.0 159.6 196.6 161.7 196.0 163.8 195.8 165.8 194.7 167.9 193.8 170.0 192.9 172.1 192.8 174.2 192.4 176.3 191.3 178.4 190.0 180.4 189.2 182.5 190.0 184.6 189.2 186.7 189.0 188.8 190.1 190.9 190.5 193.0 189.9 195.0 189.1 197.1 189.1 199.2 188.9 201.3 188.7 203.4 188.5 205.5 188.6 207.6 188.7 209.7 188.8 211.7 188.0 213.8 187.6 215.9 188.8 218.0 189.5 220.1 190.0 222.2 191.0 224.3 191.5 226.3 192.3 228.4 192.9 230.5 192.3 232.6 192.2 234.7 193.2 236.8 194.2 238.9 195.5 240.9 195.8 243.0 196.4 245.1 197.5 247.2 197.6"/>
<path d="M38.6 209.9 40.7 209.9 42.8 209.9 44.9 209.9 46.9 209.9 49.0 209.9 51.1 209.9 53.2 209.9 55.3 209.9 57.4 209.9 59.5 209.9 61.5 209.9 63.6 209.9 65.7 209.9 67.8 209.9 69.9 209.9 72.0 209.9 74.1 209.9 76.1 209.9 78.2 209.9 80.3 209.9 82.4 209.9 84.5 209.9 86.6 209.9 88.7 209.9 90.8 209.9 92.8 209.9 94.9 209.9 97.0 209.9 99.1 209.9 101.2 209.9 103.3 209.9 105.4 209.9 107.4 209.9 109.5 209.9 111.6 209.9 113.7 209.9 115.8 209.9 117.9 209.9 120.0 209.9 122.0 209.9 124.1 209.9 126.2 209.9 128.3 209.9 130.4 209.9 132.5 208.8 134.6 207.8 136.6 206.0 138.7 204.8 140.8 204.3 142.9 203.6 145.0 202.0 147.1 201.0 149.2 199.9 151.2 198.1 153.3 196.8 155.4 196.0 157.5 195.1 159.6 194.4 161.7 194.2 163.8 193.6 165.8 192.9 167.9 191.6 170.0 190.5 172.1 189.8 174.2 189.8 176.3 189.4 178.4 188.5 180.4 187.7 182.5 188.1 184.6 187.9 186.7 187.6 188.8 188.5 190.9 189.0 193.0 188.3 195.0 187.6 197.1 187.7 199.2 187.0 201.3 186.1 203.4 186.5 205.5 186.7 207.6 186.8 209.7 187.0 211.7 186.5 213.8 186.0 215.9 186.8 218.0 187.7 220.1 188.9 222.2 189.6 224.3 190.1 226.3 191.0 228.4 191.3 230.5 191.5 232.6 191.3 234.7 191.8 236.8 192.8 238.9 194.0 240.9 195.5 243.0 196.7 245.1 197.8 247.2 199.3"/>
<path d="M38.6 209.9 40.7 209.9 42.8 209.9 44.9 209.9 46.9 209.9 49.0 209.9 51.1 209.9 53.2 209.9 55.3 209.9 57.4 209.9 59.5 209.9 61.5 209.9 63.6 209.9 65.7 209.9 67.8 209.9 69.9 209.9 72.0 209.9 74.1 209.9 76.1 209.9 78.2 209.9 80.3 209.9 82.4 209.9 84.5 209.9 86.6 209.9 88.7 209.9 90.8 209.9 92.8 209.9 94.9 209.9 97.0 209.9 99.1 209.9 101.2 209.9 103.3 209.9 105.4 209.9 107.4 209.9 109.5 209.9 111.6 209.9 113.7 209.9 115.8 209.9 117.9 209.9 120.0 209.9 122.0 209.9 124.1 209.9 126.2 209.9 128.3 209.9 130.4 209.9 132.5 209.9 134.6 209.9 136.6 208.8 138.7 207.0 140.8 204.6 142.9 203.6 145.0 202.4 147.1 201.3 149.2 200.6 151.2 200.5 153.3 199.9 155.4 198.7 157.5 198.1 159.6 197.6 161.7 196.5 163.8 195.8 165.8 194.5 167.9 193.7 170.0 193.0 172.1 192.6 174.2 192.2 176.3 191.4 178.4 190.3 180.4 189.0 182.5 188.5 184.6 188.9 186.7 188.0 188.8 187.4 190.9 188.0 193.0 187.3 195.0 186.6 197.1 186.6 199.2 186.3 201.3 186.1 203.4 186.1 205.5 186.6 207.6 186.3 209.7 186.6 211.7 186.7 213.8 185.9 215.9 185.7 218.0 186.3 220.1 187.5 222.2 188.7 224.3 188.8 226.3 189.3 228.4 189.9 230.5 190.4 232.6 190.7 234.7 191.1 236.8 192.0 238.9 192.6 240.9 192.9 243.0 193.6 245.1 194.3 247.2 195.0"/>
<path d="M38.6 209.9 40.7 209.9 42.8 209.9 44.9 209.9 46.9 209.9 49.0 209.9 51.1 209.9 53.2 209.9 55.3 209.9 57.4 209.9 59.5 209.9 61.5 209.9 63.6 209.9 65.7 209.9 67.8 209.9 69.9 209.9 72.0 209.9 74.1 209.9 76.1 209.9 78.2 209.9 80.3 209.9 82.4 209.9 84.5 209.9 86.6 209.9 88.7 209.9 90.8 209.9 92.8 209.9 94.9 209.9 97.0 209.9 99.1 209.9 101.2 209.9 103.3 209.9 105.4 209.9 107.4 209.9 109.5 209.9 111.6 209.9 113.7 209.9 115.8 209.9 117.9 209.9 120.0 209.9 122.0 209.9 124.1 209.9 126.2 209.9 128.3 209.8 130.4 207.9 132.5 205.2 134.6 204.4 136.6 203.6 138.7 201.5 140.8 200.1 142.9 199.9 145.0 198.8 147.1 197.3 149.2 196.5 151.2 195.9 153.3 195.7 155.4 196.1 157.5 194.8 159.6 193.6 161.7 194.3 163.8 194.1 165.8 192.6 167.9 191.0 170.0 190.5 172.1 189.8 174.2 187.6 176.3 185.8 178.4 185.5 180.4 185.6 182.5 185.6 184.6 185.3 186.7 186.0 188.8 186.1 190.9 186.2 193.0 186.6 195.0 187.2 197.1 187.2 199.2 187.4 201.3 187.1 203.4 185.7 205.5 185.4 207.6 185.6 209.7 185.7 211.7 185.6 213.8 185.4 215.9 185.9 218.0 186.1 220.1 187.2 222.2 188.2 224.3 189.7 226.3 190.4 228.4 191.3 230.5 191.6 232.6 191.8 234.7 192.8 236.8 192.6 238.9 192.6 240.9 193.9 243.0 195.0 245.1 195.6 247.2 196.1"/>
<path d="M38.6 209.9 40.7 209.9 42.8 209.9 44.9 209.9 46.9 209.9 49.0 209.9 51.1 209.9 53.2 209.9 55.3 209.9 57.4 209.9 59.5 209.9 61.5 209.9 63.6 209.9 65.7 209.9 67.8 209.9 69.9 209.9 72.0 209.9 74.1 209.9 76.1 209.9 78.2 209.9 80.3 209.9 82.4 209.9 84.5 209.9 86.6 209.9 88.7 209.9 90.8 209.9 92.8 209.9 94.9 209.9 97.0 209.9 99.1 209.9 101.2 209.9 103.3 209.9 105.4 209.9 107.4 209.9 109.5 209.9 111.6 209.9 113.7 209.9 115.8 209.9 117.9 209.9 120.0 209.9 122.0 209.9 124.1 209.9 126.2 209.9 128.3 209.9 130.4 209.9 132.5 209.3 134.6 207.4 136.6 205.5 138.7 205.1 140.8 204.4 142.9 202.0 145.0 200.8 147.1 199.4 149.2 198.6 151.2 197.8 153.3 196.8 155.4 195.8 157.5 195.4 159.6 195.3 161.7 194.1 163.8 192.2 165.8 191.5 167.9 191.8 170.0 191.3 172.1 189.9 174.2 188.3 176.3 188.2 178.4 187.7 180.4 187.3 182.5 187.3 184.6 187.2 186.7 186.3 188.8 185.3 190.9 185.5 193.0 185.8 195.0 185.8 197.1 186.3 199.2 186.5 201.3 185.8 203.4 186.2 205.5 186.4 207.6 187.2 209.7 186.7 211.7 186.5 213.8 186.3 215.9 186.9 218.0 187.1 220.1 187.0 222.2 187.9 224.3 188.7 226.3 189.2 228.4 189.9 230.5 190.9 232.6 191.8 234.7 191.9 236.8 192.1 238.9 193.4 240.9 194.5 243.0 195.3 245.1 196.5 247.2 197.3"/>
<path d="M38.6 209.9 40.7 209.9 42.8 209.9 44.9 209.9 46.9 209.9 49.0 209.9 51.1 209.9 53.2 209.9 55.3 209.9 57.4 209.9 59.5 209.9 61.5 209.9 63.6 209.9 65.7 209.9 67.8 209.9 69.9 209.9 72.0 209.9 74.1 209.9 76.1 209.9 78.2 209.9 80.3 209.9 82.4 209.9 84.5 209.9 86.6 209.9 88.7 209.9 90.8 209.9 92.8 209.9 94.9 209.9 97.0 209.9 99.1 209.9 101.2 209.9 103.3 209.9 105.4 209.9 107.4 209.9 109.5 209.9 111.6 209.9 113.7 209.9 115.8 209.9 117.9 209.9 120.0 209.9 122.0 209.9 124.1 209.9 126.2 209.9 128.3 209.2 130.4 207.3 132.5 205.8 134.6 204.7 136.6 203.7 138.7 202.3 140.8 201.2 142.9 200.7 145.0 199.6 147.1 198.8 149.2 197.7 151.2 196.8 153.3 195.7 155.4 195.8 157.5 195.2 159.6 194.0 161.7 193.7 163.8 193.6 165.8 193.2 167.9 192.1 170.0 191.6 172.1 190.1 174.2 188.9 176.3 188.7 178.4 188.9 180.4 188.5 182.5 188.7 184.6 188.4 186.7 188.0 188.8 187.6 190.9 186.9 193.0 186.3 195.0 186.4 197.1 186.5 199.2 185.3 201.3 185.9 203.4 186.0 205.5 186.0 207.6 185.9 209.7 186.1 211.7 186.9 213.8 186.5 215.9 186.7 218.0 187.5 220.1 187.8 222.2 188.2 224.3 188.6 226.3 188.8 228.4 189.6 230.5 190.0 232.6 190.4 234.7 191.5 236.8 192.3 238.9 193.9 240.9 194.4 243.0 195.4 245.1 196.1 247.2 196.7"/>
<path d="M38.6 209.9 40.7 209.9 42.8 209.9 44.9 209.9 46.9 209.9 49.0 209.9 51.1 209.9 53.2 209.9 55.3 209.9 57.4 209.9 59.5 209.9 61.5 209.9 63.6 209.9 65.7 209.9 67.8 209.9 69.9 209.9 72.0 209.9 74.1 209.9 76.1 209.9 78.2 209.9 80.3 209.9 82.4 209.9 84.5 209.9 86.6 209.9 88.7 209.9 90.8 209.9 92.8 209.9 94.9 209.9 97.0 209.9 99.1 209.9 101.2 209.9 103.3 209.9 105.4 209.9 107.4 209.9 109.5 209.9 111.6 209.9 113.7 209.9 115.8 209.9 117.9 209.9 120.0 209.9 122.0 209.9 124.1 209.9 126.2 209.8 128.3 208.8 130.4 207.9 132.5 205.7 134.6 203.6 136.6 202.9 138.7 201.8 140.8 200.2 142.9 199.7 145.0 199.3 147.1 197.1 149.2 195.7 151.2 195.5 153.3 194.9 155.4 194.5 157.5 193.6 159.6 192.9 161.7 190.9 163.8 190.1 165.8 189.1 167.9 188.6 170.0 187.7 172.1 185.8 174.2 185.1 176.3 184.9 178.4 184.6 180.4 184.5 182.5 184.6 184.6 184.2 186.7 184.3 188.8 183.8 190.9 184.5 193.0 184.8 195.0 184.6 197.1 183.6 199.2 183.2 201.3 183.3 203.4 183.2 205.5 183.6 207.6 184.3 209.7 184.4 211.7 184.2 213.8 184.0 215.9 184.0 218.0 184.9 220.1 185.2 222.2 185.8 224.3 186.4 226.3 186.3 228.4 186.6 230.5 186.5 232.6 187.6 234.7 188.6 236.8 189.0 238.9 190.4 240.9 191.9 243.0 193.6 245.1 195.1 247.2 196.5"/>
<path d="M38.6 209.9 40.7 209.9 42.8 209.9 44.9 209.9 46.9 209.9 49.0 209.9 51.1 209.9 53.2 209.9 55.3 209.9 57.4 209.9 59.5 209.9 61.5 209.9 63.6 209.9 65.7 209.9 67.8 209.9 69.9 209.9 72.0 209.9 74.1 209.9 76.1 209.9 78.2 209.9 80.3 209.9 82.4 209.9 84.5 209.9 86.6 209.9 88.7 209.9 90.8 209.9 92.8 209.9 94.9 209.9 97.0 209.9 99.1 209.9 101.2 209.9 103.3 209.9 105.4 209.9 107.4 209.9 109.5 209.9 111.6 209.9 113.7 209.9 115.8 209.9 117.9 209.9 120.0 209.9 122.0 209.9 124.1 209.9 126.2 209.9 128.3 209.9 130.4 208.6 132.5 206.6 134.6 205.2 136.6 204.6 138.7 203.6 140.8 201.9 142.9 200.9 145.0 199.5 147.1 198.5 149.2 198.1 151.2 196.6 153.3 195.9 155.4 194.7 157.5 193.7 159.6 192.7 161.7 192.2 163.8 190.6 165.8 189.4 167.9 190.0 170.0 189.5 172.1 189.0 174.2 188.5 176.3 187.8 178.4 187.4 180.4 187.1 182.5 187.6 184.6 187.2 186.7 186.6 188.8 187.9 190.9 188.0 193.0 187.0 195.0 186.7 197.1 186.7 199.2 186.1 201.3 185.4 203.4 184.6 205.5 184.2 207.6 184.0 209.7 184.4 211.7 184.5 213.8 184.0 215.9 184.1 218.0 185.0 220.1 186.0 222.2 186.3 224.3 186.8 226.3 187.4 228.4 188.1 230.5 189.4 232.6 190.5 234.7 191.3 236.8 192.2 238.9 193.0 240.9 194.2 243.0 195.3 245.1 196.3 247.2 196.7"/>
<path d="M38.6 209.9 40.7 209.9 42.8 209.9 44.9 209.9 46.9 209.9 49.0 209.9 51.1 209.9 53.2 209.9 55.3 209.9 57.4 209.9 59.5 209.9 61.5 209.9 63.6 209.9 65.7 209.9 67.8 209.9 69.9 209.9 72.0 209.9 74.1 209.9 76.1 209.9 78.2 209.9 80.3 209.9 82.4 209.9 84.5 209.9 86.6 209.9 88.7 209.9 90.8 209.9 92.8 209.9 94.9 209.9 97.0 209.9 99.1 209.9 101.2 209.9 103.3 209.9 105.4 209.9 107.4 209.9 109.5 209.9 111.6 209.9 113.7 209.9 115.8 209.9 117.9 209.9 120.0 209.9 122.0 209.9 124.1 209.9 126.2 209.0 128.3 207.2 130.4 205.7 132.5 203.8 134.6 202.7 136.6 202.1 138.7 201.9 140.8 201.0 142.9 199.9 145.0 198.6 147.1 196.8 149.2 195.8 151.2 195.2 153.3 193.1 155.4 192.8 157.5 192.3 159.6 191.9 161.7 191.6 163.8 191.9 165.8 192.1 167.9 191.9 170.0 190.6 172.1 190.0 174.2 189.0 176.3 188.6 178.4 188.0 180.4 187.1 182.5 186.2 184.6 185.3 186.7 185.2 188.8 185.8 190.9 185.8 193.0 184.6 195.0 184.8 197.1 185.7 199.2 186.4 201.3 187.1 203.4 186.6 205.5 185.7 207.6 185.6 209.7 186.7 211.7 187.0 213.8 186.1 215.9 186.5 218.0 187.0 220.1 187.1 222.2 187.4 224.3 187.8 226.3 187.4 228.4 188.1 230.5 189.1 232.6 189.8 234.7 190.6 236.8 190.6 238.9 191.4 240.9 192.6 243.0 193.4 245.1 194.8 247.2 195.8"/>
<path d="M38.6 209.9 40.7 209.9 42.8 209.9 44.9 209.9 46.9 209.9 49.0 209.9 51.1 209.9 53.2 209.9 55.3 209.9 57.4 209.9 59.5 209.9 61.5 209.9 63.6 209.9 65.7 209.9 67.8 209.9 69.9 209.9 72.0 209.9 74.1 209.9 76.1 209.9 78.2 209.9 80.3 209.9 82.4 209.9 84.5 209.9 86.6 209.9 88.7 209.9 90.8 209.9 92.8 209.9 94.9 209.9 97.0 209.9 99.1 209.9 101.2 209.9 103.3 209.9 105.4 209.9 107.4 209.9 109.5 209.9 111.6 209.9 113.7 209.9 115.8 209.9 117.9 209.9 120.0 209.9 122.0 208.2 124.1 206.6 126.2 205.2 128.3 204.6 130.4 204.4 132.5 202.8 134.6 201.6 136.6 201.0 138.7 199.5 140.8 198.2 142.9 197.8 145.0 197.2 147.1 196.5 149.2 195.3 151.2 195.6 153.3 195.2 155.4 194.4 157.5 193.7 159.6 192.4 161.7 191.9 163.8 191.8 165.8 190.6 167.9 189.7 170.0 189.5 172.1 189.7 174.2 188.8 176.3 187.9 178.4 187.9 180.4 187.5 182.5 187.1 184.6 187.6 186.7 187.2 188.8 186.4 190.9 186.0 193.0 185.0 195.0 184.7 197.1 184.5 199.2 184.3 201.3 184.6 203.4 184.1 205.5 184.1 207.6 183.6 209.7 183.6 211.7 182.9 213.8 182.1 215.9 182.7 218.0 182.3 220.1 182.3 222.2 183.4 224.3 183.8 226.3 184.0 228.4 185.6 230.5 187.0 232.6 187.6 234.7 188.6 236.8 189.8 238.9 191.0 240.9 192.4 243.0 194.2 245.1 195.1 247.2 196.2"/>
<path d="M38.6 209.9 40.7 209.9 42.8 209.9 44.9 209.9 46.9 209.9 49.0 209.9 51.1 209.9 53.2 209.9 55.3 209.9 57.4 209.9 59.5 209.9 61.5 209.9 63.6 209.9 65.7 209.9 67.8 209.9 69.9 209.9 72.0 209.9 74.1 209.9 76.1 209.9 78.2 209.9 80.3 209.9 82.4 209.9 84.5 209.9 86.6 209.9 88.7 209.9 90.8 209.9 92.8 209.9 94.9 209.9 97.0 209.9 99.1 209.9 101.2 209.9 103.3 209.9 105.4 209.9 107.4 209.9 109.5 209.9 111.6 209.9 113.7 209.9 115.8 209.9 117.9 209.9 120.0 209.9 122.0 209.9 124.1 209.7 126.2 208.1 128.3 207.2 130.4 204.8 132.5 203.7 134.6 203.0 136.6 201.4 138.7 200.4 140.8 198.3 142.9 196.9 145.0 196.0 147.1 195.1 149.2 193.9 151.2 193.3 153.3 193.0 155.4 193.3 157.5 192.9 159.6 192.0 161.7 192.2 163.8 191.6 165.8 190.1 167.9 189.4 170.0 188.6 172.1 188.3 174.2 187.5 176.3 186.3 178.4 184.7 180.4 183.9 182.5 184.5 184.6 184.3 186.7 183.2 188.8 183.1 190.9 183.1 193.0 182.9 195.0 182.1 197.1 181.0 199.2 181.3 201.3 182.3 203.4 183.0 205.5 182.7 207.6 182.5 209.7 182.5 211.7 181.8 213.8 181.5 215.9 182.7 218.0 183.1 220.1 183.6 222.2 184.5 224.3 185.0 226.3 185.8 228.4 186.7 230.5 187.8 232.6 188.5 234.7 188.6 236.8 189.2 238.9 190.2 240.9 191.4 243.0 192.3 245.1 192.8 247.2 194.6"/>
<path d="M38.6 209.9 40.7 209.9 42.8 209.9 44.9 209.9 46.9 209.9 49.0 209.9 51.1 209.9 53.2 209.9 55.3 209.9 57.4 209.9 59.5 209.9 61.5 209.9 63.6 209.9 65.7 209.9 67.8 209.9 69.9 209.9 72.0 209.9 74.1 209.9 76.1 209.9 78.2 209.9 80.3 209.9 82.4 209.9 84.5 209.9 86.6 209.9 88.7 209.9 90.8 209.9 92.8 209.9 94.9 209.9 97.0 209.9 99.1 209.9 101.2 209.9 103.3 209.9 105.4 209.9 107.4 209.9 109.5 209.9 111.6 209.9 113.7 209.9 115.8 209.9 117.9 209.9 120.0 209.9 122.0 209.9 124.1 209.9 126.2 209.9 128.3 209.9 130.4 207.4 132.5 204.5 134.6 203.0 136.6 201.4 138.7 200.4 140.8 199.5 142.9 198.7 145.0 197.8 147.1 197.3 149.2 197.1 151.2 196.7 153.3 196.7 155.4 196.2 157.5 195.3 159.6 194.3 161.7 193.6 163.8 193.9 165.8 193.0 167.9 191.1 170.0 189.9 172.1 188.8 174.2 188.3 176.3 187.3 178.4 185.9 180.4 185.1 182.5 185.3 184.6 185.4 186.7 184.5 188.8 183.4 190.9 182.5 193.0 183.2 195.0 183.5 197.1 183.5 199.2 183.3 201.3 182.9 203.4 182.9 205.5 182.7 207.6 182.6 209.7 182.7 211.7 182.7 213.8 182.8 215.9 183.4 218.0 183.4 220.1 184.1 222.2 184.8 224.3 184.7 226.3 185.7 228.4 186.6 230.5 186.5 232.6 186.7 234.7 187.6 236.8 189.0 238.9 190.3 240.9 191.8 243.0 192.6 245.1 193.5 247.2 194.6"/>
<path d="M38.6 209.9 40.7 209.9 42.8 209.9 44.9 209.9 46.9 209.9 49.0 209.9 51.1 209.9 53.2 209.9 55.3 209.9 57.4 209.9 59.5 209.9 61.5 209.9 63.6 209.9 65.7 209.9 67.8 209.9 69.9 209.9 72.0 209.9 74.1 209.9 76.1 209.9 78.2 209.9 80.3 209.9 82.4 209.9 84.5 209.9 86.6 209.9 88.7 209.9 90.8 209.9 92.8 209.9 94.9 209.9 97.0 209.9 99.1 209.9 101.2 209.9 103.3 209.9 105.4 209.9 107.4 209.9 109.5 209.9 111.6 209.9 113.7 209.9 115.8 209.9 117.9 209.9 120.0 209.3 122.0 207.7 124.1 205.8 126.2 204.4 128.3 204.0 130.4 202.8 132.5 201.2 134.6 200.0 136.6 199.0 138.7 198.3 140.8 198.2 142.9 198.1 145.0 197.1 147.1 195.8 149.2 194.7 151.2 194.5 153.3 193.3 155.4 193.0 157.5 192.6 159.6 191.3 161.7 190.2 163.8 189.5 165.8 189.8 167.9 189.7 170.0 188.8 172.1 188.1 174.2 187.5 176.3 186.1 178.4 185.1 180.4 184.3 182.5 182.7 184.6 182.8 186.7 183.3 188.8 183.4 190.9 184.3 193.0 184.7 195.0 184.7 197.1 184.8 199.2 185.2 201.3 185.1 203.4 184.5 205.5 183.9 207.6 183.4 209.7 182.7 211.7 182.3 213.8 181.8 215.9 182.7 218.0 182.8 220.1 183.1 222.2 184.1 224.3 184.4 226.3 184.6 228.4 185.3 230.5 186.5 232.6 187.6 234.7 188.4 236.8 188.4 238.9 189.4 240.9 190.9 243.0 191.9 245.1 192.4 247.2 193.8"/>
<path d="M38.6 209.9 40.7 209.9 42.8 209.9 44.9 209.9 46.9 209.9 49.0 209.9 51.1 209.9 53.2 209.9 55.3 209.9 57.4 209.9 59.5 209.9 61.5 209.9 63.6 209.9 65.7 209.9 67.8 209.9 69.9 209.9 72.0 209.9 74.1 209.9 76.1 209.9 78.2 209.9 80.3 209.9 82.4 209.9 84.5 209.9 86.6 209.9 88.7 209.9 90.8 209.9 92.8 209.9 94.9 209.9 97.0 209.9 99.1 209.9 101.2 209.9 103.3 209.9 105.4 209.9 107.4 209.9 109.5 209.9 111.6 209.9 113.7 209.9 115.8 209.9 117.9 209.9 120.0 209.9 122.0 209.3 124.1 207.0 126.2 204.6 128.3 202.8 130.4 201.9 132.5 201.9 134.6 200.4 136.6 199.4 138.7 199.0 140.8 198.9 142.9 197.8 145.0 196.7 147.1 195.4 149.2 193.9 151.2 193.3 153.3 192.1 155.4 191.0 157.5 190.6 159.6 190.0 161.7 189.0 163.8 188.5 165.8 187.6 167.9 186.7 170.0 186.0 172.1 184.5 174.2 184.8 176.3 185.0 178.4 184.5 180.4 183.2 182.5 182.8 184.6 182.8 186.7 182.7 188.8 182.2 190.9 182.3 193.0 182.9 195.0 182.4 197.1 182.2 199.2 181.9 201.3 182.1 203.4 181.3 205.5 181.4 207.6 181.5 209.7 181.6 211.7 181.4 213.8 180.8 215.9 181.6 218.0 183.0 220.1 183.3 222.2 183.0 224.3 183.5 226.3 184.5 228.4 185.6 230.5 186.1 232.6 186.3 234.7 187.2 236.8 187.6 238.9 189.1 240.9 191.2 243.0 192.8 245.1 193.1 247.2 194.2"/>
<path d="M38.6 209.9 40.7 209.9 42.8 209.9 44.9 209.9 46.9 209.9 49.0 209.9 51.1 209.9 53.2 209.9 55.3 209.9 57.4 209.9 59.5 209.9 61.5 209.9 63.6 209.9 65.7 209.9 67.8 209.9 69.9 209.9 72.0 209.9 74.1 209.9 76.1 209.9 78.2 209.9 80.3 209.9 82.4 209.9 84.5 209.9 86.6 209.9 88.7 209.9 90.8 209.9 92.8 209.9 94.9 209.9 97.0 209.9 99.1 209.9 101.2 209.9 103.3 209.9 105.4 209.9 107.4 209.9 109.5 209.9 111.6 209.9 113.7 209.9 115.8 209.9 117.9 209.9 120.0 209.9 122.0 209.9 124.1 209.7 126.2 207.9 128.3 205.8 130.4 203.8 132.5 202.9 134.6 202.2 136.6 200.9 138.7 198.4 140.8 197.3 142.9 196.3 145.0 195.3 147.1 194.5 149.2 194.1 151.2 193.2 153.3 192.3 155.4 192.3 157.5 191.8 159.6 190.1 161.7 189.1 163.8 188.7 165.8 188.4 167.9 187.6 170.0 187.5 172.1 186.2 174.2 185.4 176.3 185.4 178.4 185.5 180.4 184.6 182.5 183.8 184.6 184.1 186.7 184.5 188.8 184.2 190.9 183.4 193.0 182.5 195.0 181.7 197.1 181.2 199.2 180.8 201.3 180.3 203.4 179.7 205.5 179.6 207.6 179.0 209.7 178.8 211.7 179.2 213.8 179.5 215.9 179.8 218.0 180.3 220.1 181.2 222.2 183.2 224.3 183.6 226.3 184.5 228.4 185.8 230.5 186.7 232.6 187.4 234.7 188.4 236.8 188.8 238.9 189.3 240.9 190.1 243.0 190.5 245.1 191.3 247.2 192.3"/>
<path d="M38.6 209.9 40.7 209.9 42.8 209.9 44.9 209.9 46.9 209.9 49.0 209.9 51.1 209.9 53.2 209.9 55.3 209.9 57.4 209.9 59.5 209.9 61.5 209.9 63.6 209.9 65.7 209.9 67.8 209.9 69.9 209.9 72.0 209.9 74.1 209.9 76.1 209.9 78.2 209.9 80.3 209.9 82.4 209.9 84.5 209.9 86.6 209.9 88.7 209.9 90.8 209.9 92.8 209.9 94.9 209.9 97.0 209.9 99.1 209.9 101.2 209.9 103.3 209.9 105.4 209.9 107.4 209.9 109.5 209.9 111.6 209.9 113.7 209.9 115.8 209.9 117.9 209.9 120.0 209.9 122.0 209.7 124.1 207.9 126.2 205.9 128.3 204.8 130.4 203.7 132.5 203.3 134.6 203.4 136.6 201.7 138.7 200.0 140.8 199.0 142.9 197.7 145.0 196.4 147.1 195.6 149.2 194.7 151.2 193.1 153.3 192.7 155.4 192.1 157.5 192.0 159.6 191.5 161.7 190.2 163.8 190.1 165.8 188.9 167.9 187.4 170.0 186.3 172.1 185.6 174.2 184.6 176.3 182.6 178.4 182.1 180.4 181.9 182.5 182.1 184.6 182.2 186.7 182.6 188.8 183.3 190.9 183.1 193.0 182.0 195.0 182.0 197.1 182.4 199.2 183.4 201.3 183.6 203.4 182.8 205.5 182.1 207.6 182.2 209.7 182.2 211.7 182.5 213.8 181.8 215.9 182.1 218.0 183.2 220.1 183.4 222.2 182.9 224.3 183.2 226.3 184.1 228.4 184.2 230.5 184.7 232.6 186.4 234.7 186.9 236.8 187.2 238.9 188.4 240.9 190.6 243.0 191.8 245.1 192.2 247.2 192.7"/>
<path d="M38.6 209.9 40.7 209.9 42.8 209.9 44.9 209.9 46.9 209.9 49.0 209.9 51.1 209.9 53.2 209.9 55.3 209.9 57.4 209.9 59.5 209.9 61.5 209.9 63.6 209.9 65.7 209.9 67.8 209.9 69.9 209.9 72.0 209.9 74.1 209.9 76.1 209.9 78.2 209.9 80.3 209.9 82.4 209.9 84.5 209.9 86.6 209.9 88.7 209.9 90.8 209.9 92.8 209.9 94.9 209.9 97.0 209.9 99.1 209.9 101.2 209.9 103.3 209.9 105.4 209.9 107.4 209.9 109.5 209.9 111.6 209.9 113.7 209.9 115.8 209.9 117.9 209.9 120.0 209.9 122.0 209.9 124.1 209.6 126.2 209.5 128.3 207.1 130.4 205.3 132.5 203.4 134.6 202.4 136.6 201.7 138.7 199.8 140.8 198.8 142.9 197.7 145.0 196.7 147.1 196.3 149.2 195.2 151.2 194.1 153.3 192.6 155.4 192.4 157.5 192.0 159.6 190.3 161.7 190.2 163.8 189.9 165.8 189.3 167.9 189.7 170.0 188.7 172.1 187.7 174.2 187.1 176.3 185.5 178.4 184.9 180.4 185.0 182.5 184.6 184.6 184.0 186.7 183.2 188.8 183.2 190.9 182.7 193.0 182.0 195.0 181.6 197.1 181.0 199.2 180.9 201.3 181.0 203.4 180.1 205.5 180.2 207.6 179.9 209.7 180.1 211.7 179.9 213.8 179.2 215.9 179.8 218.0 180.6 220.1 180.4 222.2 181.2 224.3 182.2 226.3 181.9 228.4 182.7 230.5 183.4 232.6 184.0 234.7 185.2 236.8 186.2 238.9 186.8 240.9 188.4 243.0 190.6 245.1 191.3 247.2 192.4"/>
<path d="M38.6 209.9 40.7 209.9 42.8 209.9 44.9 209.9 46.9 209.9 49.0 209.9 51.1 209.9 53.2 209.9 55.3 209.9 57.4 209.9 59.5 209.9 61.5 209.9 63.6 209.9 65.7 209.9 67.8 209.9 69.9 209.9 72.0 209.9 74.1 209.9 76.1 209.9 78.2 209.9 80.3 209.9 82.4 209.9 84.5 209.9 86.6 209.9 88.7 209.9 90.8 209.9 92.8 209.9 94.9 209.9 97.0 209.9 99.1 209.9 101.2 209.9 103.3 209.9 105.4 209.9 107.4 209.9 109.5 209.9 111.6 209.9 113.7 208.5 115.8 207.0 117.9 205.4 120.0 203.9 122.0 202.4 124.1 201.7 126.2 201.1 128.3 200.7 130.4 199.4 132.5 198.6 134.6 197.5 136.6 196.6 138.7 195.8 140.8 195.0 142.9 194.1 145.0 193.0 147.1 191.3 149.2 190.0 151.2 190.1 153.3 189.6 155.4 189.7 157.5 189.2 159.6 188.4 161.7 186.8 163.8 185.8 165.8 186.1 167.9 185.5 170.0 184.4 172.1 183.3 174.2 183.9 176.3 182.9 178.4 182.2 180.4 181.8 182.5 181.7 184.6 182.1 186.7 181.9 188.8 182.1 190.9 181.3 193.0 180.1 195.0 180.6 197.1 180.5 199.2 179.2 201.3 178.5 203.4 178.6 205.5 178.8 207.6 178.9 209.7 178.1 211.7 178.1 213.8 178.9 215.9 179.1 218.0 179.9 220.1 180.8 222.2 181.5 224.3 182.7 226.3 183.0 228.4 183.3 230.5 184.8 232.6 186.3 234.7 186.1 236.8 185.4 238.9 186.3 240.9 188.1 243.0 188.1 245.1 189.0 247.2 189.6"/>
<path d="M38.6 209.9 40.7 209.9 42.8 209.9 44.9 209.9 46.9 209.9 49.0 209.9 51.1 209.9 53.2 209.9 55.3 209.9 57.4 209.9 59.5 209.9 61.5 209.9 63.6 209.9 65.7 209.9 67.8 209.9 69.9 209.9 72.0 209.9 74.1 209.9 76.1 209.9 78.2 209.9 80.3 209.9 82.4 209.9 84.5 209.9 86.6 209.9 88.7 209.9 90.8 209.9 92.8 209.9 94.9 209.9 97.0 209.9 99.1 209.9 101.2 209.9 103.3 209.9 105.4 209.9 107.4 209.9 109.5 209.9 111.6 209.9 113.7 209.9 115.8 209.9 117.9 209.9 120.0 209.9 122.0 209.9 124.1 209.9 126.2 209.9 128.3 209.9 130.4 209.9 132.5 209.9 134.6 209.9 136.6 209.9 138.7 209.7 140.8 208.8 142.9 207.4 145.0 206.8 147.1 206.4 149.2 205.8 151.2 206.1 153.3 205.8 155.4 204.8 157.5 204.8 159.6 205.5 161.7 205.1 163.8 204.1 165.8 203.6 167.9 203.7 170.0 202.6 172.1 201.7 174.2 201.0 176.3 199.5 178.4 198.8 180.4 199.6 182.5 199.3 184.6 198.4 186.7 197.8 188.8 196.8 190.9 196.7 193.0 197.0 195.0 196.0 197.1 195.9 199.2 196.6 201.3 196.5 203.4 195.9 205.5 195.2 207.6 195.5 209.7 195.2 211.7 194.8 213.8 195.3 215.9 196.7 218.0 197.3 220.1 197.0 222.2 197.3 224.3 197.5 226.3 197.2 228.4 198.3 230.5 198.9 232.6 199.2 234.7 199.1 236.8 199.8 238.9 199.7 240.9 199.0 243.0 199.5 245.1 199.9 247.2 199.7"/>
<path d="M38.6 209.9 40.7 209.9 42.8 209.9 44.9 209.9 46.9 209.9 49.0 209.9 51.1 209.9 53.2 209.9 55.3 209.9 57.4 209.9 59.5 209.9 61.5 209.9 63.6 209.9 65.7 209.9 67.8 209.9 69.9 209.9 72.0 209.9 74.1 209.9 76.1 209.9 78.2 209.9 80.3 209.9 82.4 209.9 84.5 209.9 86.6 209.9 88.7 209.9 90.8 209.9 92.8 209.9 94.9 209.9 97.0 209.9 99.1 209.9 101.2 209.9 103.3 209.9 105.4 209.9 107.4 209.9 109.5 209.9 111.6 209.9 113.7 209.9 115.8 209.9 117.9 209.9 120.0 209.9 122.0 209.9 124.1 209.9 126.2 209.9 128.3 209.9 130.4 209.9 132.5 209.9 134.6 209.9 136.6 209.9 138.7 209.9 140.8 209.9 142.9 209.1 145.0 207.4 147.1 206.4 149.2 205.8 151.2 205.2 153.3 205.8 155.4 205.4 157.5 204.4 159.6 203.7 161.7 204.5 163.8 204.4 165.8 203.8 167.9 202.8 170.0 203.4 172.1 202.6 174.2 202.6 176.3 203.2 178.4 202.8 180.4 202.0 182.5 202.5 184.6 202.4 186.7 202.7 188.8 202.7 190.9 202.5 193.0 202.4 195.0 202.9 197.1 203.0 199.2 202.9 201.3 203.3 203.4 204.8 205.5 204.9 207.6 204.4 209.7 203.8 211.7 203.4 213.8 204.1 215.9 203.5 218.0 203.0 220.1 203.1 222.2 203.3 224.3 203.1 226.3 203.0 228.4 203.9 230.5 203.4 232.6 203.2 234.7 204.9 236.8 205.3 238.9 205.6 240.9 206.6 243.0 207.1 245.1 207.3 247.2 207.0"/>
<path d="M306.3 94.0 308.3 94.0 310.4 94.0 312.4 94.0 314.4 94.0 316.5 94.0 318.5 94.0 320.5 94.0 322.6 94.0 324.6 94.0 326.6 94.0 328.7 94.0 330.7 94.0 332.7 94.0 334.7 94.0 336.8 94.0 338.8 94.0 340.8 94.0 342.9 94.0 344.9 94.0 346.9 94.0 349.0 94.0 351.0 94.0 353.0 94.0 355.1 94.0 357.1 94.0 359.1 94.0 361.2 94.0 363.2 94.0 365.2 94.0 367.3 94.0 369.3 94.0 371.3 94.0 373.4 94.0 375.4 94.0 377.4 94.0 379.5 94.0 381.5 94.0 383.5 94.0 385.5 93.2 387.6 92.6 389.6 92.3 391.6 91.2 393.7 90.5 395.7 90.6 397.7 90.2 399.8 89.2 401.8 88.6 403.8 88.0 405.9 87.8 407.9 87.5 409.9 87.4 412.0 87.6 414.0 86.2 416.0 84.4 418.1 83.1 420.1 82.3 422.1 81.2 424.2 79.5 426.2 76.6 428.2 73.3 430.3 70.6 432.3 69.4 434.3 67.4 436.3 66.3 438.4 66.2 440.4 65.2 442.4 63.5 444.5 62.3 446.5 61.6 448.5 61.0 450.6 60.7 452.6 60.6 454.6 60.0 456.7 60.0 458.7 60.6 460.7 60.4 462.8 59.6 464.8 58.3 466.8 57.3 468.9 57.1 470.9 56.2 472.9 55.3 475.0 54.2 477.0 53.3 479.0 53.5 481.1 54.8 483.1 55.7 485.1 57.3 487.1 59.2 489.2 61.5 491.2 63.3 493.2 65.7 495.3 67.6 497.3 69.4 499.3 71.7 501.4 73.7 503.4 75.9 505.4 77.7 507.5 79.1 509.5 81.7"/>
<path d="M306.3 94.0 308.3 94.0 310.4 94.0 312.4 94.0 314.4 94.0 316.5 94.0 318.5 94.0 320.5 94.0 322.6 94.0 324.6 94.0 326.6 94.0 328.7 94.0 330.7 94.0 332.7 94.0 334.7 94.0 336.8 94.0 338.8 94.0 340.8 94.0 342.9 94.0 344.9 94.0 346.9 94.0 349.0 94.0 351.0 94.0 353.0 94.0 355.1 94.0 357.1 94.0 359.1 94.0 361.2 94.0 363.2 94.0 365.2 94.0 367.3 94.0 369.3 94.0 371.3 94.0 373.4 94.0 375.4 94.0 377.4 94.0 379.5 94.0 381.5 94.0 383.5 94.0 385.5 94.0 387.6 93.2 389.6 92.5 391.6 91.8 393.7 91.1 395.7 90.7 397.7 90.7 399.8 89.2 401.8 88.1 403.8 87.6 405.9 87.5 407.9 86.8 409.9 84.6 412.0 84.1 414.0 83.1 416.0 83.2 418.1 82.9 420.1 80.6 422.1 78.9 424.2 77.9 426.2 76.5 428.2 73.0 430.3 69.8 432.3 68.3 434.3 66.8 436.3 66.0 438.4 65.3 440.4 65.1 442.4 64.5 444.5 63.2 446.5 62.0 448.5 61.8 450.6 61.5 452.6 61.2 454.6 60.9 456.7 61.5 458.7 61.4 460.7 61.5 462.8 60.8 464.8 60.0 466.8 59.3 468.9 59.0 470.9 58.2 472.9 57.6 475.0 57.4 477.0 57.5 479.0 57.3 481.1 57.9 483.1 59.2 485.1 60.9 487.1 62.7 489.2 64.4 491.2 66.9 493.2 69.4 495.3 71.3 497.3 73.8 499.3 76.1 501.4 77.5 503.4 79.2 505.4 82.5 507.5 85.0 509.5 86.7"/>
<path d="M306.3 94.0 308.3 94.0 310.4 94.0 312.4 94.0 314.4 94.0 316.5 94.0 318.5 94.0 320.5 94.0 322.6 94.0 324.6 94.0 326.6 94.0 328.7 94.0 330.7 94.0 332.7 94.0 334.7 94.0 336.8 94.0 338.8 94.0 340.8 94.0 342.9 94.0 344.9 94.0 346.9 94.0 349.0 94.0 351.0 94.0 353.0 94.0 355.1 94.0 357.1 94.0 359.1 94.0 361.2 94.0 363.2 94.0 365.2 94.0 367.3 94.0 369.3 94.0 371.3 94.0 373.4 94.0 375.4 94.0 377.4 94.0 379.5 94.0 381.5 94.0 383.5 94.0 385.5 94.0 387.6 94.0 389.6 92.9 391.6 91.5 393.7 90.5 395.7 90.1 397.7 89.7 399.8 88.7 401.8 86.8 403.8 85.9 405.9 85.9 407.9 85.3 409.9 85.1 412.0 85.1 414.0 84.7 416.0 84.7 418.1 84.4 420.1 83.5 422.1 82.5 424.2 80.7 426.2 79.5 428.2 78.3 430.3 77.3 432.3 77.6 434.3 76.6 436.3 74.9 438.4 74.1 440.4 74.0 442.4 73.2 444.5 73.0 446.5 72.7 448.5 71.5 450.6 69.7 452.6 69.9 454.6 69.2 456.7 68.2 458.7 67.7 460.7 67.8 462.8 67.1 464.8 66.9 466.8 68.0 468.9 69.3 470.9 70.3 472.9 68.0 475.0 65.6 477.0 63.2 479.0 62.7 481.1 64.6 483.1 65.7 485.1 66.9 487.1 68.2 489.2 70.1 491.2 73.1 493.2 74.6 495.3 75.8 497.3 77.0 499.3 79.2 501.4 81.7 503.4 84.3 505.4 85.7 507.5 87.7 509.5 89.7"/>
<path d="M306.3 94.0 308.3 94.0 310.4 94.0 312.4 94.0 314.4 94.0 316.5 94.0 318.5 94.0 320.5 94.0 322.6 94.0 324.6 94.0 326.6 94.0 328.7 94.0 330.7 94.0 332.7 94.0 334.7 94.0 336.8 94.0 338.8 94.0 340.8 94.0 342.9 94.0 344.9 94.0 346.9 94.0 349.0 94.0 351.0 94.0 353.0 94.0 355.1 94.0 357.1 94.0 359.1 94.0 361.2 94.0 363.2 94.0 365.2 94.0 367.3 94.0 369.3 94.0 371.3 94.0 373.4 94.0 375.4 94.0 377.4 94.0 379.5 94.0 381.5 94.0 383.5 94.0 385.5 94.0 387.6 94.0 389.6 94.0 391.6 93.9 393.7 93.8 395.7 93.6 397.7 93.3 399.8 93.1 401.8 92.6 403.8 91.1 405.9 90.1 407.9 89.8 409.9 89.5 412.0 89.2 414.0 90.0 416.0 90.0 418.1 89.9 420.1 90.1 422.1 89.8 424.2 89.3 426.2 89.8 428.2 89.3 430.3 88.5 432.3 88.1 434.3 87.7 436.3 86.8 438.4 86.1 440.4 85.8 442.4 86.0 444.5 85.5 446.5 84.8 448.5 84.1 450.6 83.5 452.6 83.9 454.6 84.8 456.7 84.7 458.7 84.7 460.7 84.7 462.8 84.5 464.8 83.8 466.8 83.2 468.9 83.4 470.9 83.1 472.9 83.1 475.0 82.5 477.0 82.1 479.0 82.4 481.1 83.1 483.1 83.8 485.1 84.7 487.1 85.2 489.2 86.2 491.2 86.1 493.2 87.1 495.3 87.7 497.3 89.1 499.3 90.4 501.4 90.9 503.4 91.3 505.4 91.2 507.5 91.9 509.5 92.7"/>
<path d="M306.3 94.0 308.3 94.0 310.4 94.0 312.4 94.0 314.4 94.0 316.5 94.0 318.5 94.0 320.5 94.0 322.6 94.0 324.6 94.0 326.6 94.0 328.7 94.0 330.7 94.0 332.7 94.0 334.7 94.0 336.8 94.0 338.8 94.0 340.8 94.0 342.9 94.0 344.9 94.0 346.9 94.0 349.0 94.0 351.0 94.0 353.0 94.0 355.1 94.0 357.1 94.0 359.1 94.0 361.2 94.0 363.2 94.0 365.2 94.0 367.3 94.0 369.3 94.0 371.3 94.0 373.4 94.0 375.4 94.0 377.4 94.0 379.5 94.0 381.5 94.0 383.5 94.0 385.5 94.0 387.6 94.0 389.6 94.0 391.6 94.0 393.7 93.5 395.7 93.1 397.7 92.3 399.8 91.6 401.8 91.4 403.8 90.8 405.9 90.7 407.9 91.3 409.9 91.4 412.0 90.5 414.0 89.9 416.0 90.2 418.1 90.7 420.1 89.8 422.1 89.4 424.2 90.3 426.2 89.6 428.2 88.3 430.3 88.1 432.3 87.8 434.3 86.8 436.3 86.1 438.4 85.1 440.4 84.5 442.4 84.5 444.5 84.3 446.5 83.4 448.5 82.8 450.6 83.2 452.6 83.4 454.6 83.6 456.7 84.0 458.7 84.3 460.7 84.1 462.8 83.5 464.8 82.6 466.8 82.4 468.9 81.7 470.9 81.7 472.9 81.7 475.0 81.1 477.0 80.2 479.0 80.6 481.1 82.0 483.1 83.0 485.1 83.7 487.1 84.6 489.2 84.5 491.2 84.8 493.2 85.4 495.3 86.6 497.3 86.7 499.3 87.8 501.4 89.3 503.4 90.3 505.4 90.9 507.5 92.2 509.5 92.3"/>
<path d="M306.3 94.0 308.3 94.0 310.4 94.0 312.4 94.0 314.4 94.0 316.5 94.0 318.5 94.0 320.5 94.0 322.6 94.0 324.6 94.0 326.6 94.0 328.7 94.0 330.7 94.0 332.7 94.0 334.7 94.0 336.8 94.0 338.8 94.0 340.8 94.0 342.9 94.0 344.9 94.0 346.9 94.0 349.0 94.0 351.0 94.0 353.0 94.0 355.1 94.0 357.1 94.0 359.1 94.0 361.2 94.0 363.2 94.0 365.2 94.0 367.3 94.0 369.3 94.0 371.3 94.0 373.4 94.0 375.4 94.0 377.4 94.0 379.5 94.0 381.5 94.0 383.5 94.0 385.5 94.0 387.6 94.0 389.6 94.0 391.6 93.8 393.7 93.5 395.7 93.2 397.7 92.6 399.8 92.2 401.8 91.0 403.8 90.2 405.9 89.9 407.9 89.0 409.9 89.0 412.0 88.6 414.0 88.2 416.0 88.1 418.1 88.2 420.1 87.5 422.1 87.0 424.2 87.0 426.2 86.1 428.2 85.5 430.3 85.7 432.3 85.4 434.3 84.3 436.3 84.3 438.4 84.2 440.4 83.8 442.4 83.3 444.5 83.0 446.5 82.2 448.5 81.2 450.6 81.2 452.6 80.9 454.6 81.4 456.7 82.5 458.7 82.6 460.7 82.2 462.8 82.9 464.8 82.7 466.8 81.5 468.9 80.8 470.9 80.7 472.9 81.0 475.0 80.6 477.0 80.5 479.0 80.8 481.1 81.0 483.1 81.2 485.1 81.8 487.1 82.5 489.2 83.1 491.2 83.7 493.2 85.3 495.3 87.2 497.3 87.8 499.3 88.4 501.4 89.4 503.4 90.1 505.4 91.0 507.5 91.1 509.5 91.7"/>
<path d="M306.3 94.0 308.3 94.0 310.4 94.0 312.4 94.0 314.4 94.0 316.5 94.0 318.5 94.0 320.5 94.0 322.6 94.0 324.6 94.0 326.6 94.0 328.7 94.0 330.7 94.0 332.7 94.0 334.7 94.0 336.8 94.0 338.8 94.0 340.8 94.0 342.9 94.0 344.9 94.0 346.9 94.0 349.0 94.0 351.0 94.0 353.0 94.0 355.1 94.0 357.1 94.0 359.1 94.0 361.2 94.0 363.2 94.0 365.2 94.0 367.3 94.0 369.3 94.0 371.3 94.0 373.4 94.0 375.4 94.0 377.4 94.0 379.5 94.0 381.5 94.0 383.5 94.0 385.5 94.0 387.6 94.0 389.6 94.0 391.6 94.0 393.7 94.0 395.7 93.8 397.7 93.4 399.8 93.2 401.8 92.5 403.8 92.3 405.9 91.5 407.9 90.3 409.9 90.0 412.0 88.7 414.0 87.7 416.0 87.8 418.1 87.3 420.1 87.5 422.1 88.2 424.2 88.4 426.2 87.4 428.2 86.4 430.3 87.1 432.3 88.0 434.3 87.3 436.3 86.4 438.4 85.2 440.4 84.4 442.4 83.9 444.5 83.8 446.5 82.9 448.5 83.0 450.6 82.9 452.6 82.7 454.6 82.7 456.7 82.4 458.7 82.2 460.7 81.2 462.8 80.8 464.8 80.3 466.8 80.2 468.9 80.3 470.9 79.6 472.9 79.8 475.0 80.7 477.0 79.8 479.0 79.7 481.1 80.7 483.1 81.2 485.1 82.0 487.1 82.6 489.2 82.8 491.2 82.8 493.2 82.7 495.3 82.8 497.3 83.3 499.3 84.4 501.4 85.7 503.4 86.2 505.4 86.8 507.5 88.1 509.5 90.4"/>
<path d="M306.3 94.0 308.3 94.0 310.4 94.0 312.4 94.0 314.4 94.0 316.5 94.0 318.5 94.0 320.5 94.0 322.6 94.0 324.6 94.0 326.6 94.0 328.7 94.0 330.7 94.0 332.7 94.0 334.7 94.0 336.8 94.0 338.8 94.0 340.8 94.0 342.9 94.0 344.9 94.0 346.9 94.0 349.0 94.0 351.0 94.0 353.0 94.0 355.1 94.0 357.1 94.0 359.1 94.0 361.2 94.0 363.2 94.0 365.2 94.0 367.3 94.0 369.3 94.0 371.3 94.0 373.4 94.0 375.4 94.0 377.4 94.0 379.5 94.0 381.5 94.0 383.5 94.0 385.5 94.0 387.6 94.0 389.6 94.0 391.6 94.0 393.7 94.0 395.7 93.6 397.7 93.3 399.8 93.1 401.8 92.4 403.8 91.8 405.9 92.1 407.9 91.6 409.9 90.6 412.0 89.4 414.0 87.5 416.0 86.4 418.1 86.4 420.1 85.8 422.1 85.0 424.2 84.8 426.2 84.8 428.2 85.3 430.3 85.9 432.3 85.7 434.3 84.9 436.3 84.1 438.4 83.9 440.4 83.0 442.4 82.5 444.5 82.3 446.5 81.5 448.5 80.5 450.6 78.9 452.6 78.3 454.6 78.6 456.7 78.0 458.7 77.7 460.7 78.1 462.8 78.2 464.8 77.9 466.8 77.5 468.9 77.3 470.9 77.4 472.9 77.3 475.0 77.8 477.0 77.8 479.0 77.8 481.1 78.8 483.1 79.3 485.1 79.3 487.1 81.2 489.2 82.7 491.2 83.5 493.2 84.2 495.3 85.0 497.3 86.1 499.3 86.5 501.4 87.0 503.4 88.2 505.4 88.7 507.5 88.9 509.5 89.3"/>
<path d="M306.3 94.0 308.3 94.0 310.4 94.0 312.4 94.0 314.4 94.0 316.5 94.0 318.5 94.0 320.5 94.0 322.6 94.0 324.6 94.0 326.6 94.0 328.7 94.0 330.7 94.0 332.7 94.0 334.7 94.0 336.8 94.0 338.8 94.0 340.8 94.0 342.9 94.0 344.9 94.0 346.9 94.0 349.0 94.0 351.0 94.0 353.0 94.0 355.1 94.0 357.1 94.0 359.1 94.0 361.2 94.0 363.2 94.0 365.2 94.0 367.3 94.0 369.3 94.0 371.3 94.0 373.4 94.0 375.4 94.0 377.4 94.0 379.5 94.0 381.5 94.0 383.5 94.0 385.5 94.0 387.6 94.0 389.6 94.0 391.6 93.9 393.7 93.6 395.7 93.3 397.7 92.8 399.8 93.1 401.8 93.4 403.8 92.8 405.9 92.2 407.9 91.9 409.9 91.0 412.0 89.5 414.0 88.7 416.0 88.7 418.1 87.7 420.1 86.5 422.1 86.4 424.2 86.2 426.2 85.2 428.2 83.7 430.3 83.8 432.3 84.4 434.3 84.2 436.3 83.6 438.4 83.0 440.4 82.7 442.4 82.4 444.5 82.4 446.5 81.7 448.5 79.5 450.6 79.0 452.6 79.7 454.6 79.1 456.7 77.5 458.7 76.3 460.7 75.7 462.8 75.3 464.8 75.3 466.8 75.9 468.9 77.3 470.9 77.7 472.9 77.2 475.0 76.6 477.0 75.4 479.0 75.1 481.1 76.0 483.1 78.0 485.1 79.3 487.1 80.4 489.2 80.4 491.2 81.1 493.2 82.7 495.3 83.7 497.3 84.4 499.3 85.1 501.4 86.3 503.4 86.1 505.4 85.9 507.5 87.7 509.5 89.3"/>
<path d="M306.3 94.0 308.3 94.0 310.4 94.0 312.4 94.0 314.4 94.0 316.5 94.0 318.5 94.0 320.5 94.0 322.6 94.0 324.6 94.0 326.6 94.0 328.7 94.0 330.7 94.0 332.7 94.0 334.7 94.0 336.8 94.0 338.8 94.0 340.8 94.0 342.9 94.0 344.9 94.0 346.9 94.0 349.0 94.0 351.0 94.0 353.0 94.0 355.1 94.0 357.1 94.0 359.1 94.0 361.2 94.0 363.2 94.0 365.2 94.0 367.3 94.0 369.3 94.0 371.3 94.0 373.4 94.0 375.4 94.0 377.4 94.0 379.5 94.0 381.5 94.0 383.5 94.0 385.5 94.0 387.6 94.0 389.6 94.0 391.6 94.0 393.7 94.0 395.7 93.5 397.7 93.1 399.8 92.1 401.8 91.3 403.8 91.0 405.9 90.5 407.9 90.8 409.9 89.9 412.0 87.5 414.0 86.9 416.0 87.0 418.1 86.6 420.1 85.5 422.1 84.9 424.2 83.9 426.2 83.1 428.2 83.2 430.3 83.1 432.3 82.4 434.3 81.6 436.3 81.8 438.4 82.0 440.4 81.9 442.4 81.8 444.5 79.9 446.5 78.5 448.5 78.2 450.6 77.5 452.6 76.9 454.6 76.8 456.7 76.7 458.7 75.4 460.7 74.6 462.8 74.4 464.8 74.1 466.8 73.3 468.9 72.4 470.9 72.5 472.9 73.0 475.0 72.7 477.0 72.7 479.0 74.0 481.1 75.2 483.1 77.1 485.1 78.0 487.1 78.3 489.2 79.6 491.2 81.7 493.2 82.4 495.3 82.9 497.3 82.6 499.3 84.1 501.4 85.1 503.4 86.1 505.4 87.3 507.5 88.1 509.5 89.7"/>
<path d="M306.3 94.0 308.3 94.0 310.4 94.0 312.4 94.0 314.4 94.0 316.5 94.0 318.5 94.0 320.5 94.0 322.6 94.0 324.6 94.0 326.6 94.0 328.7 94.0 330.7 94.0 332.7 94.0 334.7 94.0 336.8 94.0 338.8 94.0 340.8 94.0 342.9 94.0 344.9 94.0 346.9 94.0 349.0 94.0 351.0 94.0 353.0 94.0 355.1 94.0 357.1 94.0 359.1 94.0 361.2 94.0 363.2 94.0 365.2 94.0 367.3 94.0 369.3 94.0 371.3 94.0 373.4 94.0 375.4 94.0 377.4 94.0 379.5 94.0 381.5 94.0 383.5 94.0 385.5 94.0 387.6 94.0 389.6 93.5 391.6 93.2 393.7 93.1 395.7 92.9 397.7 92.6 399.8 92.3 401.8 92.2 403.8 92.3 405.9 92.0 407.9 89.9 409.9 89.0 412.0 89.0 414.0 87.6 416.0 86.0 418.1 85.8 420.1 84.6 422.1 83.7 424.2 83.0 426.2 82.7 428.2 81.9 430.3 79.9 432.3 79.1 434.3 77.9 436.3 77.3 438.4 77.2 440.4 76.3 442.4 76.8 444.5 76.6 446.5 76.5 448.5 76.4 450.6 75.9 452.6 76.0 454.6 75.8 456.7 75.2 458.7 74.3 460.7 73.4 462.8 72.3 464.8 71.7 466.8 71.2 468.9 71.2 470.9 71.0 472.9 70.4 475.0 70.2 477.0 68.9 479.0 68.8 481.1 70.1 483.1 71.1 485.1 72.9 487.1 73.7 489.2 75.0 491.2 77.7 493.2 80.1 495.3 81.2 497.3 81.2 499.3 82.5 501.4 84.1 503.4 85.3 505.4 86.6 507.5 88.5 509.5 91.0"/>
<path d="M306.3 94.0 308.3 94.0 310.4 94.0 312.4 94.0 314.4 94.0 316.5 94.0 318.5 94.0 320.5 94.0 322.6 94.0 324.6 94.0 326.6 94.0 328.7 94.0 330.7 94.0 332.7 94.0 334.7 94.0 336.8 94.0 338.8 94.0 340.8 94.0 342.9 94.0 344.9 94.0 346.9 94.0 349.0 94.0 351.0 94.0 353.0 94.0 355.1 94.0 357.1 94.0 359.1 94.0 361.2 94.0 363.2 94.0 365.2 94.0 367.3 94.0 369.3 94.0 371.3 94.0 373.4 94.0 375.4 94.0 377.4 94.0 379.5 94.0 381.5 94.0 383.5 94.0 385.5 94.0 387.6 93.9 389.6 93.2 391.6 92.6 393.7 92.5 395.7 91.7 397.7 91.5 399.8 91.3 401.8 91.7 403.8 91.9 405.9 91.4 407.9 91.3 409.9 90.2 412.0 88.9 414.0 88.5 416.0 87.3 418.1 86.4 420.1 85.6 422.1 85.3 424.2 85.1 426.2 83.8 428.2 82.6 430.3 82.4 432.3 81.4 434.3 80.3 436.3 78.2 438.4 76.6 440.4 76.7 442.4 76.2 444.5 75.6 446.5 75.5 448.5 76.0 450.6 75.3 452.6 74.3 454.6 74.0 456.7 73.6 458.7 72.7 460.7 71.0 462.8 71.2 464.8 71.3 466.8 70.9 468.9 71.2 470.9 71.4 472.9 71.0 475.0 69.8 477.0 67.9 479.0 68.0 481.1 69.3 483.1 70.6 485.1 72.4 487.1 73.9 489.2 75.4 491.2 75.7 493.2 76.9 495.3 78.7 497.3 80.2 499.3 82.0 501.4 83.9 503.4 85.4 505.4 85.9 507.5 87.6 509.5 88.7"/>
<path d="M306.3 94.0 308.3 94.0 310.4 94.0 312.4 94.0 314.4 94.0 316.5 94.0 318.5 94.0 320.5 94.0 322.6 94.0 324.6 94.0 326.6 94.0 328.7 94.0 330.7 94.0 332.7 94.0 334.7 94.0 336.8 94.0 338.8 94.0 340.8 94.0 342.9 94.0 344.9 94.0 346.9 94.0 349.0 94.0 351.0 94.0 353.0 94.0 355.1 94.0 357.1 94.0 359.1 94.0 361.2 94.0 363.2 94.0 365.2 94.0 367.3 94.0 369.3 94.0 371.3 94.0 373.4 94.0 375.4 94.0 377.4 94.0 379.5 94.0 381.5 94.0 383.5 94.0 385.5 94.0 387.6 94.0 389.6 94.0 391.6 94.0 393.7 94.0 395.7 94.0 397.7 93.9 399.8 93.8 401.8 93.7 403.8 93.7 405.9 93.6 407.9 93.5 409.9 93.4 412.0 93.3 414.0 93.3 416.0 93.4 418.1 93.1 420.1 92.9 422.1 92.8 424.2 92.9 426.2 92.9 428.2 92.8 430.3 92.6 432.3 92.6 434.3 92.5 436.3 92.6 438.4 92.3 440.4 92.2 442.4 92.2 444.5 91.7 446.5 91.5 448.5 91.6 450.6 92.0 452.6 92.3 454.6 92.3 456.7 92.4 458.7 92.5 460.7 91.9 462.8 91.2 464.8 91.2 466.8 91.6 468.9 91.2 470.9 91.2 472.9 91.0 475.0 90.8 477.0 90.5 479.0 90.1 481.1 90.7 483.1 91.0 485.1 91.3 487.1 91.6 489.2 92.1 491.2 92.7 493.2 92.7 495.3 92.9 497.3 93.1 499.3 93.3 501.4 93.4 503.4 93.4 505.4 93.6 507.5 93.5 509.5 93.2"/>
<path d="M306.3 94.0 308.3 94.0 310.4 94.0 312.4 94.0 314.4 94.0 316.5 94.0 318.5 94.0 320.5 94.0 322.6 94.0 324.6 94.0 326.6 94.0 328.7 94.0 330.7 94.0 332.7 94.0 334.7 94.0 336.8 94.0 338.8 94.0 340.8 94.0 342.9 94.0 344.9 94.0 346.9 94.0 349.0 94.0 351.0 94.0 353.0 94.0 355.1 94.0 357.1 94.0 359.1 94.0 361.2 94.0 363.2 94.0 365.2 94.0 367.3 94.0 369.3 94.0 371.3 94.0 373.4 94.0 375.4 94.0 377.4 94.0 379.5 94.0 381.5 94.0 383.5 94.0 385.5 94.0 387.6 94.0 389.6 94.0 391.6 94.0 393.7 94.0 395.7 94.0 397.7 93.9 399.8 93.8 401.8 93.7 403.8 93.5 405.9 93.1 407.9 92.6 409.9 92.4 412.0 92.3 414.0 92.2 416.0 92.0 418.1 92.3 420.1 92.0 422.1 91.5 424.2 91.4 426.2 91.2 428.2 91.1 430.3 91.4 432.3 91.8 434.3 91.7 436.3 91.8 438.4 91.0 440.4 91.1 442.4 91.0 444.5 91.0 446.5 90.9 448.5 91.3 450.6 91.5 452.6 91.9 454.6 92.2 456.7 92.2 458.7 91.6 460.7 91.1 462.8 91.5 464.8 91.7 466.8 91.1 468.9 91.1 470.9 90.3 472.9 90.5 475.0 91.4 477.0 91.1 479.0 90.0 481.1 89.5 483.1 89.8 485.1 90.1 487.1 89.6 489.2 90.1 491.2 90.8 493.2 91.5 495.3 91.7 497.3 91.6 499.3 91.4 501.4 91.8 503.4 92.3 505.4 93.0 507.5 93.3 509.5 93.5"/>
<path d="M306.3 94.0 308.3 94.0 310.4 94.0 312.4 94.0 314.4 94.0 316.5 94.0 318.5 94.0 320.5 94.0 322.6 94.0 324.6 94.0 326.6 94.0 328.7 94.0 330.7 94.0 332.7 94.0 334.7 94.0 336.8 94.0 338.8 94.0 340.8 94.0 342.9 94.0 344.9 94.0 346.9 94.0 349.0 94.0 351.0 94.0 353.0 94.0 355.1 94.0 357.1 94.0 359.1 94.0 361.2 94.0 363.2 94.0 365.2 94.0 367.3 94.0 369.3 94.0 371.3 94.0 373.4 94.0 375.4 94.0 377.4 94.0 379.5 94.0 381.5 94.0 383.5 94.0 385.5 94.0 387.6 94.0 389.6 94.0 391.6 94.0 393.7 94.0 395.7 94.0 397.7 94.0 399.8 94.0 401.8 93.8 403.8 93.4 405.9 93.1 407.9 92.4 409.9 92.1 412.0 92.5 414.0 92.2 416.0 92.0 418.1 91.4 420.1 91.5 422.1 91.8 424.2 91.2 426.2 90.9 428.2 92.3 430.3 91.9 432.3 91.2 434.3 91.1 436.3 91.2 438.4 91.2 440.4 90.7 442.4 91.0 444.5 91.4 446.5 91.0 448.5 90.5 450.6 89.5 452.6 88.7 454.6 88.3 456.7 88.6 458.7 88.1 460.7 88.1 462.8 88.9 464.8 89.8 466.8 89.8 468.9 89.9 470.9 90.2 472.9 89.6 475.0 88.4 477.0 88.3 479.0 87.8 481.1 87.6 483.1 87.9 485.1 88.4 487.1 89.9 489.2 91.9 491.2 92.0 493.2 92.1 495.3 92.4 497.3 92.0 499.3 91.8 501.4 92.7 503.4 93.8 505.4 93.7 507.5 93.3 509.5 93.4"/>
<path d="M306.3 94.0 308.3 94.0 310.4 94.0 312.4 94.0 314.4 94.0 316.5 94.0 318.5 94.0 320.5 94.0 322.6 94.0 324.6 94.0 326.6 94.0 328.7 94.0 330.7 94.0 332.7 94.0 334.7 94.0 336.8 94.0 338.8 94.0 340.8 94.0 342.9 94.0 344.9 94.0 346.9 94.0 349.0 94.0 351.0 94.0 353.0 94.0 355.1 94.0 357.1 94.0 359.1 94.0 361.2 94.0 363.2 94.0 365.2 94.0 367.3 94.0 369.3 94.0 371.3 94.0 373.4 94.0 375.4 94.0 377.4 94.0 379.5 94.0 381.5 94.0 383.5 94.0 385.5 94.0 387.6 94.0 389.6 94.0 391.6 94.0 393.7 93.8 395.7 93.7 397.7 93.6 399.8 93.3 401.8 93.1 403.8 92.8 405.9 92.5 407.9 92.5 409.9 92.1 412.0 91.8 414.0 91.1 416.0 90.3 418.1 89.8 420.1 90.3 422.1 90.2 424.2 89.2 426.2 89.3 428.2 89.6 430.3 89.7 432.3 90.4 434.3 90.8 436.3 90.7 438.4 89.7 440.4 90.0 442.4 90.2 444.5 89.8 446.5 89.8 448.5 90.0 450.6 89.9 452.6 90.1 454.6 90.0 456.7 89.5 458.7 90.2 460.7 89.8 462.8 90.0 464.8 89.7 466.8 88.6 468.9 87.4 470.9 87.0 472.9 86.9 475.0 87.5 477.0 87.6 479.0 86.5 481.1 86.9 483.1 87.5 485.1 87.4 487.1 88.2 489.2 88.8 491.2 89.4 493.2 89.0 495.3 89.4 497.3 90.4 499.3 90.0 501.4 89.8 503.4 89.9 505.4 90.4 507.5 91.4 509.5 91.4"/>
<path d="M306.3 94.0 308.3 94.0 310.4 94.0 312.4 94.0 314.4 94.0 316.5 94.0 318.5 94.0 320.5 94.0 322.6 94.0 324.6 94.0 326.6 94.0 328.7 94.0 330.7 94.0 332.7 94.0 334.7 94.0 336.8 94.0 338.8 94.0 340.8 94.0 342.9 94.0 344.9 94.0 346.9 94.0 349.0 94.0 351.0 94.0 353.0 94.0 355.1 94.0 357.1 94.0 359.1 94.0 361.2 94.0 363.2 94.0 365.2 94.0 367.3 94.0 369.3 94.0 371.3 94.0 373.4 94.0 375.4 94.0 377.4 94.0 379.5 94.0 381.5 94.0 383.5 94.0 385.5 94.0 387.6 94.0 389.6 93.9 391.6 93.7 393.7 93.5 395.7 93.4 397.7 93.3 399.8 93.3 401.8 93.3 403.8 93.2 405.9 93.1 407.9 93.1 409.9 92.8 412.0 92.8 414.0 92.4 416.0 91.7 418.1 91.2 420.1 91.4 422.1 90.9 424.2 90.3 426.2 90.8 428.2 91.2 430.3 92.0 432.3 91.1 434.3 90.4 436.3 90.2 438.4 90.1 440.4 90.0 442.4 88.9 444.5 88.9 446.5 88.9 448.5 88.5 450.6 88.2 452.6 89.0 454.6 88.6 456.7 89.1 458.7 90.1 460.7 90.7 462.8 90.6 464.8 89.8 466.8 89.7 468.9 89.4 470.9 88.9 472.9 88.4 475.0 87.8 477.0 87.4 479.0 86.7 481.1 86.2 483.1 86.5 485.1 87.6 487.1 88.5 489.2 89.6 491.2 90.1 493.2 90.9 495.3 91.0 497.3 90.5 499.3 90.6 501.4 90.8 503.4 90.6 505.4 90.8 507.5 91.3 509.5 91.8"/>
<path d="M306.3 94.0 308.3 94.0 310.4 94.0 312.4 94.0 314.4 94.0 316.5 94.0 318.5 94.0 320.5 94.0 322.6 94.0 324.6 94.0 326.6 94.0 328.7 94.0 330.7 94.0 332.7 94.0 334.7 94.0 336.8 94.0 338.8 94.0 340.8 94.0 342.9 94.0 344.9 94.0 346.9 94.0 349.0 94.0 351.0 94.0 353.0 94.0 355.1 94.0 357.1 94.0 359.1 94.0 361.2 94.0 363.2 94.0 365.2 94.0 367.3 94.0 369.3 94.0 371.3 94.0 373.4 94.0 375.4 94.0 377.4 94.0 379.5 94.0 381.5 94.0 383.5 94.0 385.5 94.0 387.6 94.0 389.6 94.0 391.6 93.6 393.7 93.3 395.7 92.9 397.7 92.9 399.8 92.9 401.8 92.4 403.8 91.7 405.9 91.7 407.9 91.3 409.9 90.8 412.0 90.2 414.0 89.4 416.0 90.0 418.1 91.3 420.1 92.1 422.1 92.0 424.2 92.1 426.2 92.2 428.2 91.4 430.3 90.8 432.3 90.1 434.3 89.0 436.3 88.1 438.4 87.9 440.4 88.2 442.4 87.7 444.5 87.3 446.5 87.4 448.5 87.4 450.6 87.3 452.6 87.6 454.6 87.4 456.7 87.7 458.7 87.5 460.7 87.4 462.8 87.0 464.8 86.0 466.8 85.2 468.9 85.4 470.9 85.8 472.9 85.9 475.0 85.6 477.0 85.3 479.0 85.7 481.1 85.8 483.1 86.0 485.1 85.5 487.1 85.1 489.2 85.1 491.2 85.8 493.2 86.2 495.3 86.8 497.3 87.4 499.3 88.7 501.4 89.3 503.4 89.6 505.4 89.3 507.5 89.4 509.5 89.8"/>
<path d="M306.3 94.0 308.3 94.0 310.4 94.0 312.4 94.0 314.4 94.0 316.5 94.0 318.5 94.0 320.5 94.0 322.6 94.0 324.6 94.0 326.6 94.0 328.7 94.0 330.7 94.0 332.7 94.0 334.7 94.0 336.8 94.0 338.8 94.0 340.8 94.0 342.9 94.0 344.9 94.0 346.9 94.0 349.0 94.0 351.0 94.0 353.0 94.0 355.1 94.0 357.1 94.0 359.1 94.0 361.2 94.0 363.2 94.0 365.2 94.0 367.3 94.0 369.3 94.0 371.3 94.0 373.4 94.0 375.4 94.0 377.4 94.0 379.5 94.0 381.5 94.0 383.5 94.0 385.5 94.0 387.6 94.0 389.6 94.0 391.6 94.0 393.7 94.0 395.7 94.0 397.7 94.0 399.8 94.0 401.8 94.0 403.8 93.6 405.9 93.0 407.9 92.5 409.9 92.8 412.0 92.3 414.0 92.0 416.0 92.0 418.1 92.0 420.1 92.0 422.1 91.2 424.2 90.1 426.2 90.0 428.2 90.6 430.3 89.7 432.3 89.0 434.3 88.0 436.3 88.3 438.4 88.4 440.4 87.3 442.4 86.1 444.5 85.4 446.5 85.4 448.5 85.4 450.6 85.2 452.6 84.9 454.6 85.2 456.7 85.7 458.7 85.7 460.7 85.5 462.8 84.4 464.8 83.6 466.8 84.1 468.9 84.5 470.9 83.9 472.9 82.8 475.0 82.6 477.0 82.1 479.0 82.5 481.1 83.9 483.1 85.0 485.1 85.6 487.1 87.1 489.2 87.8 491.2 88.1 493.2 88.8 495.3 88.8 497.3 89.6 499.3 90.2 501.4 89.7 503.4 90.7 505.4 92.2 507.5 92.9 509.5 93.1"/>
<path d="M306.3 142.0 308.3 140.1 310.4 139.0 312.4 137.9 314.4 136.4 316.5 134.2 318.5 132.7 320.5 130.9 322.6 129.1 324.6 127.7 326.6 125.5 328.7 124.5 330.7 121.9 332.7 119.5 334.7 117.0 336.8 114.5 338.8 112.3 340.8 111.9 342.9 113.5 344.9 114.9 346.9 115.8 349.0 117.6 351.0 119.2 353.0 119.7 355.1 119.8 357.1 119.9 359.1 120.1 361.2 119.8 363.2 120.6 365.2 121.1 367.3 121.4 369.3 121.4 371.3 121.6 373.4 121.6 375.4 121.3 377.4 121.6 379.5 121.3 381.5 121.0 383.5 122.2 385.5 123.0 387.6 122.7 389.6 122.8 391.6 123.8 393.7 125.1 395.7 126.3 397.7 127.3 399.8 128.5 401.8 128.8 403.8 130.6 405.9 131.2 407.9 130.5 409.9 130.9 412.0 132.1 414.0 133.3 416.0 133.6 418.1 133.9 420.1 134.7 422.1 136.5 424.2 138.2 426.2 140.1 428.2 142.2 430.3 144.0 432.3 146.3 434.3 148.6 436.3 151.0 438.4 151.0 440.4 151.0 442.4 151.0 444.5 151.0 446.5 151.0 448.5 151.0 450.6 151.0 452.6 151.0 454.6 151.0 456.7 151.0 458.7 151.0 460.7 151.0 462.8 151.0 464.8 151.0 466.8 151.0 468.9 151.0 470.9 151.0 472.9 151.0 475.0 151.0 477.0 151.0 479.0 151.0 481.1 151.0 483.1 151.0 485.1 151.0 487.1 151.0 489.2 151.0 491.2 151.0 493.2 151.0 495.3 151.0 497.3 151.0 499.3 151.0 501.4 151.0 503.4 151.0 505.4 151.0 507.5 151.0 509.5 151.0"/>
<path d="M306.3 145.5 308.3 145.6 310.4 144.4 312.4 142.7 314.4 141.1 316.5 139.1 318.5 137.6 320.5 136.4 322.6 134.2 324.6 132.1 326.6 130.8 328.7 129.2 330.7 127.9 332.7 126.6 334.7 124.7 336.8 123.1 338.8 121.6 340.8 121.0 342.9 120.2 344.9 120.4 346.9 120.8 349.0 121.9 351.0 123.3 353.0 123.7 355.1 123.6 357.1 124.8 359.1 126.4 361.2 126.3 363.2 126.9 365.2 127.6 367.3 128.5 369.3 129.3 371.3 129.3 373.4 129.1 375.4 130.2 377.4 130.8 379.5 131.6 381.5 132.6 383.5 132.2 385.5 132.2 387.6 133.1 389.6 133.5 391.6 133.9 393.7 133.7 395.7 133.0 397.7 132.9 399.8 133.1 401.8 134.6 403.8 135.2 405.9 136.0 407.9 137.2 409.9 138.4 412.0 139.3 414.0 140.3 416.0 140.7 418.1 141.9 420.1 143.4 422.1 144.4 424.2 145.5 426.2 147.0 428.2 148.7 430.3 150.5 432.3 150.5 434.3 151.0 436.3 151.0 438.4 151.0 440.4 151.0 442.4 151.0 444.5 151.0 446.5 151.0 448.5 151.0 450.6 151.0 452.6 151.0 454.6 151.0 456.7 151.0 458.7 151.0 460.7 151.0 462.8 151.0 464.8 151.0 466.8 151.0 468.9 151.0 470.9 151.0 472.9 151.0 475.0 151.0 477.0 151.0 479.0 151.0 481.1 151.0 483.1 151.0 485.1 151.0 487.1 151.0 489.2 151.0 491.2 151.0 493.2 151.0 495.3 151.0 497.3 151.0 499.3 151.0 501.4 151.0 503.4 151.0 505.4 151.0 507.5 151.0 509.5 151.0"/>
<path d="M306.3 144.3 308.3 143.2 310.4 142.4 312.4 141.2 314.4 139.6 316.5 138.5 318.5 137.4 320.5 135.4 322.6 132.8 324.6 130.4 326.6 128.9 328.7 128.4 330.7 127.4 332.7 126.2 334.7 125.6 336.8 125.4 338.8 124.3 340.8 123.7 342.9 124.9 344.9 125.6 346.9 125.3 349.0 125.9 351.0 125.5 353.0 125.0 355.1 125.6 357.1 126.3 359.1 126.7 361.2 126.9 363.2 126.2 365.2 125.2 367.3 125.6 369.3 126.3 371.3 127.6 373.4 129.0 375.4 129.3 377.4 129.0 379.5 129.5 381.5 130.4 383.5 131.1 385.5 131.8 387.6 132.3 389.6 133.1 391.6 133.4 393.7 133.4 395.7 132.5 397.7 133.3 399.8 134.4 401.8 134.9 403.8 135.5 405.9 136.9 407.9 137.5 409.9 138.8 412.0 139.8 414.0 141.0 416.0 141.9 418.1 142.0 420.1 143.4 422.1 143.9 424.2 143.8 426.2 145.0 428.2 146.7 430.3 147.7 432.3 148.6 434.3 150.3 436.3 151.0 438.4 151.0 440.4 151.0 442.4 151.0 444.5 151.0 446.5 151.0 448.5 151.0 450.6 151.0 452.6 151.0 454.6 151.0 456.7 151.0 458.7 151.0 460.7 151.0 462.8 151.0 464.8 151.0 466.8 151.0 468.9 151.0 470.9 151.0 472.9 151.0 475.0 151.0 477.0 151.0 479.0 151.0 481.1 151.0 483.1 151.0 485.1 151.0 487.1 151.0 489.2 151.0 491.2 151.0 493.2 151.0 495.3 151.0 497.3 151.0 499.3 151.0 501.4 151.0 503.4 151.0 505.4 151.0 507.5 151.0 509.5 151.0"/>
<path d="M306.3 147.0 308.3 145.5 310.4 143.9 312.4 142.3 314.4 142.0 316.5 141.6 318.5 140.3 320.5 139.4 322.6 138.7 324.6 138.0 326.6 137.2 328.7 136.4 330.7 135.7 332.7 135.3 334.7 135.1 336.8 134.1 338.8 133.9 340.8 134.5 342.9 134.5 344.9 134.8 346.9 135.9 349.0 136.1 351.0 135.9 353.0 136.4 355.1 136.7 357.1 136.3 359.1 135.7 361.2 136.2 363.2 137.5 365.2 137.6 367.3 138.3 369.3 139.1 371.3 139.0 373.4 138.8 375.4 138.8 377.4 139.7 379.5 139.0 381.5 138.9 383.5 138.4 385.5 138.7 387.6 139.5 389.6 140.0 391.6 140.7 393.7 140.9 395.7 141.2 397.7 142.2 399.8 142.5 401.8 143.5 403.8 144.2 405.9 144.6 407.9 144.9 409.9 145.7 412.0 145.7 414.0 145.2 416.0 146.4 418.1 148.0 420.1 149.2 422.1 150.6 424.2 151.0 426.2 151.0 428.2 151.0 430.3 151.0 432.3 151.0 434.3 151.0 436.3 151.0 438.4 151.0 440.4 151.0 442.4 151.0 444.5 151.0 446.5 151.0 448.5 151.0 450.6 151.0 452.6 151.0 454.6 151.0 456.7 151.0 458.7 151.0 460.7 151.0 462.8 151.0 464.8 151.0 466.8 151.0 468.9 151.0 470.9 151.0 472.9 151.0 475.0 151.0 477.0 151.0 479.0 151.0 481.1 151.0 483.1 151.0 485.1 151.0 487.1 151.0 489.2 151.0 491.2 151.0 493.2 151.0 495.3 151.0 497.3 151.0 499.3 151.0 501.4 151.0 503.4 151.0 505.4 151.0 507.5 151.0 509.5 151.0"/>
<path d="M306.3 145.2 308.3 144.6 310.4 143.5 312.4 142.7 314.4 141.1 316.5 139.4 318.5 138.7 320.5 137.9 322.6 136.9 324.6 136.6 326.6 136.1 328.7 135.5 330.7 135.7 332.7 136.1 334.7 135.6 336.8 134.3 338.8 133.3 340.8 133.5 342.9 134.3 344.9 134.3 346.9 134.3 349.0 135.4 351.0 136.0 353.0 135.7 355.1 136.0 357.1 137.1 359.1 136.9 361.2 137.1 363.2 137.0 365.2 135.9 367.3 136.4 369.3 135.9 371.3 135.7 373.4 136.0 375.4 137.0 377.4 137.6 379.5 137.9 381.5 138.5 383.5 138.7 385.5 139.2 387.6 139.7 389.6 139.4 391.6 139.8 393.7 140.5 395.7 140.1 397.7 140.4 399.8 141.2 401.8 141.2 403.8 141.6 405.9 142.6 407.9 143.2 409.9 143.6 412.0 143.4 414.0 143.9 416.0 143.9 418.1 143.9 420.1 145.5 422.1 147.8 424.2 149.5 426.2 150.8 428.2 151.0 430.3 151.0 432.3 151.0 434.3 151.0 436.3 151.0 438.4 151.0 440.4 151.0 442.4 151.0 444.5 151.0 446.5 151.0 448.5 151.0 450.6 151.0 452.6 151.0 454.6 151.0 456.7 151.0 458.7 151.0 460.7 151.0 462.8 151.0 464.8 151.0 466.8 151.0 468.9 151.0 470.9 151.0 472.9 151.0 475.0 151.0 477.0 151.0 479.0 151.0 481.1 151.0 483.1 151.0 485.1 151.0 487.1 151.0 489.2 151.0 491.2 151.0 493.2 151.0 495.3 151.0 497.3 151.0 499.3 151.0 501.4 151.0 503.4 151.0 505.4 151.0 507.5 151.0 509.5 151.0"/>
<path d="M306.3 143.8 308.3 143.1 310.4 142.4 312.4 141.5 314.4 140.5 316.5 139.3 318.5 138.6 320.5 138.1 322.6 137.8 324.6 136.9 326.6 135.8 328.7 135.6 330.7 135.1 332.7 134.4 334.7 133.5 336.8 132.5 338.8 132.5 340.8 132.7 342.9 132.9 344.9 134.2 346.9 134.7 349.0 134.8 351.0 134.6 353.0 133.7 355.1 133.0 357.1 133.2 359.1 133.2 361.2 133.4 363.2 133.8 365.2 134.8 367.3 135.8 369.3 135.8 371.3 136.5 373.4 136.6 375.4 136.0 377.4 136.7 379.5 136.6 381.5 136.3 383.5 136.8 385.5 137.5 387.6 137.2 389.6 137.5 391.6 137.6 393.7 138.2 395.7 139.0 397.7 140.4 399.8 141.3 401.8 141.1 403.8 141.1 405.9 142.0 407.9 143.1 409.9 143.8 412.0 144.5 414.0 144.6 416.0 145.5 418.1 146.0 420.1 146.7 422.1 148.5 424.2 149.6 426.2 150.5 428.2 150.9 430.3 151.0 432.3 151.0 434.3 151.0 436.3 151.0 438.4 151.0 440.4 151.0 442.4 151.0 444.5 151.0 446.5 151.0 448.5 151.0 450.6 151.0 452.6 151.0 454.6 151.0 456.7 151.0 458.7 151.0 460.7 151.0 462.8 151.0 464.8 151.0 466.8 151.0 468.9 151.0 470.9 151.0 472.9 151.0 475.0 151.0 477.0 151.0 479.0 151.0 481.1 151.0 483.1 151.0 485.1 151.0 487.1 151.0 489.2 151.0 491.2 151.0 493.2 151.0 495.3 151.0 497.3 151.0 499.3 151.0 501.4 151.0 503.4 151.0 505.4 151.0 507.5 151.0 509.5 151.0"/>
<path d="M306.3 145.9 308.3 144.4 310.4 143.2 312.4 141.4 314.4 140.8 316.5 140.3 318.5 139.4 320.5 138.7 322.6 139.1 324.6 137.6 326.6 135.6 328.7 134.7 330.7 134.0 332.7 133.6 334.7 133.2 336.8 132.1 338.8 131.5 340.8 132.2 342.9 132.0 344.9 131.5 346.9 131.8 349.0 132.9 351.0 132.7 353.0 133.9 355.1 134.6 357.1 134.4 359.1 134.4 361.2 134.6 363.2 134.3 365.2 134.3 367.3 134.9 369.3 136.0 371.3 136.6 373.4 136.7 375.4 137.3 377.4 138.6 379.5 138.6 381.5 138.4 383.5 138.6 385.5 138.6 387.6 140.0 389.6 140.9 391.6 141.2 393.7 140.5 395.7 139.6 397.7 140.5 399.8 141.4 401.8 141.5 403.8 141.8 405.9 142.1 407.9 142.0 409.9 142.1 412.0 142.8 414.0 143.2 416.0 144.5 418.1 145.1 420.1 146.0 422.1 147.7 424.2 149.5 426.2 150.8 428.2 151.0 430.3 151.0 432.3 151.0 434.3 151.0 436.3 151.0 438.4 151.0 440.4 151.0 442.4 151.0 444.5 151.0 446.5 151.0 448.5 151.0 450.6 151.0 452.6 151.0 454.6 151.0 456.7 151.0 458.7 151.0 460.7 151.0 462.8 151.0 464.8 151.0 466.8 151.0 468.9 151.0 470.9 151.0 472.9 151.0 475.0 151.0 477.0 151.0 479.0 151.0 481.1 151.0 483.1 151.0 485.1 151.0 487.1 151.0 489.2 151.0 491.2 151.0 493.2 151.0 495.3 151.0 497.3 151.0 499.3 151.0 501.4 151.0 503.4 151.0 505.4 151.0 507.5 151.0 509.5 151.0"/>
<path d="M306.3 143.9 308.3 143.4 310.4 143.1 312.4 142.8 314.4 141.4 316.5 141.0 318.5 140.2 320.5 139.6 322.6 138.3 324.6 136.4 326.6 135.6 328.7 135.2 330.7 134.8 332.7 134.7 334.7 133.9 336.8 133.0 338.8 132.2 340.8 131.3 342.9 131.4 344.9 131.6 346.9 131.9 349.0 132.2 351.0 132.0 353.0 132.4 355.1 133.0 357.1 133.5 359.1 133.8 361.2 134.6 363.2 134.2 365.2 134.3 367.3 134.7 369.3 134.4 371.3 135.0 373.4 135.1 375.4 135.2 377.4 136.6 379.5 137.9 381.5 138.1 383.5 138.2 385.5 138.4 387.6 139.2 389.6 139.9 391.6 139.8 393.7 139.1 395.7 139.7 397.7 141.0 399.8 140.9 401.8 141.1 403.8 140.8 405.9 141.3 407.9 142.4 409.9 143.4 412.0 143.2 414.0 142.8 416.0 143.1 418.1 143.7 420.1 143.8 422.1 143.2 424.2 143.2 426.2 144.7 428.2 146.7 430.3 149.2 432.3 151.0 434.3 151.0 436.3 151.0 438.4 151.0 440.4 151.0 442.4 151.0 444.5 151.0 446.5 151.0 448.5 151.0 450.6 151.0 452.6 151.0 454.6 151.0 456.7 151.0 458.7 151.0 460.7 151.0 462.8 151.0 464.8 151.0 466.8 151.0 468.9 151.0 470.9 151.0 472.9 151.0 475.0 151.0 477.0 151.0 479.0 151.0 481.1 151.0 483.1 151.0 485.1 151.0 487.1 151.0 489.2 151.0 491.2 151.0 493.2 151.0 495.3 151.0 497.3 151.0 499.3 151.0 501.4 151.0 503.4 151.0 505.4 151.0 507.5 151.0 509.5 151.0"/>
<path d="M306.3 146.2 308.3 146.0 310.4 144.7 312.4 143.9 314.4 142.1 316.5 140.3 318.5 139.6 320.5 138.7 322.6 137.4 324.6 136.2 326.6 136.4 328.7 134.8 330.7 133.1 332.7 133.0 334.7 132.0 336.8 131.1 338.8 130.8 340.8 130.3 342.9 130.2 344.9 131.2 346.9 131.1 349.0 130.8 351.0 130.3 353.0 130.2 355.1 130.3 357.1 131.1 359.1 132.1 361.2 133.1 363.2 134.3 365.2 135.1 367.3 134.8 369.3 135.1 371.3 136.3 373.4 136.4 375.4 136.9 377.4 137.2 379.5 137.5 381.5 138.0 383.5 138.3 385.5 138.7 387.6 137.5 389.6 136.7 391.6 138.4 393.7 139.5 395.7 139.2 397.7 139.0 399.8 139.3 401.8 139.2 403.8 140.3 405.9 140.0 407.9 140.6 409.9 141.3 412.0 141.7 414.0 141.9 416.0 142.4 418.1 142.8 420.1 144.5 422.1 146.0 424.2 148.0 426.2 150.7 428.2 151.0 430.3 151.0 432.3 151.0 434.3 151.0 436.3 151.0 438.4 151.0 440.4 151.0 442.4 151.0 444.5 151.0 446.5 151.0 448.5 151.0 450.6 151.0 452.6 151.0 454.6 151.0 456.7 151.0 458.7 151.0 460.7 151.0 462.8 151.0 464.8 151.0 466.8 151.0 468.9 151.0 470.9 151.0 472.9 151.0 475.0 151.0 477.0 151.0 479.0 151.0 481.1 151.0 483.1 151.0 485.1 151.0 487.1 151.0 489.2 151.0 491.2 151.0 493.2 151.0 495.3 151.0 497.3 151.0 499.3 151.0 501.4 151.0 503.4 151.0 505.4 151.0 507.5 151.0 509.5 151.0"/>
<path d="M306.3 143.5 308.3 142.1 310.4 141.7 312.4 140.9 314.4 139.4 316.5 139.6 318.5 138.2 320.5 136.8 322.6 136.5 324.6 135.4 326.6 133.1 328.7 132.3 330.7 131.2 332.7 131.0 334.7 130.0 336.8 128.2 338.8 127.0 340.8 127.4 342.9 127.7 344.9 127.5 346.9 127.9 349.0 129.3 351.0 129.8 353.0 131.0 355.1 131.0 357.1 130.9 359.1 131.1 361.2 132.1 363.2 133.4 365.2 133.5 367.3 133.9 369.3 134.4 371.3 134.4 373.4 135.3 375.4 135.7 377.4 135.4 379.5 135.6 381.5 136.5 383.5 137.1 385.5 136.7 387.6 137.1 389.6 138.4 391.6 139.0 393.7 138.8 395.7 137.6 397.7 137.7 399.8 138.4 401.8 138.7 403.8 138.9 405.9 140.2 407.9 140.9 409.9 141.0 412.0 142.0 414.0 143.2 416.0 144.6 418.1 145.5 420.1 147.0 422.1 149.0 424.2 150.5 426.2 150.9 428.2 151.0 430.3 151.0 432.3 151.0 434.3 151.0 436.3 151.0 438.4 151.0 440.4 151.0 442.4 151.0 444.5 151.0 446.5 151.0 448.5 151.0 450.6 151.0 452.6 151.0 454.6 151.0 456.7 151.0 458.7 151.0 460.7 151.0 462.8 151.0 464.8 151.0 466.8 151.0 468.9 151.0 470.9 151.0 472.9 151.0 475.0 151.0 477.0 151.0 479.0 151.0 481.1 151.0 483.1 151.0 485.1 151.0 487.1 151.0 489.2 151.0 491.2 151.0 493.2 151.0 495.3 151.0 497.3 151.0 499.3 151.0 501.4 151.0 503.4 151.0 505.4 151.0 507.5 151.0 509.5 151.0"/>
<path d="M306.3 145.3 308.3 144.7 310.4 144.2 312.4 143.0 314.4 141.6 316.5 140.3 318.5 139.1 320.5 138.2 322.6 137.3 324.6 135.7 326.6 134.4 328.7 133.9 330.7 132.0 332.7 130.7 334.7 130.7 336.8 129.6 338.8 127.6 340.8 127.0 342.9 127.2 344.9 127.5 346.9 128.0 349.0 128.1 351.0 127.2 353.0 126.7 355.1 127.7 357.1 128.7 359.1 128.9 361.2 128.8 363.2 129.3 365.2 129.8 367.3 130.3 369.3 131.3 371.3 131.9 373.4 132.7 375.4 132.2 377.4 132.3 379.5 133.7 381.5 134.6 383.5 134.0 385.5 133.5 387.6 134.2 389.6 135.5 391.6 135.2 393.7 135.3 395.7 135.0 397.7 134.5 399.8 135.1 401.8 137.2 403.8 138.8 405.9 139.4 407.9 140.0 409.9 141.2 412.0 142.3 414.0 142.5 416.0 143.2 418.1 144.3 420.1 144.5 422.1 144.9 424.2 146.5 426.2 148.2 428.2 149.6 430.3 151.0 432.3 151.0 434.3 151.0 436.3 151.0 438.4 151.0 440.4 151.0 442.4 151.0 444.5 151.0 446.5 151.0 448.5 151.0 450.6 151.0 452.6 151.0 454.6 151.0 456.7 151.0 458.7 151.0 460.7 151.0 462.8 151.0 464.8 151.0 466.8 151.0 468.9 151.0 470.9 151.0 472.9 151.0 475.0 151.0 477.0 151.0 479.0 151.0 481.1 151.0 483.1 151.0 485.1 151.0 487.1 151.0 489.2 151.0 491.2 151.0 493.2 151.0 495.3 151.0 497.3 151.0 499.3 151.0 501.4 151.0 503.4 151.0 505.4 151.0 507.5 151.0 509.5 151.0"/>
<path d="M306.3 141.9 308.3 141.3 310.4 141.2 312.4 139.9 314.4 138.6 316.5 137.6 318.5 137.0 320.5 136.1 322.6 134.7 324.6 133.6 326.6 132.2 328.7 130.6 330.7 128.6 332.7 127.4 334.7 127.0 336.8 126.0 338.8 124.5 340.8 124.4 342.9 124.5 344.9 124.9 346.9 125.5 349.0 126.7 351.0 126.6 353.0 126.6 355.1 126.9 357.1 126.4 359.1 127.1 361.2 127.8 363.2 128.7 365.2 129.4 367.3 129.7 369.3 129.5 371.3 130.0 373.4 130.3 375.4 130.0 377.4 131.0 379.5 132.5 381.5 132.9 383.5 133.4 385.5 133.8 387.6 134.7 389.6 136.2 391.6 136.8 393.7 138.1 395.7 138.4 397.7 137.2 399.8 138.3 401.8 139.0 403.8 138.8 405.9 138.5 407.9 139.0 409.9 139.0 412.0 139.5 414.0 140.2 416.0 140.7 418.1 141.3 420.1 142.6 422.1 144.3 424.2 146.8 426.2 149.1 428.2 150.7 430.3 151.0 432.3 151.0 434.3 151.0 436.3 151.0 438.4 151.0 440.4 151.0 442.4 151.0 444.5 151.0 446.5 151.0 448.5 151.0 450.6 151.0 452.6 151.0 454.6 151.0 456.7 151.0 458.7 151.0 460.7 151.0 462.8 151.0 464.8 151.0 466.8 151.0 468.9 151.0 470.9 151.0 472.9 151.0 475.0 151.0 477.0 151.0 479.0 151.0 481.1 151.0 483.1 151.0 485.1 151.0 487.1 151.0 489.2 151.0 491.2 151.0 493.2 151.0 495.3 151.0 497.3 151.0 499.3 151.0 501.4 151.0 503.4 151.0 505.4 151.0 507.5 151.0 509.5 151.0"/>
<path d="M306.3 145.9 308.3 145.5 310.4 144.6 312.4 142.7 314.4 141.6 316.5 141.1 318.5 139.7 320.5 137.6 322.6 136.9 324.6 135.9 326.6 133.8 328.7 132.3 330.7 131.2 332.7 129.2 334.7 127.0 336.8 126.2 338.8 125.4 340.8 124.3 342.9 124.6 344.9 125.0 346.9 126.2 349.0 126.8 351.0 126.4 353.0 126.4 355.1 125.7 357.1 126.8 359.1 127.1 361.2 127.4 363.2 127.9 365.2 128.4 367.3 129.2 369.3 129.1 371.3 128.3 373.4 129.3 375.4 131.6 377.4 132.7 379.5 133.4 381.5 133.4 383.5 134.0 385.5 134.7 387.6 134.7 389.6 135.0 391.6 133.9 393.7 133.2 395.7 134.2 397.7 135.9 399.8 136.4 401.8 136.7 403.8 136.5 405.9 136.4 407.9 136.9 409.9 137.5 412.0 137.5 414.0 138.6 416.0 140.1 418.1 141.7 420.1 141.7 422.1 141.7 424.2 143.3 426.2 144.2 428.2 144.9 430.3 145.9 432.3 147.2 434.3 149.0 436.3 150.9 438.4 151.0 440.4 151.0 442.4 151.0 444.5 151.0 446.5 151.0 448.5 151.0 450.6 151.0 452.6 151.0 454.6 151.0 456.7 151.0 458.7 151.0 460.7 151.0 462.8 151.0 464.8 151.0 466.8 151.0 468.9 151.0 470.9 151.0 472.9 151.0 475.0 151.0 477.0 151.0 479.0 151.0 481.1 151.0 483.1 151.0 485.1 151.0 487.1 151.0 489.2 151.0 491.2 151.0 493.2 151.0 495.3 151.0 497.3 151.0 499.3 151.0 501.4 151.0 503.4 151.0 505.4 151.0 507.5 151.0 509.5 151.0"/>
<path d="M306.3 145.0 308.3 143.8 310.4 142.5 312.4 140.8 314.4 139.3 316.5 138.2 318.5 136.7 320.5 135.1 322.6 133.6 324.6 132.5 326.6 131.2 328.7 129.7 330.7 129.3 332.7 127.7 334.7 125.9 336.8 124.8 338.8 122.9 340.8 122.2 342.9 122.9 344.9 122.7 346.9 122.3 349.0 123.5 351.0 124.8 353.0 125.7 355.1 125.9 357.1 126.7 359.1 126.5 361.2 125.5 363.2 125.7 365.2 126.1 367.3 126.1 369.3 126.7 371.3 127.7 373.4 128.5 375.4 129.1 377.4 130.2 379.5 130.7 381.5 130.8 383.5 131.5 385.5 131.6 387.6 132.1 389.6 133.5 391.6 133.4 393.7 133.6 395.7 135.1 397.7 136.1 399.8 137.1 401.8 137.1 403.8 137.9 405.9 138.2 407.9 138.5 409.9 139.2 412.0 138.8 414.0 139.4 416.0 139.9 418.1 141.0 420.1 142.1 422.1 142.2 424.2 142.8 426.2 144.0 428.2 144.9 430.3 145.9 432.3 147.8 434.3 149.3 436.3 150.9 438.4 151.0 440.4 151.0 442.4 151.0 444.5 151.0 446.5 151.0 448.5 151.0 450.6 151.0 452.6 151.0 454.6 151.0 456.7 151.0 458.7 151.0 460.7 151.0 462.8 151.0 464.8 151.0 466.8 151.0 468.9 151.0 470.9 151.0 472.9 151.0 475.0 151.0 477.0 151.0 479.0 151.0 481.1 151.0 483.1 151.0 485.1 151.0 487.1 151.0 489.2 151.0 491.2 151.0 493.2 151.0 495.3 151.0 497.3 151.0 499.3 151.0 501.4 151.0 503.4 151.0 505.4 151.0 507.5 151.0 509.5 151.0"/>
<path d="M306.3 147.1 308.3 145.8 310.4 144.9 312.4 143.9 314.4 143.5 316.5 142.6 318.5 141.4 320.5 141.4 322.6 142.0 324.6 142.0 326.6 141.3 328.7 141.2 330.7 141.0 332.7 141.1 334.7 141.4 336.8 141.0 338.8 139.3 340.8 138.9 342.9 139.4 344.9 139.5 346.9 140.0 349.0 140.0 351.0 139.5 353.0 139.6 355.1 140.2 357.1 139.6 359.1 140.2 361.2 140.2 363.2 140.5 365.2 140.1 367.3 139.8 369.3 140.1 371.3 141.0 373.4 140.8 375.4 141.4 377.4 142.0 379.5 142.3 381.5 142.5 383.5 143.6 385.5 143.3 387.6 143.7 389.6 144.1 391.6 144.5 393.7 144.8 395.7 145.5 397.7 145.5 399.8 144.9 401.8 145.3 403.8 144.9 405.9 144.7 407.9 144.8 409.9 146.0 412.0 146.3 414.0 146.4 416.0 146.9 418.1 148.3 420.1 149.4 422.1 150.3 424.2 151.0 426.2 151.0 428.2 151.0 430.3 151.0 432.3 151.0 434.3 151.0 436.3 151.0 438.4 151.0 440.4 151.0 442.4 151.0 444.5 151.0 446.5 151.0 448.5 151.0 450.6 151.0 452.6 151.0 454.6 151.0 456.7 151.0 458.7 151.0 460.7 151.0 462.8 151.0 464.8 151.0 466.8 151.0 468.9 151.0 470.9 151.0 472.9 151.0 475.0 151.0 477.0 151.0 479.0 151.0 481.1 151.0 483.1 151.0 485.1 151.0 487.1 151.0 489.2 151.0 491.2 151.0 493.2 151.0 495.3 151.0 497.3 151.0 499.3 151.0 501.4 151.0 503.4 151.0 505.4 151.0 507.5 151.0 509.5 151.0"/>
<path d="M306.3 148.2 308.3 148.0 310.4 148.3 312.4 148.0 314.4 146.5 316.5 145.6 318.5 144.3 320.5 143.9 322.6 143.3 324.6 143.3 326.6 142.6 328.7 142.1 330.7 141.6 332.7 141.3 334.7 140.7 336.8 140.0 338.8 140.1 340.8 138.9 342.9 138.3 344.9 138.4 346.9 138.7 349.0 139.3 351.0 140.2 353.0 141.3 355.1 141.3 357.1 141.8 359.1 141.5 361.2 140.9 363.2 141.0 365.2 141.9 367.3 141.5 369.3 141.3 371.3 141.2 373.4 141.8 375.4 142.3 377.4 142.4 379.5 143.0 381.5 144.5 383.5 144.9 385.5 145.2 387.6 144.7 389.6 144.8 391.6 145.2 393.7 145.5 395.7 145.0 397.7 144.5 399.8 144.2 401.8 144.5 403.8 145.0 405.9 145.3 407.9 145.3 409.9 145.8 412.0 146.1 414.0 146.1 416.0 146.8 418.1 147.8 420.1 149.6 422.1 150.3 424.2 150.8 426.2 151.0 428.2 151.0 430.3 151.0 432.3 151.0 434.3 151.0 436.3 151.0 438.4 151.0 440.4 151.0 442.4 151.0 444.5 151.0 446.5 151.0 448.5 151.0 450.6 151.0 452.6 151.0 454.6 151.0 456.7 151.0 458.7 151.0 460.7 151.0 462.8 151.0 464.8 151.0 466.8 151.0 468.9 151.0 470.9 151.0 472.9 151.0 475.0 151.0 477.0 151.0 479.0 151.0 481.1 151.0 483.1 151.0 485.1 151.0 487.1 151.0 489.2 151.0 491.2 151.0 493.2 151.0 495.3 151.0 497.3 151.0 499.3 151.0 501.4 151.0 503.4 151.0 505.4 151.0 507.5 151.0 509.5 151.0"/>
<path d="M306.3 147.6 308.3 146.7 310.4 145.9 312.4 146.1 314.4 145.5 316.5 144.2 318.5 143.8 320.5 143.8 322.6 144.7 324.6 144.6 326.6 144.2 328.7 144.2 330.7 143.7 332.7 143.3 334.7 143.3 336.8 142.6 338.8 141.7 340.8 141.1 342.9 141.2 344.9 141.5 346.9 141.4 349.0 141.4 351.0 141.8 353.0 142.2 355.1 142.1 357.1 142.6 359.1 143.3 361.2 143.5 363.2 143.2 365.2 144.2 367.3 144.7 369.3 145.8 371.3 145.9 373.4 145.4 375.4 146.4 377.4 147.1 379.5 146.7 381.5 146.3 383.5 146.7 385.5 147.1 387.6 146.6 389.6 146.2 391.6 146.5 393.7 147.1 395.7 147.6 397.7 147.2 399.8 147.7 401.8 148.4 403.8 148.1 405.9 147.5 407.9 146.9 409.9 146.9 412.0 147.0 414.0 147.2 416.0 147.7 418.1 148.8 420.1 150.0 422.1 150.7 424.2 151.0 426.2 151.0 428.2 151.0 430.3 151.0 432.3 151.0 434.3 151.0 436.3 151.0 438.4 151.0 440.4 151.0 442.4 151.0 444.5 151.0 446.5 151.0 448.5 151.0 450.6 151.0 452.6 151.0 454.6 151.0 456.7 151.0 458.7 151.0 460.7 151.0 462.8 151.0 464.8 151.0 466.8 151.0 468.9 151.0 470.9 151.0 472.9 151.0 475.0 151.0 477.0 151.0 479.0 151.0 481.1 151.0 483.1 151.0 485.1 151.0 487.1 151.0 489.2 151.0 491.2 151.0 493.2 151.0 495.3 151.0 497.3 151.0 499.3 151.0 501.4 151.0 503.4 151.0 505.4 151.0 507.5 151.0 509.5 151.0"/>
<path d="M306.3 147.6 308.3 146.5 310.4 147.0 312.4 147.4 314.4 147.6 316.5 146.4 318.5 146.1 320.5 146.0 322.6 145.9 324.6 145.1 326.6 144.9 328.7 145.3 330.7 144.8 332.7 143.9 334.7 143.9 336.8 143.9 338.8 144.2 340.8 144.6 342.9 145.3 344.9 145.8 346.9 146.3 349.0 145.9 351.0 145.3 353.0 145.6 355.1 145.9 357.1 147.0 359.1 146.9 361.2 146.1 363.2 145.8 365.2 146.1 367.3 145.3 369.3 145.1 371.3 144.9 373.4 144.9 375.4 144.5 377.4 144.4 379.5 145.5 381.5 146.5 383.5 146.8 385.5 147.7 387.6 148.4 389.6 147.9 391.6 147.6 393.7 148.1 395.7 148.7 397.7 149.3 399.8 149.7 401.8 149.0 403.8 149.0 405.9 149.5 407.9 149.7 409.9 150.0 412.0 149.8 414.0 149.3 416.0 149.9 418.1 150.5 420.1 151.0 422.1 151.0 424.2 151.0 426.2 151.0 428.2 151.0 430.3 151.0 432.3 151.0 434.3 151.0 436.3 151.0 438.4 151.0 440.4 151.0 442.4 151.0 444.5 151.0 446.5 151.0 448.5 151.0 450.6 151.0 452.6 151.0 454.6 151.0 456.7 151.0 458.7 151.0 460.7 151.0 462.8 151.0 464.8 151.0 466.8 151.0 468.9 151.0 470.9 151.0 472.9 151.0 475.0 151.0 477.0 151.0 479.0 151.0 481.1 151.0 483.1 151.0 485.1 151.0 487.1 151.0 489.2 151.0 491.2 151.0 493.2 151.0 495.3 151.0 497.3 151.0 499.3 151.0 501.4 151.0 503.4 151.0 505.4 151.0 507.5 151.0 509.5 151.0"/>
<path d="M306.3 148.6 308.3 148.5 310.4 148.1 312.4 147.6 314.4 147.0 316.5 146.6 318.5 146.9 320.5 146.8 322.6 146.6 324.6 146.3 326.6 146.2 328.7 146.6 330.7 148.0 332.7 148.1 334.7 147.4 336.8 146.5 338.8 146.1 340.8 145.8 342.9 146.4 344.9 146.8 346.9 146.1 349.0 145.7 351.0 145.1 353.0 145.1 355.1 145.4 357.1 145.4 359.1 145.5 361.2 145.7 363.2 146.0 365.2 146.5 367.3 147.0 369.3 147.6 371.3 147.8 373.4 148.6 375.4 148.3 377.4 147.5 379.5 146.6 381.5 146.4 383.5 146.5 385.5 147.1 387.6 146.4 389.6 146.4 391.6 146.5 393.7 146.2 395.7 146.2 397.7 147.0 399.8 147.4 401.8 147.5 403.8 147.4 405.9 147.8 407.9 148.0 409.9 147.7 412.0 148.4 414.0 149.5 416.0 150.1 418.1 150.8 420.1 151.0 422.1 151.0 424.2 151.0 426.2 151.0 428.2 151.0 430.3 151.0 432.3 151.0 434.3 151.0 436.3 151.0 438.4 151.0 440.4 151.0 442.4 151.0 444.5 151.0 446.5 151.0 448.5 151.0 450.6 151.0 452.6 151.0 454.6 151.0 456.7 151.0 458.7 151.0 460.7 151.0 462.8 151.0 464.8 151.0 466.8 151.0 468.9 151.0 470.9 151.0 472.9 151.0 475.0 151.0 477.0 151.0 479.0 151.0 481.1 151.0 483.1 151.0 485.1 151.0 487.1 151.0 489.2 151.0 491.2 151.0 493.2 151.0 495.3 151.0 497.3 151.0 499.3 151.0 501.4 151.0 503.4 151.0 505.4 151.0 507.5 151.0 509.5 151.0"/>
<path d="M306.3 148.9 308.3 148.5 310.4 147.8 312.4 147.2 314.4 147.4 316.5 146.4 318.5 145.9 320.5 146.5 322.6 146.5 324.6 146.0 326.6 146.4 328.7 145.0 330.7 143.8 332.7 144.3 334.7 145.4 336.8 145.1 338.8 145.5 340.8 145.9 342.9 146.3 344.9 147.1 346.9 148.0 349.0 148.6 351.0 148.4 353.0 148.1 355.1 148.0 357.1 146.9 359.1 146.4 361.2 146.6 363.2 147.2 365.2 147.7 367.3 147.3 369.3 147.8 371.3 148.1 373.4 148.7 375.4 148.6 377.4 148.9 379.5 147.7 381.5 146.9 383.5 146.9 385.5 147.1 387.6 146.8 389.6 146.4 391.6 146.5 393.7 147.1 395.7 147.6 397.7 147.8 399.8 148.6 401.8 149.4 403.8 149.5 405.9 149.5 407.9 149.4 409.9 149.7 412.0 149.8 414.0 150.1 416.0 150.6 418.1 150.8 420.1 151.0 422.1 151.0 424.2 151.0 426.2 151.0 428.2 151.0 430.3 151.0 432.3 151.0 434.3 151.0 436.3 151.0 438.4 151.0 440.4 151.0 442.4 151.0 444.5 151.0 446.5 151.0 448.5 151.0 450.6 151.0 452.6 151.0 454.6 151.0 456.7 151.0 458.7 151.0 460.7 151.0 462.8 151.0 464.8 151.0 466.8 151.0 468.9 151.0 470.9 151.0 472.9 151.0 475.0 151.0 477.0 151.0 479.0 151.0 481.1 151.0 483.1 151.0 485.1 151.0 487.1 151.0 489.2 151.0 491.2 151.0 493.2 151.0 495.3 151.0 497.3 151.0 499.3 151.0 501.4 151.0 503.4 151.0 505.4 151.0 507.5 151.0 509.5 151.0"/>
<path d="M306.3 150.1 308.3 150.1 310.4 149.6 312.4 149.7 314.4 149.9 316.5 149.8 318.5 149.4 320.5 149.5 322.6 149.5 324.6 149.7 326.6 149.4 328.7 149.5 330.7 149.9 332.7 150.2 334.7 149.9 336.8 149.4 338.8 149.2 340.8 149.6 342.9 149.7 344.9 149.4 346.9 149.5 349.0 150.0 351.0 150.0 353.0 150.0 355.1 148.9 357.1 148.3 359.1 147.4 361.2 148.0 363.2 148.9 365.2 149.6 367.3 149.3 369.3 148.7 371.3 148.4 373.4 149.0 375.4 149.1 377.4 148.9 379.5 149.2 381.5 149.1 383.5 148.5 385.5 148.3 387.6 149.0 389.6 149.7 391.6 149.7 393.7 149.7 395.7 149.8 397.7 149.9 399.8 150.2 401.8 150.1 403.8 150.5 405.9 150.7 407.9 150.6 409.9 150.3 412.0 149.9 414.0 149.6 416.0 149.7 418.1 150.2 420.1 150.7 422.1 151.0 424.2 151.0 426.2 151.0 428.2 151.0 430.3 151.0 432.3 151.0 434.3 151.0 436.3 151.0 438.4 151.0 440.4 151.0 442.4 151.0 444.5 151.0 446.5 151.0 448.5 151.0 450.6 151.0 452.6 151.0 454.6 151.0 456.7 151.0 458.7 151.0 460.7 151.0 462.8 151.0 464.8 151.0 466.8 151.0 468.9 151.0 470.9 151.0 472.9 151.0 475.0 151.0 477.0 151.0 479.0 151.0 481.1 151.0 483.1 151.0 485.1 151.0 487.1 151.0 489.2 151.0 491.2 151.0 493.2 151.0 495.3 151.0 497.3 151.0 499.3 151.0 501.4 151.0 503.4 151.0 505.4 151.0 507.5 151.0 509.5 151.0"/>
<path d="M306.3 150.5 308.3 150.4 310.4 150.1 312.4 150.0 314.4 150.2 316.5 150.1 318.5 150.0 320.5 149.8 322.6 149.8 324.6 149.7 326.6 149.6 328.7 149.5 330.7 149.4 332.7 149.5 334.7 149.3 336.8 149.3 338.8 149.0 340.8 148.6 342.9 149.0 344.9 149.1 346.9 149.2 349.0 149.1 351.0 149.2 353.0 149.3 355.1 149.2 357.1 149.5 359.1 149.4 361.2 149.0 363.2 149.0 365.2 149.1 367.3 149.2 369.3 149.1 371.3 149.0 373.4 149.3 375.4 149.4 377.4 149.0 379.5 148.8 381.5 149.3 383.5 149.4 385.5 149.5 387.6 149.5 389.6 149.5 391.6 149.9 393.7 150.2 395.7 150.4 397.7 150.4 399.8 150.4 401.8 150.4 403.8 150.2 405.9 150.3 407.9 150.5 409.9 150.5 412.0 150.5 414.0 150.7 416.0 150.8 418.1 151.0 420.1 151.0 422.1 151.0 424.2 151.0 426.2 151.0 428.2 151.0 430.3 151.0 432.3 151.0 434.3 151.0 436.3 151.0 438.4 151.0 440.4 151.0 442.4 151.0 444.5 151.0 446.5 151.0 448.5 151.0 450.6 151.0 452.6 151.0 454.6 151.0 456.7 151.0 458.7 151.0 460.7 151.0 462.8 151.0 464.8 151.0 466.8 151.0 468.9 151.0 470.9 151.0 472.9 151.0 475.0 151.0 477.0 151.0 479.0 151.0 481.1 151.0 483.1 151.0 485.1 151.0 487.1 151.0 489.2 151.0 491.2 151.0 493.2 151.0 495.3 151.0 497.3 151.0 499.3 151.0 501.4 151.0 503.4 151.0 505.4 151.0 507.5 151.0 509.5 151.0"/>
<path d="M306.3 207.3 308.3 207.3 310.4 207.3 312.4 207.3 314.4 207.3 316.5 207.3 318.5 207.3 320.5 207.3 322.6 207.3 324.6 207.3 326.6 207.3 328.7 207.3 330.7 207.3 332.7 207.3 334.7 207.3 336.8 207.3 338.8 207.3 340.8 207.3 342.9 207.3 344.9 207.3 346.9 207.3 349.0 207.3 351.0 207.3 353.0 207.3 355.1 207.3 357.1 207.3 359.1 207.3 361.2 207.3 363.2 207.3 365.2 207.3 367.3 207.3 369.3 207.3 371.3 207.3 373.4 207.3 375.4 207.3 377.4 207.3 379.5 207.3 381.5 207.3 383.5 207.3 385.5 206.4 387.6 205.4 389.6 204.2 391.6 203.5 393.7 203.9 395.7 203.8 397.7 203.2 399.8 201.6 401.8 200.0 403.8 199.6 405.9 199.3 407.9 199.5 409.9 199.8 412.0 199.6 414.0 198.6 416.0 198.3 418.1 198.5 420.1 197.1 422.1 195.0 424.2 192.8 426.2 191.3 428.2 189.6 430.3 186.9 432.3 184.2 434.3 183.5 436.3 182.0 438.4 180.1 440.4 180.0 442.4 180.5 444.5 180.0 446.5 180.2 448.5 180.3 450.6 179.8 452.6 178.5 454.6 177.9 456.7 177.5 458.7 177.8 460.7 178.0 462.8 177.6 464.8 177.0 466.8 177.8 468.9 177.7 470.9 177.2 472.9 177.4 475.0 176.1 477.0 175.0 479.0 174.9 481.1 175.4 483.1 176.7 485.1 177.9 487.1 178.6 489.2 180.2 491.2 182.1 493.2 184.4 495.3 186.2 497.3 188.1 499.3 190.5 501.4 192.2 503.4 194.8 505.4 197.6 507.5 199.9 509.5 202.0"/>
<path d="M306.3 207.3 308.3 207.3 310.4 207.3 312.4 207.3 314.4 207.3 316.5 207.3 318.5 207.3 320.5 207.3 322.6 207.3 324.6 207.3 326.6 207.3 328.7 207.3 330.7 207.3 332.7 207.3 334.7 207.3 336.8 207.3 338.8 207.3 340.8 207.3 342.9 207.3 344.9 207.3 346.9 207.3 349.0 207.3 351.0 207.3 353.0 207.3 355.1 207.3 357.1 207.3 359.1 207.3 361.2 207.3 363.2 207.3 365.2 207.3 367.3 207.3 369.3 207.3 371.3 207.3 373.4 207.3 375.4 207.3 377.4 207.3 379.5 207.3 381.5 207.3 383.5 207.3 385.5 207.3 387.6 206.6 389.6 205.8 391.6 205.1 393.7 205.0 395.7 203.9 397.7 203.0 399.8 202.2 401.8 202.1 403.8 201.6 405.9 201.5 407.9 200.9 409.9 200.2 412.0 199.2 414.0 198.9 416.0 197.7 418.1 196.5 420.1 196.1 422.1 195.5 424.2 194.6 426.2 192.9 428.2 191.2 430.3 189.3 432.3 188.5 434.3 188.3 436.3 189.0 438.4 188.7 440.4 187.8 442.4 186.7 444.5 186.4 446.5 186.6 448.5 186.8 450.6 187.0 452.6 186.6 454.6 186.1 456.7 185.1 458.7 184.7 460.7 184.3 462.8 183.5 464.8 183.1 466.8 183.2 468.9 182.9 470.9 182.4 472.9 182.1 475.0 181.7 477.0 180.7 479.0 180.8 481.1 182.6 483.1 184.5 485.1 185.9 487.1 186.4 489.2 187.5 491.2 187.6 493.2 188.1 495.3 189.5 497.3 192.3 499.3 193.2 501.4 194.4 503.4 195.7 505.4 197.1 507.5 198.4 509.5 200.8"/>
<path d="M306.3 207.3 308.3 207.3 310.4 207.3 312.4 207.3 314.4 207.3 316.5 207.3 318.5 207.3 320.5 207.3 322.6 207.3 324.6 207.3 326.6 207.3 328.7 207.3 330.7 207.3 332.7 207.3 334.7 207.3 336.8 207.3 338.8 207.3 340.8 207.3 342.9 207.3 344.9 207.3 346.9 207.3 349.0 207.3 351.0 207.3 353.0 207.3 355.1 207.3 357.1 207.3 359.1 207.3 361.2 207.3 363.2 207.3 365.2 207.3 367.3 207.3 369.3 207.3 371.3 207.3 373.4 207.3 375.4 207.3 377.4 207.3 379.5 207.3 381.5 207.3 383.5 207.3 385.5 207.3 387.6 207.3 389.6 207.2 391.6 207.0 393.7 206.8 395.7 206.7 397.7 206.4 399.8 206.2 401.8 206.0 403.8 205.5 405.9 205.3 407.9 205.0 409.9 204.2 412.0 203.2 414.0 202.5 416.0 201.9 418.1 201.3 420.1 200.8 422.1 199.9 424.2 199.3 426.2 198.4 428.2 197.6 430.3 197.7 432.3 198.6 434.3 199.2 436.3 198.6 438.4 197.8 440.4 197.4 442.4 197.5 444.5 197.1 446.5 196.7 448.5 197.0 450.6 196.8 452.6 196.5 454.6 196.8 456.7 196.6 458.7 195.9 460.7 195.4 462.8 195.3 464.8 195.5 466.8 195.3 468.9 195.6 470.9 195.8 472.9 194.9 475.0 193.8 477.0 192.9 479.0 192.5 481.1 192.5 483.1 192.7 485.1 193.9 487.1 194.4 489.2 194.7 491.2 195.1 493.2 196.6 495.3 197.1 497.3 197.5 499.3 197.9 501.4 199.4 503.4 201.2 505.4 201.8 507.5 202.6 509.5 203.6"/>
<path d="M306.3 207.3 308.3 207.3 310.4 207.3 312.4 207.3 314.4 207.3 316.5 207.3 318.5 207.3 320.5 207.3 322.6 207.3 324.6 207.3 326.6 207.3 328.7 207.3 330.7 207.3 332.7 207.3 334.7 207.3 336.8 207.3 338.8 207.3 340.8 207.3 342.9 207.3 344.9 207.3 346.9 207.3 349.0 207.3 351.0 207.3 353.0 207.3 355.1 207.3 357.1 207.3 359.1 207.3 361.2 207.3 363.2 207.3 365.2 207.3 367.3 207.3 369.3 207.3 371.3 207.3 373.4 207.3 375.4 207.3 377.4 207.3 379.5 207.3 381.5 207.3 383.5 207.3 385.5 207.3 387.6 207.3 389.6 207.3 391.6 207.3 393.7 207.3 395.7 207.2 397.7 206.7 399.8 206.6 401.8 206.1 403.8 205.5 405.9 205.4 407.9 204.9 409.9 203.9 412.0 203.3 414.0 202.6 416.0 201.1 418.1 200.0 420.1 199.0 422.1 198.7 424.2 198.9 426.2 198.5 428.2 197.7 430.3 197.5 432.3 197.2 434.3 197.3 436.3 197.3 438.4 196.7 440.4 196.2 442.4 197.0 444.5 197.1 446.5 196.6 448.5 196.5 450.6 196.6 452.6 196.5 454.6 196.2 456.7 194.8 458.7 193.8 460.7 193.8 462.8 194.2 464.8 194.1 466.8 194.2 468.9 194.8 470.9 194.4 472.9 194.1 475.0 193.9 477.0 193.5 479.0 193.9 481.1 194.6 483.1 195.1 485.1 195.5 487.1 195.4 489.2 195.5 491.2 195.9 493.2 196.6 495.3 197.4 497.3 197.8 499.3 198.4 501.4 199.6 503.4 200.4 505.4 201.0 507.5 202.0 509.5 203.4"/>
<path d="M306.3 207.3 308.3 207.3 310.4 207.3 312.4 207.3 314.4 207.3 316.5 207.3 318.5 207.3 320.5 207.3 322.6 207.3 324.6 207.3 326.6 207.3 328.7 207.3 330.7 207.3 332.7 207.3 334.7 207.3 336.8 207.3 338.8 207.3 340.8 207.3 342.9 207.3 344.9 207.3 346.9 207.3 349.0 207.3 351.0 207.3 353.0 207.3 355.1 207.3 357.1 207.3 359.1 207.3 361.2 207.3 363.2 207.3 365.2 207.3 367.3 207.3 369.3 207.3 371.3 207.3 373.4 207.3 375.4 207.3 377.4 207.3 379.5 207.3 381.5 207.3 383.5 207.3 385.5 207.3 387.6 207.3 389.6 207.3 391.6 207.3 393.7 207.3 395.7 207.1 397.7 206.9 399.8 206.4 401.8 205.5 403.8 205.9 405.9 205.6 407.9 205.2 409.9 204.1 412.0 202.8 414.0 201.3 416.0 200.0 418.1 199.5 420.1 198.8 422.1 197.3 424.2 197.0 426.2 197.6 428.2 196.8 430.3 195.9 432.3 195.5 434.3 195.3 436.3 194.9 438.4 193.5 440.4 193.1 442.4 192.7 444.5 192.5 446.5 193.5 448.5 194.1 450.6 193.9 452.6 193.9 454.6 193.8 456.7 193.5 458.7 193.2 460.7 192.8 462.8 192.6 464.8 192.6 466.8 193.0 468.9 193.1 470.9 192.6 472.9 191.0 475.0 190.4 477.0 189.8 479.0 190.5 481.1 191.7 483.1 192.4 485.1 193.1 487.1 193.5 489.2 194.3 491.2 195.3 493.2 194.9 495.3 194.5 497.3 195.3 499.3 195.7 501.4 197.2 503.4 199.0 505.4 200.1 507.5 201.5 509.5 203.6"/>
<path d="M306.3 207.3 308.3 207.3 310.4 207.3 312.4 207.3 314.4 207.3 316.5 207.3 318.5 207.3 320.5 207.3 322.6 207.3 324.6 207.3 326.6 207.3 328.7 207.3 330.7 207.3 332.7 207.3 334.7 207.3 336.8 207.3 338.8 207.3 340.8 207.3 342.9 207.3 344.9 207.3 346.9 207.3 349.0 207.3 351.0 207.3 353.0 207.3 355.1 207.3 357.1 207.3 359.1 207.3 361.2 207.3 363.2 207.3 365.2 207.3 367.3 207.3 369.3 207.3 371.3 207.3 373.4 207.3 375.4 207.3 377.4 207.3 379.5 207.3 381.5 207.3 383.5 207.3 385.5 207.3 387.6 207.3 389.6 206.8 391.6 206.2 393.7 205.7 395.7 205.2 397.7 204.4 399.8 203.3 401.8 203.3 403.8 202.1 405.9 201.2 407.9 201.1 409.9 201.4 412.0 200.8 414.0 200.5 416.0 200.0 418.1 199.5 420.1 199.1 422.1 199.7 424.2 199.8 426.2 199.8 428.2 199.6 430.3 198.5 432.3 197.7 434.3 197.9 436.3 197.6 438.4 197.6 440.4 196.3 442.4 195.6 444.5 195.8 446.5 195.7 448.5 195.0 450.6 194.0 452.6 193.5 454.6 193.4 456.7 193.1 458.7 193.3 460.7 193.8 462.8 192.7 464.8 192.4 466.8 192.7 468.9 192.3 470.9 191.7 472.9 191.8 475.0 191.4 477.0 190.9 479.0 190.9 481.1 191.1 483.1 192.0 485.1 193.2 487.1 194.3 489.2 195.0 491.2 196.2 493.2 196.9 495.3 197.4 497.3 197.7 499.3 198.5 501.4 199.0 503.4 199.6 505.4 200.7 507.5 202.3 509.5 204.0"/>
<path d="M306.3 207.3 308.3 207.3 310.4 207.3 312.4 207.3 314.4 207.3 316.5 207.3 318.5 207.3 320.5 207.3 322.6 207.3 324.6 207.3 326.6 207.3 328.7 207.3 330.7 207.3 332.7 207.3 334.7 207.3 336.8 207.3 338.8 207.3 340.8 207.3 342.9 207.3 344.9 207.3 346.9 207.3 349.0 207.3 351.0 207.3 353.0 207.3 355.1 207.3 357.1 207.3 359.1 207.3 361.2 207.3 363.2 207.3 365.2 207.3 367.3 207.3 369.3 207.3 371.3 207.3 373.4 207.3 375.4 207.3 377.4 207.3 379.5 207.3 381.5 207.3 383.5 207.3 385.5 207.3 387.6 207.3 389.6 207.3 391.6 207.3 393.7 207.3 395.7 207.1 397.7 206.6 399.8 206.4 401.8 205.9 403.8 205.3 405.9 205.0 407.9 204.4 409.9 204.1 412.0 204.0 414.0 202.5 416.0 201.6 418.1 201.2 420.1 200.6 422.1 199.5 424.2 198.3 426.2 197.6 428.2 196.1 430.3 194.7 432.3 193.9 434.3 193.3 436.3 193.0 438.4 192.5 440.4 191.5 442.4 191.5 444.5 191.4 446.5 191.1 448.5 191.5 450.6 191.6 452.6 191.7 454.6 191.9 456.7 192.5 458.7 192.2 460.7 191.6 462.8 190.9 464.8 191.2 466.8 191.1 468.9 189.8 470.9 188.7 472.9 188.4 475.0 187.5 477.0 187.7 479.0 188.4 481.1 189.5 483.1 190.4 485.1 191.1 487.1 192.2 489.2 194.0 491.2 195.0 493.2 196.6 495.3 197.1 497.3 198.2 499.3 198.5 501.4 198.8 503.4 200.1 505.4 201.1 507.5 201.8 509.5 202.8"/>
<path d="M306.3 207.3 308.3 207.3 310.4 207.3 312.4 207.3 314.4 207.3 316.5 207.3 318.5 207.3 320.5 207.3 322.6 207.3 324.6 207.3 326.6 207.3 328.7 207.3 330.7 207.3 332.7 207.3 334.7 207.3 336.8 207.3 338.8 207.3 340.8 207.3 342.9 207.3 344.9 207.3 346.9 207.3 349.0 207.3 351.0 207.3 353.0 207.3 355.1 207.3 357.1 207.3 359.1 207.3 361.2 207.3 363.2 207.3 365.2 207.3 367.3 207.3 369.3 207.3 371.3 207.3 373.4 207.3 375.4 207.3 377.4 207.3 379.5 207.3 381.5 207.3 383.5 207.3 385.5 207.3 387.6 207.3 389.6 207.3 391.6 207.3 393.7 207.3 395.7 206.7 397.7 205.6 399.8 204.7 401.8 204.2 403.8 203.2 405.9 202.7 407.9 202.3 409.9 201.6 412.0 200.7 414.0 199.2 416.0 198.0 418.1 197.2 420.1 196.8 422.1 196.1 424.2 196.4 426.2 197.0 428.2 196.5 430.3 195.5 432.3 195.7 434.3 196.3 436.3 195.7 438.4 194.8 440.4 193.8 442.4 193.0 444.5 192.5 446.5 191.8 448.5 191.3 450.6 191.4 452.6 190.8 454.6 190.3 456.7 190.8 458.7 190.6 460.7 190.0 462.8 189.5 464.8 190.0 466.8 189.5 468.9 189.8 470.9 189.3 472.9 188.8 475.0 187.1 477.0 186.6 479.0 187.1 481.1 188.2 483.1 190.5 485.1 192.3 487.1 192.7 489.2 194.2 491.2 195.3 493.2 196.0 495.3 196.8 497.3 199.1 499.3 200.4 501.4 202.1 503.4 202.8 505.4 203.6 507.5 203.9 509.5 204.7"/>
<path d="M306.3 207.3 308.3 207.3 310.4 207.3 312.4 207.3 314.4 207.3 316.5 207.3 318.5 207.3 320.5 207.3 322.6 207.3 324.6 207.3 326.6 207.3 328.7 207.3 330.7 207.3 332.7 207.3 334.7 207.3 336.8 207.3 338.8 207.3 340.8 207.3 342.9 207.3 344.9 207.3 346.9 207.3 349.0 207.3 351.0 207.3 353.0 207.3 355.1 207.3 357.1 207.3 359.1 207.3 361.2 207.3 363.2 207.3 365.2 207.3 367.3 207.3 369.3 207.3 371.3 207.3 373.4 207.3 375.4 207.3 377.4 207.3 379.5 207.3 381.5 207.3 383.5 207.3 385.5 207.3 387.6 207.3 389.6 207.3 391.6 207.3 393.7 207.3 395.7 207.1 397.7 206.1 399.8 205.2 401.8 204.2 403.8 203.1 405.9 202.6 407.9 201.7 409.9 200.5 412.0 198.9 414.0 197.6 416.0 197.8 418.1 197.4 420.1 196.7 422.1 195.4 424.2 193.9 426.2 194.4 428.2 194.6 430.3 193.8 432.3 193.2 434.3 192.2 436.3 191.7 438.4 191.2 440.4 189.8 442.4 189.4 444.5 189.7 446.5 189.2 448.5 189.6 450.6 190.6 452.6 190.9 454.6 191.3 456.7 191.5 458.7 191.9 460.7 191.6 462.8 192.5 464.8 192.3 466.8 190.7 468.9 190.2 470.9 189.5 472.9 188.3 475.0 188.3 477.0 187.7 479.0 186.9 481.1 188.0 483.1 188.9 485.1 190.3 487.1 191.7 489.2 192.9 491.2 194.0 493.2 195.3 495.3 196.3 497.3 197.5 499.3 198.1 501.4 198.2 503.4 199.5 505.4 200.9 507.5 202.0 509.5 202.8"/>
<path d="M306.3 207.3 308.3 207.3 310.4 207.3 312.4 207.3 314.4 207.3 316.5 207.3 318.5 207.3 320.5 207.3 322.6 207.3 324.6 207.3 326.6 207.3 328.7 207.3 330.7 207.3 332.7 207.3 334.7 207.3 336.8 207.3 338.8 207.3 340.8 207.3 342.9 207.3 344.9 207.3 346.9 207.3 349.0 207.3 351.0 207.3 353.0 207.3 355.1 207.3 357.1 207.3 359.1 207.3 361.2 207.3 363.2 207.3 365.2 207.3 367.3 207.3 369.3 207.3 371.3 207.3 373.4 207.3 375.4 207.3 377.4 207.3 379.5 207.3 381.5 207.3 383.5 207.3 385.5 207.3 387.6 207.3 389.6 207.3 391.6 207.2 393.7 206.7 395.7 206.0 397.7 205.2 399.8 204.6 401.8 203.5 403.8 203.0 405.9 202.8 407.9 202.0 409.9 201.5 412.0 200.1 414.0 198.4 416.0 197.3 418.1 196.8 420.1 196.1 422.1 194.6 424.2 193.5 426.2 193.6 428.2 192.7 430.3 192.1 432.3 191.8 434.3 191.5 436.3 190.8 438.4 189.5 440.4 187.7 442.4 187.2 444.5 186.7 446.5 186.8 448.5 186.7 450.6 186.8 452.6 187.2 454.6 187.4 456.7 187.5 458.7 187.5 460.7 186.3 462.8 185.8 464.8 184.4 466.8 182.8 468.9 182.0 470.9 182.0 472.9 181.3 475.0 181.2 477.0 180.7 479.0 181.2 481.1 182.5 483.1 184.1 485.1 186.2 487.1 188.4 489.2 189.2 491.2 190.5 493.2 192.7 495.3 194.9 497.3 196.5 499.3 198.3 501.4 199.2 503.4 199.5 505.4 200.6 507.5 202.3 509.5 203.2"/>
<path d="M306.3 207.3 308.3 207.3 310.4 207.3 312.4 207.3 314.4 207.3 316.5 207.3 318.5 207.3 320.5 207.3 322.6 207.3 324.6 207.3 326.6 207.3 328.7 207.3 330.7 207.3 332.7 207.3 334.7 207.3 336.8 207.3 338.8 207.3 340.8 207.3 342.9 207.3 344.9 207.3 346.9 207.3 349.0 207.3 351.0 207.3 353.0 207.3 355.1 207.3 357.1 207.3 359.1 207.3 361.2 207.3 363.2 207.3 365.2 207.3 367.3 207.3 369.3 207.3 371.3 207.3 373.4 207.3 375.4 207.3 377.4 207.3 379.5 207.3 381.5 207.3 383.5 207.3 385.5 207.3 387.6 207.3 389.6 207.3 391.6 207.3 393.7 207.3 395.7 207.1 397.7 206.8 399.8 206.2 401.8 205.3 403.8 203.9 405.9 203.1 407.9 202.7 409.9 202.0 412.0 200.6 414.0 199.0 416.0 197.9 418.1 196.8 420.1 195.7 422.1 194.6 424.2 194.1 426.2 193.3 428.2 192.1 430.3 191.5 432.3 191.1 434.3 191.2 436.3 190.7 438.4 190.8 440.4 190.3 442.4 189.3 444.5 188.9 446.5 188.3 448.5 188.4 450.6 188.0 452.6 187.1 454.6 186.2 456.7 185.9 458.7 185.8 460.7 185.4 462.8 185.4 464.8 185.7 466.8 185.8 468.9 185.2 470.9 184.5 472.9 183.4 475.0 182.7 477.0 182.1 479.0 181.8 481.1 183.8 483.1 185.7 485.1 186.7 487.1 187.3 489.2 189.0 491.2 191.0 493.2 192.4 495.3 192.8 497.3 193.4 499.3 195.2 501.4 197.6 503.4 199.6 505.4 201.1 507.5 202.4 509.5 205.0"/>
<path d="M306.3 207.3 308.3 207.3 310.4 207.3 312.4 207.3 314.4 207.3 316.5 207.3 318.5 207.3 320.5 207.3 322.6 207.3 324.6 207.3 326.6 207.3 328.7 207.3 330.7 207.3 332.7 207.3 334.7 207.3 336.8 207.3 338.8 207.3 340.8 207.3 342.9 207.3 344.9 207.3 346.9 207.3 349.0 207.3 351.0 207.3 353.0 207.3 355.1 207.3 357.1 207.3 359.1 207.3 361.2 207.3 363.2 207.3 365.2 207.3 367.3 207.3 369.3 207.3 371.3 207.3 373.4 207.3 375.4 207.3 377.4 207.3 379.5 207.3 381.5 207.3 383.5 207.3 385.5 207.3 387.6 207.3 389.6 207.3 391.6 207.2 393.7 207.2 395.7 207.1 397.7 207.0 399.8 207.0 401.8 207.0 403.8 206.9 405.9 206.9 407.9 206.8 409.9 206.7 412.0 206.6 414.0 206.5 416.0 206.5 418.1 206.6 420.1 206.4 422.1 206.2 424.2 206.2 426.2 206.2 428.2 206.2 430.3 206.2 432.3 206.1 434.3 206.0 436.3 206.2 438.4 206.2 440.4 206.1 442.4 206.2 444.5 206.3 446.5 206.2 448.5 206.1 450.6 206.0 452.6 206.0 454.6 206.2 456.7 206.0 458.7 205.6 460.7 205.6 462.8 205.6 464.8 205.5 466.8 205.7 468.9 205.8 470.9 205.6 472.9 205.6 475.0 205.5 477.0 205.4 479.0 205.3 481.1 205.8 483.1 205.8 485.1 205.8 487.1 206.1 489.2 206.3 491.2 206.0 493.2 206.1 495.3 206.4 497.3 206.6 499.3 206.6 501.4 206.5 503.4 206.6 505.4 206.7 507.5 206.8 509.5 206.7"/>
<path d="M306.3 207.3 308.3 207.3 310.4 207.3 312.4 207.3 314.4 207.3 316.5 207.3 318.5 207.3 320.5 207.3 322.6 207.3 324.6 207.3 326.6 207.3 328.7 207.3 330.7 207.3 332.7 207.3 334.7 207.3 336.8 207.3 338.8 207.3 340.8 207.3 342.9 207.3 344.9 207.3 346.9 207.3 349.0 207.3 351.0 207.3 353.0 207.3 355.1 207.3 357.1 207.3 359.1 207.3 361.2 207.3 363.2 207.3 365.2 207.3 367.3 207.3 369.3 207.3 371.3 207.3 373.4 207.3 375.4 207.3 377.4 207.3 379.5 207.3 381.5 207.3 383.5 207.3 385.5 207.3 387.6 207.3 389.6 207.3 391.6 207.3 393.7 207.3 395.7 207.3 397.7 207.3 399.8 207.2 401.8 207.0 403.8 206.9 405.9 206.9 407.9 206.4 409.9 206.1 412.0 206.0 414.0 205.9 416.0 205.6 418.1 205.3 420.1 204.8 422.1 205.1 424.2 205.0 426.2 204.4 428.2 204.5 430.3 204.9 432.3 205.0 434.3 204.6 436.3 205.4 438.4 205.7 440.4 205.2 442.4 205.4 444.5 205.6 446.5 205.8 448.5 205.2 450.6 204.3 452.6 204.2 454.6 204.2 456.7 204.0 458.7 203.6 460.7 203.4 462.8 203.7 464.8 204.3 466.8 204.0 468.9 204.0 470.9 204.8 472.9 204.0 475.0 204.0 477.0 204.8 479.0 204.6 481.1 204.8 483.1 204.7 485.1 204.8 487.1 204.8 489.2 205.2 491.2 205.2 493.2 205.2 495.3 205.5 497.3 205.4 499.3 205.5 501.4 205.7 503.4 205.5 505.4 205.7 507.5 206.0 509.5 206.0"/>
<path d="M306.3 207.3 308.3 207.3 310.4 207.3 312.4 207.3 314.4 207.3 316.5 207.3 318.5 207.3 320.5 207.3 322.6 207.3 324.6 207.3 326.6 207.3 328.7 207.3 330.7 207.3 332.7 207.3 334.7 207.3 336.8 207.3 338.8 207.3 340.8 207.3 342.9 207.3 344.9 207.3 346.9 207.3 349.0 207.3 351.0 207.3 353.0 207.3 355.1 207.3 357.1 207.3 359.1 207.3 361.2 207.3 363.2 207.3 365.2 207.3 367.3 207.3 369.3 207.3 371.3 207.3 373.4 207.3 375.4 207.3 377.4 207.3 379.5 207.3 381.5 207.3 383.5 207.3 385.5 207.3 387.6 207.3 389.6 207.3 391.6 207.3 393.7 207.3 395.7 207.3 397.7 207.2 399.8 207.0 401.8 206.7 403.8 206.6 405.9 206.6 407.9 206.8 409.9 206.8 412.0 207.1 414.0 206.9 416.0 206.6 418.1 206.2 420.1 206.1 422.1 205.9 424.2 206.1 426.2 205.9 428.2 205.4 430.3 204.9 432.3 204.6 434.3 204.6 436.3 204.4 438.4 204.0 440.4 203.8 442.4 203.6 444.5 204.3 446.5 204.9 448.5 204.9 450.6 204.8 452.6 204.4 454.6 203.7 456.7 203.5 458.7 203.8 460.7 204.1 462.8 203.9 464.8 203.9 466.8 203.9 468.9 203.9 470.9 203.9 472.9 203.9 475.0 204.2 477.0 203.6 479.0 203.7 481.1 203.3 483.1 203.2 485.1 203.2 487.1 204.0 489.2 203.9 491.2 203.9 493.2 204.1 495.3 204.8 497.3 205.2 499.3 205.6 501.4 205.5 503.4 205.7 505.4 205.7 507.5 205.4 509.5 205.4"/>
<path d="M306.3 207.3 308.3 207.3 310.4 207.3 312.4 207.3 314.4 207.3 316.5 207.3 318.5 207.3 320.5 207.3 322.6 207.3 324.6 207.3 326.6 207.3 328.7 207.3 330.7 207.3 332.7 207.3 334.7 207.3 336.8 207.3 338.8 207.3 340.8 207.3 342.9 207.3 344.9 207.3 346.9 207.3 349.0 207.3 351.0 207.3 353.0 207.3 355.1 207.3 357.1 207.3 359.1 207.3 361.2 207.3 363.2 207.3 365.2 207.3 367.3 207.3 369.3 207.3 371.3 207.3 373.4 207.3 375.4 207.3 377.4 207.3 379.5 207.3 381.5 207.3 383.5 207.3 385.5 207.3 387.6 207.3 389.6 207.3 391.6 207.3 393.7 207.3 395.7 207.3 397.7 206.9 399.8 206.6 401.8 206.4 403.8 206.1 405.9 205.5 407.9 205.1 409.9 204.6 412.0 204.5 414.0 204.7 416.0 204.6 418.1 204.7 420.1 204.5 422.1 204.1 424.2 204.3 426.2 204.1 428.2 203.4 430.3 202.9 432.3 201.8 434.3 201.8 436.3 202.3 438.4 202.9 440.4 203.6 442.4 203.2 444.5 204.1 446.5 204.2 448.5 203.3 450.6 203.7 452.6 203.4 454.6 203.4 456.7 204.2 458.7 204.3 460.7 204.0 462.8 203.4 464.8 202.9 466.8 202.9 468.9 202.8 470.9 201.8 472.9 201.2 475.0 201.5 477.0 201.9 479.0 202.3 481.1 201.7 483.1 202.4 485.1 202.8 487.1 203.4 489.2 203.5 491.2 203.8 493.2 203.8 495.3 203.3 497.3 203.2 499.3 203.9 501.4 204.6 503.4 204.8 505.4 204.4 507.5 204.3 509.5 204.9"/>
<path d="M306.3 207.3 308.3 207.3 310.4 207.3 312.4 207.3 314.4 207.3 316.5 207.3 318.5 207.3 320.5 207.3 322.6 207.3 324.6 207.3 326.6 207.3 328.7 207.3 330.7 207.3 332.7 207.3 334.7 207.3 336.8 207.3 338.8 207.3 340.8 207.3 342.9 207.3 344.9 207.3 346.9 207.3 349.0 207.3 351.0 207.3 353.0 207.3 355.1 207.3 357.1 207.3 359.1 207.3 361.2 207.3 363.2 207.3 365.2 207.3 367.3 207.3 369.3 207.3 371.3 207.3 373.4 207.3 375.4 207.3 377.4 207.3 379.5 207.3 381.5 207.3 383.5 207.3 385.5 207.3 387.6 207.3 389.6 207.3 391.6 207.3 393.7 207.3 395.7 207.3 397.7 207.3 399.8 207.3 401.8 207.1 403.8 206.9 405.9 206.3 407.9 206.3 409.9 206.0 412.0 206.0 414.0 205.8 416.0 205.7 418.1 205.8 420.1 205.7 422.1 204.9 424.2 204.4 426.2 204.2 428.2 203.9 430.3 203.8 432.3 203.8 434.3 203.3 436.3 203.2 438.4 203.2 440.4 203.0 442.4 202.8 444.5 202.6 446.5 202.4 448.5 202.7 450.6 202.3 452.6 201.3 454.6 201.0 456.7 201.0 458.7 200.9 460.7 201.0 462.8 201.4 464.8 202.1 466.8 202.7 468.9 203.4 470.9 203.1 472.9 202.5 475.0 202.0 477.0 201.1 479.0 201.2 481.1 202.2 483.1 202.7 485.1 202.9 487.1 202.6 489.2 202.8 491.2 203.5 493.2 203.5 495.3 203.6 497.3 203.6 499.3 203.8 501.4 204.1 503.4 203.8 505.4 203.9 507.5 204.5 509.5 204.5"/>
<path d="M306.3 207.3 308.3 207.3 310.4 207.3 312.4 207.3 314.4 207.3 316.5 207.3 318.5 207.3 320.5 207.3 322.6 207.3 324.6 207.3 326.6 207.3 328.7 207.3 330.7 207.3 332.7 207.3 334.7 207.3 336.8 207.3 338.8 207.3 340.8 207.3 342.9 207.3 344.9 207.3 346.9 207.3 349.0 207.3 351.0 207.3 353.0 207.3 355.1 207.3 357.1 207.3 359.1 207.3 361.2 207.3 363.2 207.3 365.2 207.3 367.3 207.3 369.3 207.3 371.3 207.3 373.4 207.3 375.4 207.3 377.4 207.3 379.5 207.3 381.5 207.3 383.5 207.3 385.5 207.3 387.6 207.3 389.6 207.3 391.6 207.3 393.7 207.3 395.7 207.3 397.7 207.3 399.8 207.3 401.8 207.3 403.8 206.9 405.9 206.3 407.9 205.6 409.9 205.1 412.0 204.6 414.0 204.7 416.0 205.0 418.1 204.6 420.1 203.3 422.1 203.3 424.2 203.6 426.2 203.5 428.2 202.8 430.3 202.3 432.3 202.4 434.3 202.8 436.3 202.7 438.4 202.5 440.4 202.6 442.4 203.0 444.5 202.7 446.5 202.2 448.5 202.1 450.6 202.0 452.6 202.1 454.6 201.9 456.7 201.9 458.7 201.7 460.7 201.8 462.8 202.1 464.8 202.1 466.8 201.7 468.9 202.7 470.9 202.1 472.9 201.1 475.0 200.9 477.0 200.5 479.0 201.3 481.1 201.8 483.1 201.4 485.1 201.6 487.1 201.5 489.2 201.9 491.2 203.1 493.2 203.8 495.3 204.4 497.3 204.3 499.3 204.4 501.4 204.5 503.4 204.6 505.4 204.6 507.5 204.1 509.5 203.8"/>
<path d="M306.3 207.3 308.3 207.3 310.4 207.3 312.4 207.3 314.4 207.3 316.5 207.3 318.5 207.3 320.5 207.3 322.6 207.3 324.6 207.3 326.6 207.3 328.7 207.3 330.7 207.3 332.7 207.3 334.7 207.3 336.8 207.3 338.8 207.3 340.8 207.3 342.9 207.3 344.9 207.3 346.9 207.3 349.0 207.3 351.0 207.3 353.0 207.3 355.1 207.3 357.1 207.3 359.1 207.3 361.2 207.3 363.2 207.3 365.2 207.3 367.3 207.3 369.3 207.3 371.3 207.3 373.4 207.3 375.4 207.3 377.4 207.3 379.5 207.3 381.5 207.3 383.5 207.3 385.5 207.3 387.6 207.3 389.6 207.3 391.6 207.3 393.7 207.3 395.7 207.3 397.7 207.3 399.8 207.1 401.8 206.5 403.8 205.8 405.9 204.9 407.9 204.4 409.9 205.3 412.0 205.5 414.0 205.1 416.0 204.7 418.1 203.4 420.1 203.0 422.1 202.8 424.2 202.4 426.2 202.3 428.2 202.4 430.3 202.5 432.3 202.4 434.3 202.3 436.3 202.3 438.4 202.2 440.4 202.2 442.4 202.0 444.5 201.9 446.5 201.5 448.5 201.0 450.6 201.0 452.6 201.2 454.6 202.0 456.7 201.9 458.7 201.9 460.7 201.1 462.8 200.4 464.8 200.7 466.8 200.7 468.9 200.9 470.9 201.1 472.9 200.7 475.0 199.8 477.0 199.1 479.0 199.3 481.1 200.0 483.1 199.2 485.1 199.1 487.1 199.3 489.2 199.2 491.2 199.4 493.2 200.3 495.3 201.2 497.3 201.7 499.3 202.3 501.4 203.3 503.4 204.4 505.4 205.1 507.5 205.5 509.5 205.6"/>
<path d="M306.3 207.3 308.3 207.3 310.4 207.3 312.4 207.3 314.4 207.3 316.5 207.3 318.5 207.3 320.5 207.3 322.6 207.3 324.6 207.3 326.6 207.3 328.7 207.3 330.7 207.3 332.7 207.3 334.7 207.3 336.8 207.3 338.8 207.3 340.8 207.3 342.9 207.3 344.9 207.3 346.9 207.3 349.0 207.3 351.0 207.3 353.0 207.3 355.1 207.3 357.1 207.3 359.1 207.3 361.2 207.3 363.2 207.3 365.2 207.3 367.3 207.3 369.3 207.3 371.3 207.3 373.4 207.3 375.4 207.3 377.4 207.3 379.5 207.3 381.5 207.3 383.5 207.3 385.5 207.3 387.6 207.3 389.6 207.3 391.6 207.1 393.7 207.0 395.7 206.9 397.7 206.7 399.8 206.5 401.8 206.2 403.8 206.0 405.9 206.1 407.9 206.1 409.9 205.7 412.0 205.3 414.0 205.2 416.0 204.9 418.1 203.8 420.1 203.4 422.1 202.9 424.2 202.6 426.2 202.6 428.2 201.9 430.3 201.6 432.3 201.5 434.3 201.4 436.3 200.9 438.4 200.1 440.4 199.7 442.4 199.5 444.5 199.3 446.5 199.1 448.5 199.0 450.6 198.9 452.6 199.5 454.6 199.3 456.7 198.6 458.7 198.5 460.7 199.1 462.8 199.4 464.8 200.2 466.8 199.9 468.9 199.8 470.9 199.5 472.9 199.6 475.0 199.4 477.0 199.2 479.0 199.0 481.1 199.2 483.1 199.3 485.1 199.9 487.1 200.4 489.2 200.7 491.2 201.2 493.2 201.8 495.3 201.6 497.3 201.6 499.3 202.2 501.4 203.5 503.4 204.7 505.4 205.5 507.5 205.1 509.5 205.2"/>
<path d="M306.3 207.3 308.3 207.3 310.4 207.3 312.4 207.3 314.4 207.3 316.5 207.3 318.5 207.3 320.5 207.3 322.6 207.3 324.6 207.3 326.6 207.3 328.7 207.3 330.7 207.3 332.7 207.3 334.7 207.3 336.8 207.3 338.8 207.3 340.8 207.3 342.9 207.3 344.9 207.3 346.9 207.3 349.0 207.3 351.0 207.3 353.0 207.3 355.1 207.3 357.1 207.3 359.1 207.3 361.2 207.3 363.2 207.3 365.2 207.3 367.3 207.3 369.3 207.3 371.3 207.3 373.4 207.3 375.4 207.3 377.4 207.3 379.5 207.3 381.5 207.3 383.5 207.3 385.5 207.3 387.6 207.3 389.6 207.3 391.6 207.3 393.7 207.3 395.7 207.3 397.7 207.0 399.8 206.5 401.8 205.8 403.8 205.4 405.9 204.5 407.9 203.9 409.9 203.9 412.0 204.0 414.0 203.3 416.0 202.4 418.1 202.0 420.1 201.5 422.1 201.2 424.2 200.8 426.2 200.7 428.2 200.9 430.3 201.0 432.3 200.1 434.3 199.1 436.3 198.9 438.4 198.6 440.4 199.2 442.4 199.1 444.5 198.5 446.5 198.2 448.5 198.5 450.6 199.4 452.6 200.0 454.6 200.0 456.7 199.5 458.7 199.3 460.7 199.8 462.8 199.6 464.8 199.5 466.8 199.4 468.9 198.6 470.9 198.9 472.9 198.8 475.0 197.5 477.0 198.0 479.0 198.6 481.1 198.8 483.1 200.2 485.1 200.3 487.1 200.4 489.2 200.1 491.2 201.1 493.2 201.9 495.3 202.2 497.3 202.5 499.3 202.8 501.4 202.9 503.4 202.9 505.4 202.3 507.5 202.9 509.5 204.0"/>
<path d="M306.3 207.3 308.3 207.3 310.4 207.3 312.4 207.3 314.4 207.3 316.5 207.3 318.5 207.3 320.5 207.3 322.6 207.3 324.6 207.3 326.6 207.3 328.7 207.3 330.7 207.3 332.7 207.3 334.7 207.3 336.8 207.3 338.8 207.3 340.8 207.3 342.9 207.3 344.9 207.3 346.9 207.3 349.0 207.3 351.0 207.3 353.0 207.3 355.1 207.3 357.1 207.3 359.1 207.3 361.2 207.3 363.2 207.3 365.2 207.3 367.3 207.3 369.3 207.3 371.3 207.3 373.4 207.3 375.4 207.3 377.4 207.3 379.5 207.3 381.5 207.3 383.5 207.3 385.5 207.3 387.6 207.3 389.6 207.2 391.6 206.9 393.7 206.7 395.7 206.5 397.7 206.2 399.8 206.1 401.8 205.9 403.8 205.4 405.9 205.4 407.9 204.9 409.9 204.5 412.0 204.5 414.0 204.9 416.0 204.7 418.1 204.2 420.1 203.5 422.1 202.5 424.2 201.7 426.2 201.9 428.2 202.2 430.3 202.2 432.3 201.8 434.3 201.5 436.3 201.0 438.4 200.6 440.4 200.7 442.4 201.1 444.5 200.8 446.5 199.9 448.5 199.4 450.6 199.6 452.6 199.7 454.6 199.0 456.7 199.0 458.7 198.8 460.7 198.9 462.8 199.2 464.8 200.1 466.8 200.2 468.9 199.5 470.9 199.1 472.9 198.1 475.0 196.8 477.0 195.6 479.0 195.3 481.1 196.5 483.1 197.8 485.1 198.6 487.1 198.8 489.2 198.5 491.2 198.9 493.2 198.9 495.3 199.9 497.3 200.8 499.3 201.4 501.4 201.3 503.4 202.3 505.4 202.7 507.5 203.0 509.5 202.9"/>
<path d="M306.3 207.3 308.3 207.3 310.4 207.3 312.4 207.3 314.4 207.3 316.5 207.3 318.5 207.3 320.5 207.3 322.6 207.3 324.6 207.3 326.6 207.3 328.7 207.3 330.7 207.3 332.7 207.3 334.7 207.3 336.8 207.3 338.8 207.3 340.8 207.3 342.9 207.3 344.9 207.3 346.9 207.3 349.0 207.3 351.0 207.3 353.0 207.3 355.1 207.3 357.1 207.3 359.1 207.3 361.2 207.3 363.2 207.3 365.2 207.3 367.3 207.3 369.3 207.3 371.3 207.3 373.4 207.3 375.4 207.3 377.4 207.3 379.5 207.3 381.5 207.3 383.5 207.3 385.5 207.3 387.6 207.3 389.6 207.3 391.6 206.8 393.7 206.2 395.7 205.6 397.7 205.2 399.8 204.9 401.8 204.5 403.8 204.1 405.9 203.4 407.9 202.5 409.9 202.5 412.0 202.3 414.0 202.6 416.0 202.0 418.1 201.5 420.1 201.2 422.1 200.6 424.2 200.2 426.2 200.1 428.2 200.3 430.3 200.7 432.3 200.6 434.3 200.8 436.3 201.2 438.4 200.6 440.4 200.3 442.4 200.7 444.5 200.8 446.5 199.9 448.5 199.2 450.6 198.3 452.6 198.0 454.6 197.3 456.7 197.0 458.7 195.9 460.7 195.5 462.8 196.0 464.8 196.1 466.8 195.9 468.9 196.6 470.9 196.9 472.9 196.1 475.0 195.2 477.0 194.6 479.0 195.3 481.1 195.5 483.1 195.7 485.1 196.8 487.1 197.6 489.2 198.0 491.2 198.5 493.2 199.7 495.3 200.0 497.3 200.3 499.3 201.3 501.4 201.9 503.4 202.6 505.4 202.3 507.5 202.2 509.5 202.5"/>
</g>
<line x1="115.5" y1="41.5" x2="115.5" y2="96.9" stroke="#000" stroke-width="1.25" stroke-dasharray="3.6 4.0"/>
<line x1="130.4" y1="41.5" x2="130.4" y2="96.9" stroke="#000" stroke-width="1.25"/>
<line x1="140.1" y1="41.5" x2="140.1" y2="96.9" stroke="#000" stroke-width="1.25" stroke-dasharray="3.6 4.0"/>
<line x1="152.3" y1="100.0" x2="152.3" y2="155.1" stroke="#000" stroke-width="1.25" stroke-dasharray="3.6 4.0"/>
<line x1="165.3" y1="100.0" x2="165.3" y2="155.1" stroke="#000" stroke-width="1.25"/>
<line x1="175.5" y1="100.0" x2="175.5" y2="155.1" stroke="#000" stroke-width="1.25" stroke-dasharray="3.6 4.0"/>
<line x1="114.8" y1="158.3" x2="114.8" y2="213.3" stroke="#000" stroke-width="1.25" stroke-dasharray="3.6 4.0"/>
<line x1="129.1" y1="158.3" x2="129.1" y2="213.3" stroke="#000" stroke-width="1.25"/>
<line x1="141.9" y1="158.3" x2="141.9" y2="213.3" stroke="#000" stroke-width="1.25" stroke-dasharray="3.6 4.0"/>
<line x1="383.9" y1="43.9" x2="383.9" y2="97.4" stroke="#000" stroke-width="1.25" stroke-dasharray="3.6 4.0"/>
<line x1="400.3" y1="43.9" x2="400.3" y2="97.4" stroke="#000" stroke-width="1.25"/>
<line x1="421.5" y1="43.9" x2="421.5" y2="97.4" stroke="#000" stroke-width="1.25" stroke-dasharray="3.6 4.0"/>
<line x1="408.1" y1="100.5" x2="408.1" y2="154.5" stroke="#000" stroke-width="1.25" stroke-dasharray="3.6 4.0"/>
<line x1="429.6" y1="100.5" x2="429.6" y2="154.5" stroke="#000" stroke-width="1.25"/>
<line x1="438.6" y1="100.5" x2="438.6" y2="154.5" stroke="#000" stroke-width="1.25" stroke-dasharray="3.6 4.0"/>
<line x1="382.7" y1="158.2" x2="382.7" y2="211.2" stroke="#000" stroke-width="1.25" stroke-dasharray="3.6 4.0"/>
<line x1="405.7" y1="158.2" x2="405.7" y2="211.2" stroke="#000" stroke-width="1.25"/>
<line x1="422.9" y1="158.2" x2="422.9" y2="211.2" stroke="#000" stroke-width="1.25" stroke-dasharray="3.6 4.0"/>
<text x="19.45" y="56.10" font-size="11.4" textLength="17.29" lengthAdjust="spacingAndGlyphs" fill="#000">0.2</text>
<text x="19.52" y="76.50" font-size="11.4" textLength="15.36" lengthAdjust="spacingAndGlyphs" fill="#000">0.1</text>
<text x="30.10" y="97.40" font-size="11.4" textLength="6.34" lengthAdjust="spacingAndGlyphs" fill="#000">0</text>
<text x="19.45" y="115.60" font-size="11.4" textLength="17.29" lengthAdjust="spacingAndGlyphs" fill="#000">0.2</text>
<text x="19.52" y="135.50" font-size="11.4" textLength="15.36" lengthAdjust="spacingAndGlyphs" fill="#000">0.1</text>
<text x="30.10" y="155.90" font-size="11.4" textLength="6.34" lengthAdjust="spacingAndGlyphs" fill="#000">0</text>
<text x="19.45" y="172.90" font-size="11.4" textLength="17.29" lengthAdjust="spacingAndGlyphs" fill="#000">0.2</text>
<text x="19.52" y="193.60" font-size="11.4" textLength="15.36" lengthAdjust="spacingAndGlyphs" fill="#000">0.1</text>
<text x="30.10" y="214.00" font-size="11.4" textLength="6.34" lengthAdjust="spacingAndGlyphs" fill="#000">0</text>
<text x="287.51" y="59.50" font-size="11.4" textLength="15.68" lengthAdjust="spacingAndGlyphs" fill="#000">0.1</text>
<text x="280.67" y="79.30" font-size="11.4" textLength="23.37" lengthAdjust="spacingAndGlyphs" fill="#000">0.05</text>
<text x="297.38" y="98.30" font-size="11.4" textLength="6.57" lengthAdjust="spacingAndGlyphs" fill="#000">0</text>
<text x="287.51" y="117.30" font-size="11.4" textLength="15.68" lengthAdjust="spacingAndGlyphs" fill="#000">0.1</text>
<text x="280.67" y="136.50" font-size="11.4" textLength="23.37" lengthAdjust="spacingAndGlyphs" fill="#000">0.05</text>
<text x="297.38" y="155.00" font-size="11.4" textLength="6.57" lengthAdjust="spacingAndGlyphs" fill="#000">0</text>
<text x="287.51" y="174.10" font-size="11.4" textLength="15.68" lengthAdjust="spacingAndGlyphs" fill="#000">0.1</text>
<text x="280.67" y="192.90" font-size="11.4" textLength="23.37" lengthAdjust="spacingAndGlyphs" fill="#000">0.05</text>
<text x="297.38" y="211.70" font-size="11.4" textLength="6.57" lengthAdjust="spacingAndGlyphs" fill="#000">0</text>
<text x="34.78" y="226.40" font-size="11.4" textLength="6.57" lengthAdjust="spacingAndGlyphs" fill="#000">0</text>
<text x="83.43" y="226.40" font-size="11.4" textLength="14.34" lengthAdjust="spacingAndGlyphs" fill="#000">50</text>
<text x="133.02" y="226.40" font-size="11.4" textLength="19.82" lengthAdjust="spacingAndGlyphs" fill="#000">100</text>
<text x="185.42" y="226.40" font-size="11.4" textLength="19.71" lengthAdjust="spacingAndGlyphs" fill="#000">150</text>
<text x="236.66" y="226.40" font-size="11.4" textLength="20.39" lengthAdjust="spacingAndGlyphs" fill="#000">200</text>
<text x="302.58" y="224.50" font-size="11.4" textLength="6.57" lengthAdjust="spacingAndGlyphs" fill="#000">0</text>
<text x="350.05" y="224.50" font-size="11.4" textLength="13.91" lengthAdjust="spacingAndGlyphs" fill="#000">50</text>
<text x="398.54" y="224.50" font-size="11.4" textLength="19.28" lengthAdjust="spacingAndGlyphs" fill="#000">100</text>
<text x="448.80" y="224.50" font-size="11.4" textLength="20.25" lengthAdjust="spacingAndGlyphs" fill="#000">150</text>
<text x="498.86" y="224.50" font-size="11.4" textLength="20.39" lengthAdjust="spacingAndGlyphs" fill="#000">200</text>
<text x="41.96" y="66.00" font-size="11.7" textLength="54.19" lengthAdjust="spacingAndGlyphs" fill="#000">Estimated</text>
<text x="41.98" y="76.30" font-size="11.7" textLength="72.53" lengthAdjust="spacingAndGlyphs" fill="#000">changepoints</text>
<text x="169.34" y="48.60" font-size="11.7" textLength="54.23" lengthAdjust="spacingAndGlyphs" fill="#000">True edge</text>
<text x="125.74" y="240.60" font-size="14.7" textLength="33.79" lengthAdjust="spacingAndGlyphs" fill="#000">Time</text>
<text x="391.33" y="237.50" font-size="13.9" textLength="33.14" lengthAdjust="spacingAndGlyphs" fill="#000">Time</text>
<text class="sf" x="36.83" y="260.50" font-size="14.5" font-weight="bold" font-family='"Liberation Serif", "Times New Roman", serif' textLength="19.34" lengthAdjust="spacingAndGlyphs" fill="#000">(a)</text>
<text class="sf" x="59.36" y="260.50" font-size="12.2" font-family='"Liberation Serif", "Times New Roman", serif' textLength="44.99" lengthAdjust="spacingAndGlyphs" fill="#000">Sparsity</text>
<text class="sf" x="107.54" y="260.50" font-size="12.2" font-family='"Liberation Serif", "Times New Roman", serif' textLength="22.83" lengthAdjust="spacingAndGlyphs" fill="#000">low:</text>
<text class="sf" x="136.93" y="260.50" font-size="12.2" font-family='"Liberation Serif", "Times New Roman", serif' textLength="17.06" lengthAdjust="spacingAndGlyphs" fill="#000">log</text>
<text class="sf" x="153.54" y="263.20" font-size="8.6" font-family='"Liberation Serif", "Times New Roman", serif' textLength="11.00" lengthAdjust="spacingAndGlyphs" fill="#000">10</text>
<text class="sf" x="167.91" y="260.50" font-size="12.2" font-family='"Liberation Serif", "Times New Roman", serif' textLength="6.90" lengthAdjust="spacingAndGlyphs" fill="#000">λ</text>
<text class="sf" x="178.11" y="260.50" font-size="12.2" font-family='"Liberation Serif", "Times New Roman", serif' textLength="10.88" lengthAdjust="spacingAndGlyphs" fill="#000">=</text>
<text class="sf" x="192.40" y="260.50" font-size="12.2" font-family='"Liberation Serif", "Times New Roman", serif' textLength="9.68" lengthAdjust="spacingAndGlyphs" fill="#000">−</text>
<text class="sf" x="201.85" y="260.50" font-size="12.2" font-family='"Liberation Serif", "Times New Roman", serif' textLength="16.78" lengthAdjust="spacingAndGlyphs" fill="#000">2.5</text>
<text class="sf" x="295.30" y="256.50" font-size="14.5" font-weight="bold" font-family='"Liberation Serif", "Times New Roman", serif' textLength="21.39" lengthAdjust="spacingAndGlyphs" fill="#000">(b)</text>
<text class="sf" x="319.15" y="256.50" font-size="12.2" font-family='"Liberation Serif", "Times New Roman", serif' textLength="45.20" lengthAdjust="spacingAndGlyphs" fill="#000">Sparsity</text>
<text class="sf" x="370.40" y="256.50" font-size="12.2" font-family='"Liberation Serif", "Times New Roman", serif' textLength="28.30" lengthAdjust="spacingAndGlyphs" fill="#000">high:</text>
<text class="sf" x="401.23" y="256.50" font-size="12.2" font-family='"Liberation Serif", "Times New Roman", serif' textLength="17.06" lengthAdjust="spacingAndGlyphs" fill="#000">log</text>
<text class="sf" x="417.52" y="259.20" font-size="8.6" font-family='"Liberation Serif", "Times New Roman", serif' textLength="12.37" lengthAdjust="spacingAndGlyphs" fill="#000">10</text>
<text class="sf" x="432.68" y="256.50" font-size="12.2" font-family='"Liberation Serif", "Times New Roman", serif' textLength="7.52" lengthAdjust="spacingAndGlyphs" fill="#000">λ</text>
<text class="sf" x="443.09" y="256.50" font-size="12.2" font-family='"Liberation Serif", "Times New Roman", serif' textLength="11.12" lengthAdjust="spacingAndGlyphs" fill="#000">=</text>
<text class="sf" x="456.97" y="256.50" font-size="12.2" font-family='"Liberation Serif", "Times New Roman", serif' textLength="8.61" lengthAdjust="spacingAndGlyphs" fill="#000">−</text>
<text class="sf" x="465.62" y="256.50" font-size="12.2" font-family='"Liberation Serif", "Times New Roman", serif' textLength="17.75" lengthAdjust="spacingAndGlyphs" fill="#000">2.3</text>
<text transform="translate(13.00,93.69) rotate(-90)" font-size="14.7" textLength="47.92" lengthAdjust="spacingAndGlyphs">Edge 1</text>
<text transform="translate(13.00,151.48) rotate(-90)" font-size="14.7" textLength="47.71" lengthAdjust="spacingAndGlyphs">Edge 2</text>
<text transform="translate(13.00,208.48) rotate(-90)" font-size="14.7" textLength="47.66" lengthAdjust="spacingAndGlyphs">Edge 3</text>
<text transform="translate(275.00,94.25) rotate(-90)" font-size="14.4" textLength="45.57" lengthAdjust="spacingAndGlyphs">Edge 1</text>
<text transform="translate(275.00,151.66) rotate(-90)" font-size="14.4" textLength="46.09" lengthAdjust="spacingAndGlyphs">Edge 2</text>
<text transform="translate(275.00,209.27) rotate(-90)" font-size="14.4" textLength="46.30" lengthAdjust="spacingAndGlyphs">Edge 3</text>
<line x1="101.3" y1="64.3" x2="120.0" y2="64.3" stroke="#000" stroke-width="1.4"/>
<path d="M125.4 64.3 L119.0 61.099999999999994 L119.0 67.5 Z" fill="#000"/>
<line x1="94.8" y1="18.8" x2="83.7" y2="3.2" stroke="#000" stroke-width="1.9"/>
<line x1="94.8" y1="18.8" x2="105.6" y2="3.2" stroke="#000" stroke-width="1.9"/>
<line x1="94.8" y1="18.8" x2="117.0" y2="18.8" stroke="#000" stroke-width="1.9"/>
<line x1="94.8" y1="18.8" x2="83.7" y2="34.4" stroke="#000" stroke-width="1.9"/>
<circle cx="83.7" cy="3.2" r="3.00" fill="#000"/>
<circle cx="105.6" cy="3.2" r="3.00" fill="#000"/>
<circle cx="72.85" cy="18.85" r="2.70" fill="#000"/>
<circle cx="94.8" cy="18.8" r="3.00" fill="#000"/>
<circle cx="117.0" cy="18.8" r="3.00" fill="#000"/>
<circle cx="83.7" cy="34.4" r="3.00" fill="#000"/>
<circle cx="105.6" cy="34.4" r="2.70" fill="#000"/>
<line x1="182.2" y1="18.8" x2="160.5" y2="18.8" stroke="#000" stroke-width="1.9"/>
<line x1="182.2" y1="18.8" x2="205.0" y2="18.8" stroke="#000" stroke-width="1.9"/>
<line x1="182.2" y1="18.8" x2="171.9" y2="3.0" stroke="#000" stroke-width="1.9"/>
<line x1="182.2" y1="18.8" x2="193.5" y2="3.0" stroke="#000" stroke-width="1.9"/>
<line x1="182.2" y1="18.8" x2="193.5" y2="34.5" stroke="#000" stroke-width="1.9"/>
<circle cx="160.5" cy="18.8" r="3.00" fill="#000"/>
<circle cx="182.2" cy="18.8" r="3.00" fill="#000"/>
<circle cx="205.0" cy="18.8" r="3.00" fill="#000"/>
<circle cx="171.9" cy="3.0" r="3.00" fill="#000"/>
<circle cx="193.5" cy="3.0" r="3.00" fill="#000"/>
<circle cx="171.9" cy="34.5" r="2.70" fill="#000"/>
<circle cx="193.5" cy="34.5" r="3.00" fill="#000"/>
<line x1="127.8" y1="18.8" x2="147.9" y2="18.8" stroke="#000" stroke-width="2.0"/>
<path d="M154.3 18.8 L146.9 14.9 L146.9 22.7 Z" fill="#000"/>
<line x1="361.0" y1="21.3" x2="350.2" y2="6.2" stroke="#000" stroke-width="2.0"/>
<line x1="361.0" y1="21.3" x2="371.8" y2="6.2" stroke="#000" stroke-width="2.0"/>
<line x1="361.0" y1="21.3" x2="382.6" y2="21.3" stroke="#000" stroke-width="2.0"/>
<line x1="361.0" y1="21.3" x2="350.2" y2="36.7" stroke="#000" stroke-width="2.0"/>
<circle cx="350.2" cy="6.2" r="2.80" fill="#000"/>
<circle cx="371.8" cy="6.2" r="2.80" fill="#000"/>
<circle cx="339.9" cy="21.3" r="2.52" fill="#000"/>
<circle cx="361.0" cy="21.3" r="2.80" fill="#000"/>
<circle cx="382.6" cy="21.3" r="2.80" fill="#000"/>
<circle cx="350.2" cy="36.7" r="2.80" fill="#000"/>
<circle cx="371.8" cy="36.7" r="2.52" fill="#000"/>
<line x1="446.2" y1="21.3" x2="425.4" y2="21.3" stroke="#000" stroke-width="2.0"/>
<line x1="446.2" y1="21.3" x2="467.8" y2="21.3" stroke="#000" stroke-width="2.0"/>
<line x1="446.2" y1="21.3" x2="436.2" y2="6.2" stroke="#000" stroke-width="2.0"/>
<line x1="446.2" y1="21.3" x2="457.5" y2="6.2" stroke="#000" stroke-width="2.0"/>
<line x1="446.2" y1="21.3" x2="457.5" y2="36.7" stroke="#000" stroke-width="2.0"/>
<circle cx="425.4" cy="21.3" r="2.80" fill="#000"/>
<circle cx="446.2" cy="21.3" r="2.80" fill="#000"/>
<circle cx="467.8" cy="21.3" r="2.80" fill="#000"/>
<circle cx="436.2" cy="6.2" r="2.80" fill="#000"/>
<circle cx="457.5" cy="6.2" r="2.80" fill="#000"/>
<circle cx="436.2" cy="36.7" r="2.52" fill="#000"/>
<circle cx="457.5" cy="36.7" r="2.80" fill="#000"/>
<line x1="393.0" y1="21.5" x2="413.0" y2="21.5" stroke="#000" stroke-width="2.2"/>
<path d="M418.8 21.5 L412.0 17.5 L412.0 25.5 Z" fill="#000"/>
<text x="85.2" y="24.9" text-anchor="middle" font-size="8.8" fill="#2a2a2a" style="stroke:#2a2a2a;stroke-width:0.15px">2</text>
<text x="171.2" y="16.2" text-anchor="middle" font-size="8.8" fill="#2a2a2a" style="stroke:#2a2a2a;stroke-width:0.15px">3</text>
<text x="191.7" y="26.5" text-anchor="middle" font-size="8.8" fill="#2a2a2a" style="stroke:#2a2a2a;stroke-width:0.15px">1</text>
<text x="351.7" y="28.2" text-anchor="middle" font-size="8.8" fill="#2a2a2a" style="stroke:#2a2a2a;stroke-width:0.15px">2</text>
<text x="435.2" y="19.5" text-anchor="middle" font-size="8.8" fill="#2a2a2a" style="stroke:#2a2a2a;stroke-width:0.15px">3</text>
<text x="455.1" y="29.3" text-anchor="middle" font-size="8.8" fill="#2a2a2a" style="stroke:#2a2a2a;stroke-width:0.15px">1</text>
</svg></body></html>
